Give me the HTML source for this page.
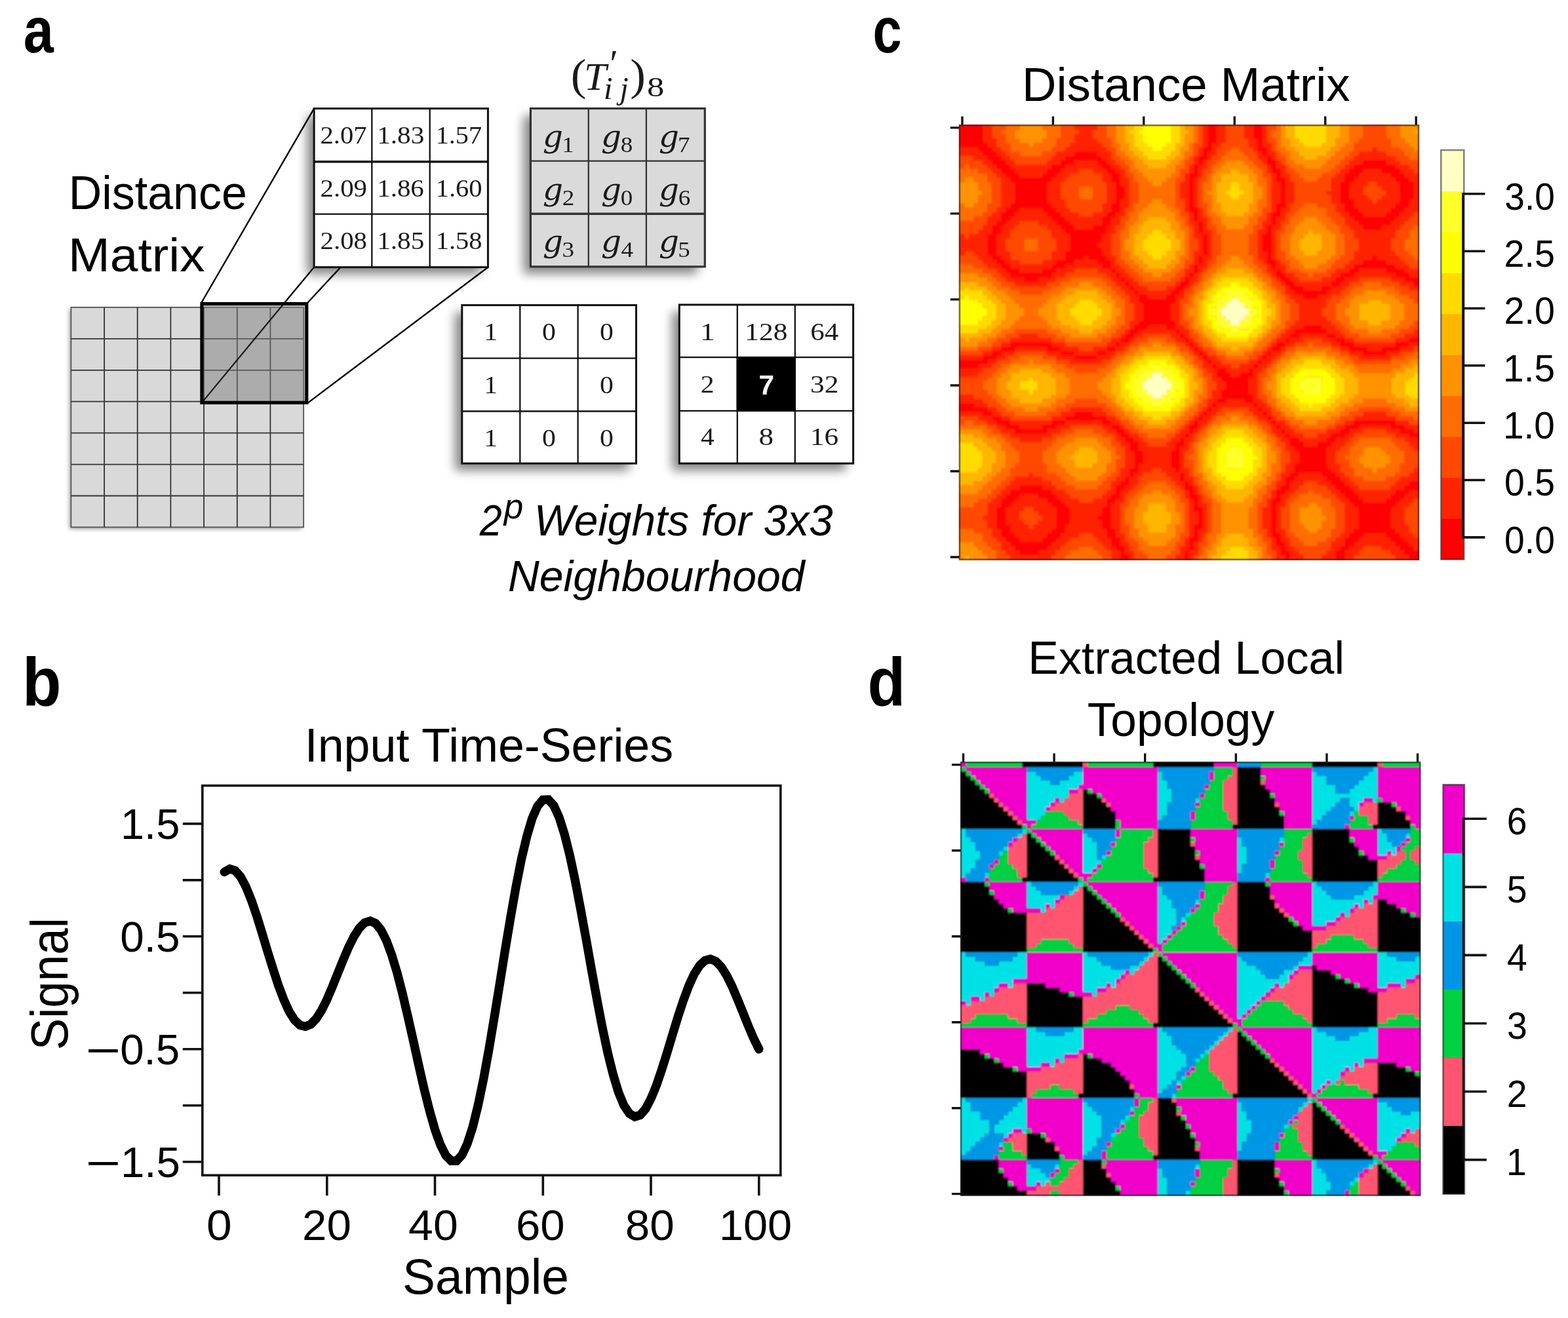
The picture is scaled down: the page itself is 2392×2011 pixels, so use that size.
<!DOCTYPE html>
<html lang="en"><head><meta charset="utf-8"><title>Figure</title>
<style>
html,body{margin:0;padding:0;background:#fff;}
body{width:2392px;height:2011px;overflow:hidden;}
svg{display:block;}
</style></head><body>
<svg width="2392" height="2011" viewBox="0 0 2392 2011">
<defs>
<filter id="sh" x="-20%" y="-20%" width="140%" height="140%"><feGaussianBlur stdDeviation="8"/></filter>
<filter id="sh2" x="-20%" y="-20%" width="140%" height="140%"><feGaussianBlur stdDeviation="3"/></filter>
<filter id="bl" x="-5%" y="-5%" width="110%" height="110%"><feGaussianBlur stdDeviation="1.7"/></filter>
<filter id="bl2" x="-5%" y="-5%" width="110%" height="110%"><feGaussianBlur stdDeviation="1.1"/></filter>
<clipPath id="clipc"><rect x="1463.0" y="190.3" width="701.9" height="664.3"/></clipPath>
<clipPath id="clipd"><rect x="1465.2" y="1162.4" width="701.9" height="662.2"/></clipPath>
</defs>
<rect width="2392" height="2011" fill="#fff"/>
<text font-family='"Liberation Sans", sans-serif' font-size="98.60" font-weight="bold" transform="translate(35.82 79.60) scale(0.8399 1.0000)">a</text>
<text font-family='"Liberation Sans", sans-serif' font-size="72.87" transform="translate(104.63 319.40) scale(0.9604 1.0000)">Distance</text>
<text font-family='"Liberation Sans", sans-serif' font-size="71.71" transform="translate(104.08 413.70) scale(1.0679 1.0000)">Matrix</text>
<rect x="105.9" y="471.5" width="354.70000000000005" height="335.4" fill="#000" opacity="0.4" filter="url(#sh2)"/>
<rect x="108.4" y="469.0" width="354.70000000000005" height="335.4" fill="#d9d9d9" stroke="#555" stroke-width="1.8"/>
<path d="M159.1 469.0V804.4M108.4 516.9H463.1M209.7 469.0V804.4M108.4 564.8H463.1M260.4 469.0V804.4M108.4 612.7H463.1M311.1 469.0V804.4M108.4 660.7H463.1M361.8 469.0V804.4M108.4 708.6H463.1M412.4 469.0V804.4M108.4 756.5H463.1" stroke="#333" stroke-width="1.8" fill="none"/>
<path d="M306.9 462.5L479.1 165.6M467.8 463.5L744.4 165.6M468.8 615.4L744.4 407.7" stroke="#000" stroke-width="2.4" fill="none"/>
<rect x="307.9" y="463.5" width="159.90000000000003" height="150.89999999999998" fill="#7f7f7f" fill-opacity="0.5" stroke="#000" stroke-width="5.1"/>
<path d="M307.9 614.4L434.8 461" stroke="#000" stroke-width="2.2" fill="none" opacity="0.85"/>
<path d="M434.8 461L479.1 407.7" stroke="#000" stroke-width="2.4" fill="none"/>
<rect x="468.1" y="176.6" width="265.29999999999995" height="242.1" fill="#000" opacity="0.47" filter="url(#sh)"/>
<rect x="479.1" y="165.6" width="265.29999999999995" height="242.1" fill="#fff" stroke="#111" stroke-width="3.0"/>
<path d="M567.3 165.6V407.7M655.7 165.6V407.7M479.1 326.7H744.4" stroke="#111" stroke-width="2.3" fill="none"/>
<path d="M479.1 246.7H744.4" stroke="#111" stroke-width="3.5" fill="none"/>
<text font-family='"Liberation Serif", serif' font-size="38.19" fill="#1a1a1a" transform="translate(488.58 218.90) scale(1.0615 1.0000)">2.07</text>
<text font-family='"Liberation Serif", serif' font-size="38.19" fill="#1a1a1a" transform="translate(575.20 218.90) scale(1.0781 1.0000)">1.83</text>
<text font-family='"Liberation Serif", serif' font-size="38.19" fill="#1a1a1a" transform="translate(664.68 218.90) scale(1.0538 1.0000)">1.57</text>
<text font-family='"Liberation Serif", serif' font-size="38.34" fill="#1a1a1a" transform="translate(488.56 299.80) scale(1.0652 1.0000)">2.09</text>
<text font-family='"Liberation Serif", serif' font-size="38.34" fill="#1a1a1a" transform="translate(575.22 299.80) scale(1.0673 1.0000)">1.86</text>
<text font-family='"Liberation Serif", serif' font-size="38.34" fill="#1a1a1a" transform="translate(664.66 299.80) scale(1.0561 1.0000)">1.60</text>
<text font-family='"Liberation Serif", serif' font-size="38.49" fill="#1a1a1a" transform="translate(488.57 380.20) scale(1.0594 1.0000)">2.08</text>
<text font-family='"Liberation Serif", serif' font-size="38.49" fill="#1a1a1a" transform="translate(575.20 380.20) scale(1.0696 1.0000)">1.85</text>
<text font-family='"Liberation Serif", serif' font-size="38.49" fill="#1a1a1a" transform="translate(664.66 380.20) scale(1.0520 1.0000)">1.58</text>
<rect x="798.4" y="176.5" width="265.9" height="241.39999999999998" fill="#000" opacity="0.47" filter="url(#sh)"/>
<rect x="809.4" y="165.5" width="265.9" height="241.39999999999998" fill="#dadada" stroke="#333" stroke-width="3.2"/>
<path d="M897.8 165.5V406.9M985.9 165.5V406.9M809.4 245.7H1075.3" stroke="#333" stroke-width="2.3" fill="none"/>
<path d="M809.4 326.3H1075.3" stroke="#333" stroke-width="3.5" fill="none"/>
<text fill="#1a1a1a"><tspan x="828.11" y="223.98" font-family='"DejaVu Serif", "Liberation Serif", serif' font-size="47.28" font-style="italic" textLength="30.96" lengthAdjust="spacingAndGlyphs">g</tspan><tspan x="857.16" y="232.20" font-family='"Liberation Serif", serif' font-size="34.32" textLength="18.53" lengthAdjust="spacingAndGlyphs">1</tspan></text>
<text fill="#1a1a1a"><tspan x="916.91" y="223.98" font-family='"DejaVu Serif", "Liberation Serif", serif' font-size="47.28" font-style="italic" textLength="30.96" lengthAdjust="spacingAndGlyphs">g</tspan><tspan x="946.81" y="232.20" font-family='"Liberation Serif", serif' font-size="34.32" textLength="18.53" lengthAdjust="spacingAndGlyphs">8</tspan></text>
<text fill="#1a1a1a"><tspan x="1005.11" y="223.98" font-family='"DejaVu Serif", "Liberation Serif", serif' font-size="47.28" font-style="italic" textLength="30.96" lengthAdjust="spacingAndGlyphs">g</tspan><tspan x="1033.99" y="232.20" font-family='"Liberation Serif", serif' font-size="34.32" textLength="18.53" lengthAdjust="spacingAndGlyphs">7</tspan></text>
<text fill="#1a1a1a"><tspan x="828.11" y="304.58" font-family='"DejaVu Serif", "Liberation Serif", serif' font-size="47.28" font-style="italic" textLength="30.96" lengthAdjust="spacingAndGlyphs">g</tspan><tspan x="857.82" y="312.80" font-family='"Liberation Serif", serif' font-size="34.32" textLength="18.53" lengthAdjust="spacingAndGlyphs">2</tspan></text>
<text fill="#1a1a1a"><tspan x="916.91" y="304.58" font-family='"DejaVu Serif", "Liberation Serif", serif' font-size="47.28" font-style="italic" textLength="30.96" lengthAdjust="spacingAndGlyphs">g</tspan><tspan x="946.81" y="312.80" font-family='"Liberation Serif", serif' font-size="34.32" textLength="18.53" lengthAdjust="spacingAndGlyphs">0</tspan></text>
<text fill="#1a1a1a"><tspan x="1005.11" y="304.58" font-family='"DejaVu Serif", "Liberation Serif", serif' font-size="47.28" font-style="italic" textLength="30.96" lengthAdjust="spacingAndGlyphs">g</tspan><tspan x="1034.82" y="312.80" font-family='"Liberation Serif", serif' font-size="34.32" textLength="18.53" lengthAdjust="spacingAndGlyphs">6</tspan></text>
<text fill="#1a1a1a"><tspan x="828.11" y="384.18" font-family='"DejaVu Serif", "Liberation Serif", serif' font-size="47.28" font-style="italic" textLength="30.96" lengthAdjust="spacingAndGlyphs">g</tspan><tspan x="857.64" y="392.40" font-family='"Liberation Serif", serif' font-size="34.32" textLength="18.53" lengthAdjust="spacingAndGlyphs">3</tspan></text>
<text fill="#1a1a1a"><tspan x="916.91" y="384.18" font-family='"DejaVu Serif", "Liberation Serif", serif' font-size="47.28" font-style="italic" textLength="30.96" lengthAdjust="spacingAndGlyphs">g</tspan><tspan x="947.46" y="392.40" font-family='"Liberation Serif", serif' font-size="34.32" textLength="18.53" lengthAdjust="spacingAndGlyphs">4</tspan></text>
<text fill="#1a1a1a"><tspan x="1005.11" y="384.18" font-family='"DejaVu Serif", "Liberation Serif", serif' font-size="47.28" font-style="italic" textLength="30.96" lengthAdjust="spacingAndGlyphs">g</tspan><tspan x="1034.27" y="392.40" font-family='"Liberation Serif", serif' font-size="34.32" textLength="18.53" lengthAdjust="spacingAndGlyphs">5</tspan></text>
<text fill="#1a1a1a"><tspan x="870.68" y="137.00" font-family='"Liberation Serif", serif' font-size="67.20" textLength="23.67" lengthAdjust="spacingAndGlyphs">(</tspan><tspan x="891.12" y="136.50" font-family='"Liberation Serif", serif' font-size="59.08" font-style="italic" textLength="34.08" lengthAdjust="spacingAndGlyphs">T</tspan><tspan x="930.29" y="116.56" font-family='"Liberation Serif", serif' font-size="58.26">′</tspan><tspan x="920.76" y="150.80" font-family='"Liberation Serif", serif' font-size="47.70" font-style="italic" textLength="13.86" lengthAdjust="spacingAndGlyphs">i</tspan><tspan x="945.38" y="150.80" font-family='"Liberation Serif", serif' font-size="47.70" font-style="italic">j</tspan><tspan x="961.19" y="137.00" font-family='"Liberation Serif", serif' font-size="67.20" textLength="23.67" lengthAdjust="spacingAndGlyphs">)</tspan><tspan x="987.02" y="147.40" font-family='"Liberation Serif", serif' font-size="41.72" textLength="26.35" lengthAdjust="spacingAndGlyphs">8</tspan></text>
<rect x="693.8" y="476.6" width="265.70000000000005" height="241.5" fill="#000" opacity="0.47" filter="url(#sh)"/>
<rect x="704.8" y="465.6" width="265.70000000000005" height="241.5" fill="#fff" stroke="#111" stroke-width="3.0"/>
<path d="M793.3 465.6V707.1M881.6 465.6V707.1M704.8 546.7H970.5M704.8 627.5H970.5" stroke="#111" stroke-width="2.3" fill="none"/>
<text font-family='"Liberation Serif", serif' font-size="37.89" fill="#1a1a1a" transform="translate(738.31 518.70) scale(1.1000 1.0000)">1</text>
<text font-family='"Liberation Serif", serif' font-size="37.89" fill="#1a1a1a" transform="translate(826.88 518.70) scale(1.1000 1.0000)">0</text>
<text font-family='"Liberation Serif", serif' font-size="37.89" fill="#1a1a1a" transform="translate(915.08 518.70) scale(1.1000 1.0000)">0</text>
<text font-family='"Liberation Serif", serif' font-size="37.89" fill="#1a1a1a" transform="translate(738.31 599.80) scale(1.1000 1.0000)">1</text>
<text font-family='"Liberation Serif", serif' font-size="37.89" fill="#1a1a1a" transform="translate(915.08 599.80) scale(1.1000 1.0000)">0</text>
<text font-family='"Liberation Serif", serif' font-size="37.89" fill="#1a1a1a" transform="translate(738.31 680.90) scale(1.1000 1.0000)">1</text>
<text font-family='"Liberation Serif", serif' font-size="37.89" fill="#1a1a1a" transform="translate(826.88 680.90) scale(1.1000 1.0000)">0</text>
<text font-family='"Liberation Serif", serif' font-size="37.89" fill="#1a1a1a" transform="translate(915.08 680.90) scale(1.1000 1.0000)">0</text>
<rect x="1025.3" y="476.0" width="265.29999999999995" height="242.10000000000002" fill="#000" opacity="0.47" filter="url(#sh)"/>
<rect x="1036.3" y="465.0" width="265.29999999999995" height="242.10000000000002" fill="#fff" stroke="#111" stroke-width="3.0"/>
<path d="M1124.8 465.0V707.1M1212.8 465.0V707.1M1036.3 545.2H1301.6M1036.3 626.8H1301.6" stroke="#111" stroke-width="2.3" fill="none"/>
<rect x="1123.6" y="544" width="90.4" height="84.0" fill="#000"/>
<text font-family='"Liberation Serif", serif' font-size="38.94" fill="#1a1a1a" transform="translate(1068.03 518.70) scale(1.1655 1.0000)">1</text>
<text font-family='"Liberation Serif", serif' font-size="38.94" fill="#1a1a1a" transform="translate(1136.30 518.70) scale(1.1149 1.0000)">128</text>
<text font-family='"Liberation Serif", serif' font-size="38.94" fill="#1a1a1a" transform="translate(1236.17 518.70) scale(1.1061 1.0000)">64</text>
<text font-family='"Liberation Serif", serif' font-size="37.74" fill="#1a1a1a" transform="translate(1068.73 599.00) scale(1.1061 1.0000)">2</text>
<text font-family='"Liberation Sans", sans-serif' font-size="42.33" font-weight="bold" fill="#fff" transform="translate(1157.40 601.50) scale(1.0003 1.0000)">7</text>
<text font-family='"Liberation Serif", serif' font-size="37.74" fill="#1a1a1a" transform="translate(1235.94 599.00) scale(1.1515 1.0000)">32</text>
<text font-family='"Liberation Serif", serif' font-size="37.89" fill="#1a1a1a" transform="translate(1068.88 679.40) scale(1.0842 1.0000)">4</text>
<text font-family='"Liberation Serif", serif' font-size="37.89" fill="#1a1a1a" transform="translate(1157.51 679.40) scale(1.1924 1.0000)">8</text>
<text font-family='"Liberation Serif", serif' font-size="37.89" fill="#1a1a1a" transform="translate(1235.81 679.40) scale(1.1425 1.0000)">16</text>
<text fill="#000"><tspan x="731.71" y="816.60" font-family='"Liberation Sans", sans-serif' font-size="67.20" font-style="italic" textLength="33.93" lengthAdjust="spacingAndGlyphs">2</tspan><tspan x="768.83" y="791.02" font-family='"Liberation Sans", sans-serif' font-size="53.05" font-style="italic">p </tspan><tspan x="814.74" y="816.60" font-family='"Liberation Sans", sans-serif' font-size="67.20" font-style="italic" textLength="455.98" lengthAdjust="spacingAndGlyphs">Weights for 3x3</tspan></text>
<text font-family='"Liberation Sans", sans-serif' font-size="67.05" font-style="italic" transform="translate(775.01 902.10) scale(0.9871 1.0000)">Neighbourhood</text>
<text font-family='"Liberation Sans", sans-serif' font-size="103.86" font-weight="bold" transform="translate(33.97 1076.20) scale(0.9380 1.0000)">b</text>
<text font-family='"Liberation Sans", sans-serif' font-size="71.56" transform="translate(464.76 1161.50) scale(1.0030 1.0000)">Input Time-Series</text>
<rect x="308.8" y="1198.7" width="882.0" height="594.5" fill="#fff" stroke="#111" stroke-width="3.6"/>
<path d="M278.8 1256.9H308.8M278.8 1342.9H308.8M278.8 1428.8H308.8M278.8 1514.8H308.8M278.8 1600.8H308.8M278.8 1686.7H308.8M278.8 1772.7H308.8M334.0 1793.2V1824.2M498.8 1793.2V1824.2M663.5 1793.2V1824.2M828.3 1793.2V1824.2M993.0 1793.2V1824.2M1157.8 1793.2V1824.2" stroke="#111" stroke-width="3.6" fill="none"/>
<text font-family='"Liberation Sans", sans-serif' font-size="65.45" transform="translate(183.92 1280.45) scale(0.9946 1.0000)">1.5</text>
<text font-family='"Liberation Sans", sans-serif' font-size="65.45" transform="translate(183.17 1452.35) scale(1.0030 1.0000)">0.5</text>
<text fill="#000"><tspan x="130.40" y="1624.85" font-family='"Liberation Sans", sans-serif' font-size="65.45" textLength="53.70" lengthAdjust="spacingAndGlyphs">−</tspan><tspan x="183.17" y="1624.25" font-family='"Liberation Sans", sans-serif' font-size="65.45">0.5</tspan></text>
<text fill="#000"><tspan x="130.40" y="1796.75" font-family='"Liberation Sans", sans-serif' font-size="65.45" textLength="53.70" lengthAdjust="spacingAndGlyphs">−</tspan><tspan x="183.92" y="1796.15" font-family='"Liberation Sans", sans-serif' font-size="65.45">1.5</tspan></text>
<text font-family='"Liberation Sans", sans-serif' font-size="65.23" transform="translate(314.92 1892.30) scale(1.0659 1.0000)">0</text>
<text font-family='"Liberation Sans", sans-serif' font-size="65.23" transform="translate(461.04 1892.30) scale(1.0300 1.0000)">20</text>
<text font-family='"Liberation Sans", sans-serif' font-size="65.23" transform="translate(623.07 1892.30) scale(1.0424 1.0000)">40</text>
<text font-family='"Liberation Sans", sans-serif' font-size="65.23" transform="translate(787.05 1892.30) scale(1.0285 1.0000)">60</text>
<text font-family='"Liberation Sans", sans-serif' font-size="65.23" transform="translate(953.83 1892.30) scale(1.0344 1.0000)">80</text>
<text font-family='"Liberation Sans", sans-serif' font-size="65.23" transform="translate(1097.00 1892.30) scale(1.0213 1.0000)">100</text>
<text font-family='"Liberation Sans", sans-serif' font-size="75.99" transform="translate(614.03 1973.60) scale(0.9859 1.0000)">Sample</text>
<text font-family='"Liberation Sans", sans-serif' font-size="80.55" transform="translate(102.7 1599.1) rotate(-90) translate(-3.27 0) scale(0.9033 1)">Signal</text>
<path d="M342.2 1330.5L350.5 1325.7L358.7 1328.3L367.0 1337.7L375.2 1353.1L383.4 1373.4L391.7 1397.5L399.9 1423.9L408.1 1451.3L416.4 1478.1L424.6 1503.2L432.9 1525.2L441.1 1543.2L449.3 1556.3L457.6 1564.1L465.8 1566.3L474.0 1563.0L482.3 1554.5L490.5 1541.6L498.8 1525.0L507.0 1505.8L515.2 1485.3L523.5 1464.8L531.7 1445.5L540.0 1428.8L548.2 1415.9L556.4 1407.8L564.7 1405.2L572.9 1408.8L581.1 1418.7L589.4 1434.9L597.6 1457.1L605.9 1484.6L614.1 1516.4L622.3 1551.5L630.6 1588.3L638.8 1625.5L647.0 1661.4L655.3 1694.6L663.5 1723.4L671.8 1746.5L680.0 1762.7L688.2 1771.2L696.5 1771.2L704.7 1762.5L712.9 1745.1L721.2 1719.3L729.4 1685.9L737.7 1646.0L745.9 1600.8L754.1 1551.8L762.4 1500.7L770.6 1449.4L778.9 1399.6L787.1 1353.1L795.3 1311.5L803.6 1276.4L811.8 1248.9L820.0 1230.0L828.3 1220.3L836.5 1220.0L844.8 1229.1L853.0 1247.1L861.2 1273.1L869.5 1306.2L877.7 1345.0L885.9 1388.0L894.2 1433.4L902.4 1479.7L910.7 1525.0L918.9 1567.7L927.1 1606.4L935.4 1639.8L943.6 1666.8L951.8 1686.7L960.1 1699.1L968.3 1703.9L976.6 1701.3L984.8 1691.9L993.0 1676.5L1001.3 1656.2L1009.5 1632.1L1017.8 1605.7L1026.0 1578.3L1034.2 1551.5L1042.5 1526.4L1050.7 1504.4L1058.9 1486.4L1067.2 1473.3L1075.4 1465.5L1083.7 1463.3L1091.9 1466.6L1100.1 1475.1L1108.4 1488.0L1116.6 1504.6L1124.8 1523.8L1133.1 1544.3L1141.3 1564.8L1149.6 1584.1L1157.8 1600.8" stroke="#000" stroke-width="13.4" fill="none" stroke-linecap="round" stroke-linejoin="miter" stroke-miterlimit="6"/>
<text font-family='"Liberation Sans", sans-serif' font-size="98.60" font-weight="bold" transform="translate(1331.43 79.90) scale(0.8030 1.0000)">c</text>
<text font-family='"Liberation Sans", sans-serif' font-size="72.29" transform="translate(1559.01 154.00) scale(1.0051 1.0000)">Distance Matrix</text>
<g clip-path="url(#clipc)"><g filter="url(#bl)">
<rect x="1452.3" y="179.6" width="723.3" height="685.6999999999999" fill="#FF0000"/>
<path fill="#FF2400" d="M1499.3 179.6H1513.3V198.2H1499.3zM1639.1 179.6H1674.1V198.2H1639.1zM1834.9 179.6H1841.9V198.2H1834.9zM1855.9 179.6H1869.9V198.2H1855.9zM1897.9 179.6H1911.9V198.2H1897.9zM1925.8 179.6H1932.8V198.2H1925.8zM1499.3 198.2H1513.3V204.8H1499.3zM1646.1 198.2H1667.1V204.8H1646.1zM1834.9 198.2H1841.9V204.8H1834.9zM1855.9 198.2H1869.9V204.8H1855.9zM1897.9 198.2H1911.9V204.8H1897.9zM1925.8 198.2H1932.8V204.8H1925.8zM1499.3 204.8H1513.3V211.5H1499.3zM1639.1 204.8H1667.1V211.5H1639.1zM1834.9 204.8H1841.9V211.5H1834.9zM1855.9 204.8H1869.9V211.5H1855.9zM1897.9 204.8H1911.9V211.5H1897.9zM1925.8 204.8H1932.8V211.5H1925.8zM1499.3 211.5H1520.2V218.1H1499.3zM1639.1 211.5H1674.1V218.1H1639.1zM1834.9 211.5H1841.9V218.1H1834.9zM1855.9 211.5H1869.9V218.1H1855.9zM1904.9 211.5H1918.8V218.1H1904.9zM1925.8 211.5H1932.8V218.1H1925.8zM1506.3 218.1H1520.2V224.7H1506.3zM1632.1 218.1H1681.1V224.7H1632.1zM1834.9 218.1H1841.9V224.7H1834.9zM1848.9 218.1H1862.9V224.7H1848.9zM1904.9 218.1H1918.8V224.7H1904.9zM1925.8 218.1H1939.8V224.7H1925.8zM1452.3 224.7H1492.3V231.3H1452.3zM1513.3 224.7H1527.2V231.3H1513.3zM1625.1 224.7H1688.1V231.3H1625.1zM1827.9 224.7H1834.9V231.3H1827.9zM1848.9 224.7H1855.9V231.3H1848.9zM1911.9 224.7H1918.8V231.3H1911.9zM1932.8 224.7H1939.8V231.3H1932.8zM2093.7 224.7H2100.7V231.3H2093.7zM1452.3 231.3H1499.3V237.9H1452.3zM1520.2 231.3H1534.2V237.9H1520.2zM1611.2 231.3H1639.1V237.9H1611.2zM1674.1 231.3H1695.1V237.9H1674.1zM1827.9 231.3H1834.9V237.9H1827.9zM1841.9 231.3H1855.9V237.9H1841.9zM1918.8 231.3H1925.8V237.9H1918.8zM1932.8 231.3H1946.8V237.9H1932.8zM2072.7 231.3H2114.6V237.9H2072.7zM1485.3 237.9H1506.3V244.5H1485.3zM1527.2 237.9H1541.2V244.5H1527.2zM1604.2 237.9H1625.1V244.5H1604.2zM1681.1 237.9H1695.1V244.5H1681.1zM1820.9 237.9H1827.9V244.5H1820.9zM1841.9 237.9H1848.9V244.5H1841.9zM1918.8 237.9H1932.8V244.5H1918.8zM1939.8 237.9H1946.8V244.5H1939.8zM2065.7 237.9H2128.6V244.5H2065.7zM1499.3 244.5H1513.3V251.2H1499.3zM1534.2 244.5H1548.2V251.2H1534.2zM1597.2 244.5H1618.1V251.2H1597.2zM1639.1 244.5H1674.1V251.2H1639.1zM1688.1 244.5H1702.1V251.2H1688.1zM1820.9 244.5H1827.9V251.2H1820.9zM1834.9 244.5H1841.9V251.2H1834.9zM1925.8 244.5H1932.8V251.2H1925.8zM1946.8 244.5H1953.8V251.2H1946.8zM2058.7 244.5H2079.7V251.2H2058.7zM2114.6 244.5H2135.6V251.2H2114.6zM1506.3 251.2H1520.2V257.8H1506.3zM1541.2 251.2H1604.2V257.8H1541.2zM1625.1 251.2H1681.1V257.8H1625.1zM1695.1 251.2H1709.1V257.8H1695.1zM1813.9 251.2H1820.9V257.8H1813.9zM1827.9 251.2H1841.9V257.8H1827.9zM1932.8 251.2H1939.8V257.8H1932.8zM1946.8 251.2H1960.8V257.8H1946.8zM2051.7 251.2H2065.7V257.8H2051.7zM2128.6 251.2H2149.6V257.8H2128.6zM1513.3 257.8H1527.2V264.4H1513.3zM1548.2 257.8H1597.2V264.4H1548.2zM1618.1 257.8H1646.1V264.4H1618.1zM1667.1 257.8H1688.1V264.4H1667.1zM1702.1 257.8H1716.0V264.4H1702.1zM1813.9 257.8H1820.9V264.4H1813.9zM1827.9 257.8H1834.9V264.4H1827.9zM1932.8 257.8H1939.8V264.4H1932.8zM1953.8 257.8H1960.8V264.4H1953.8zM2044.7 257.8H2058.7V264.4H2044.7zM2079.7 257.8H2107.7V264.4H2079.7zM2135.6 257.8H2156.6V264.4H2135.6zM1520.2 264.4H1534.2V271.0H1520.2zM1555.2 264.4H1590.2V271.0H1555.2zM1611.2 264.4H1632.1V271.0H1611.2zM1681.1 264.4H1695.1V271.0H1681.1zM1709.1 264.4H1716.0V271.0H1709.1zM1807.0 264.4H1813.9V271.0H1807.0zM1827.9 264.4H1834.9V271.0H1827.9zM1939.8 264.4H1946.8V271.0H1939.8zM1953.8 264.4H1967.8V271.0H1953.8zM2037.7 264.4H2051.7V271.0H2037.7zM2072.7 264.4H2121.6V271.0H2072.7zM2142.6 264.4H2175.6V271.0H2142.6zM1527.2 271.0H1541.2V277.6H1527.2zM1604.2 271.0H1625.1V277.6H1604.2zM1681.1 271.0H1695.1V277.6H1681.1zM1709.1 271.0H1723.0V277.6H1709.1zM1807.0 271.0H1813.9V277.6H1807.0zM1820.9 271.0H1827.9V277.6H1820.9zM1939.8 271.0H1946.8V277.6H1939.8zM1960.8 271.0H1967.8V277.6H1960.8zM2030.7 271.0H2051.7V277.6H2030.7zM2065.7 271.0H2128.6V277.6H2065.7zM2149.6 271.0H2175.6V277.6H2149.6zM1527.2 277.6H1548.2V284.2H1527.2zM1597.2 277.6H1618.1V284.2H1597.2zM1688.1 277.6H1702.1V284.2H1688.1zM1709.1 277.6H1723.0V284.2H1709.1zM1800.0 277.6H1813.9V284.2H1800.0zM1820.9 277.6H1827.9V284.2H1820.9zM1939.8 277.6H1953.8V284.2H1939.8zM1960.8 277.6H1974.8V284.2H1960.8zM2030.7 277.6H2044.7V284.2H2030.7zM2058.7 277.6H2086.7V284.2H2058.7zM2100.7 277.6H2135.6V284.2H2100.7zM2156.6 277.6H2175.6V284.2H2156.6zM1527.2 284.2H1548.2V290.9H1527.2zM1597.2 284.2H1618.1V290.9H1597.2zM1688.1 284.2H1702.1V290.9H1688.1zM1716.0 284.2H1723.0V290.9H1716.0zM1800.0 284.2H1813.9V290.9H1800.0zM1820.9 284.2H1827.9V290.9H1820.9zM1939.8 284.2H1953.8V290.9H1939.8zM1960.8 284.2H1974.8V290.9H1960.8zM2030.7 284.2H2044.7V290.9H2030.7zM2058.7 284.2H2079.7V290.9H2058.7zM2107.7 284.2H2135.6V290.9H2107.7zM2156.6 284.2H2175.6V290.9H2156.6zM1527.2 290.9H1548.2V297.5H1527.2zM1597.2 290.9H1618.1V297.5H1597.2zM1688.1 290.9H1702.1V297.5H1688.1zM1716.0 290.9H1723.0V297.5H1716.0zM1800.0 290.9H1813.9V297.5H1800.0zM1820.9 290.9H1827.9V297.5H1820.9zM1939.8 290.9H1953.8V297.5H1939.8zM1960.8 290.9H1974.8V297.5H1960.8zM2023.7 290.9H2044.7V297.5H2023.7zM2058.7 290.9H2079.7V297.5H2058.7zM2114.6 290.9H2135.6V297.5H2114.6zM2156.6 290.9H2175.6V297.5H2156.6zM1527.2 297.5H1548.2V304.1H1527.2zM1597.2 297.5H1618.1V304.1H1597.2zM1688.1 297.5H1702.1V304.1H1688.1zM1716.0 297.5H1723.0V304.1H1716.0zM1800.0 297.5H1813.9V304.1H1800.0zM1820.9 297.5H1827.9V304.1H1820.9zM1939.8 297.5H1953.8V304.1H1939.8zM1960.8 297.5H1974.8V304.1H1960.8zM2030.7 297.5H2044.7V304.1H2030.7zM2058.7 297.5H2086.7V304.1H2058.7zM2107.7 297.5H2135.6V304.1H2107.7zM2156.6 297.5H2175.6V304.1H2156.6zM1527.2 304.1H1548.2V310.7H1527.2zM1597.2 304.1H1625.1V310.7H1597.2zM1688.1 304.1H1702.1V310.7H1688.1zM1709.1 304.1H1723.0V310.7H1709.1zM1807.0 304.1H1813.9V310.7H1807.0zM1820.9 304.1H1827.9V310.7H1820.9zM1939.8 304.1H1953.8V310.7H1939.8zM1960.8 304.1H1974.8V310.7H1960.8zM2030.7 304.1H2044.7V310.7H2030.7zM2065.7 304.1H2093.7V310.7H2065.7zM2100.7 304.1H2135.6V310.7H2100.7zM2149.6 304.1H2175.6V310.7H2149.6zM1527.2 310.7H1541.2V317.3H1527.2zM1604.2 310.7H1625.1V317.3H1604.2zM1681.1 310.7H1695.1V317.3H1681.1zM1709.1 310.7H1723.0V317.3H1709.1zM1807.0 310.7H1813.9V317.3H1807.0zM1820.9 310.7H1827.9V317.3H1820.9zM1939.8 310.7H1946.8V317.3H1939.8zM1960.8 310.7H1967.8V317.3H1960.8zM2037.7 310.7H2051.7V317.3H2037.7zM2065.7 310.7H2128.6V317.3H2065.7zM2149.6 310.7H2175.6V317.3H2149.6zM1520.2 317.3H1534.2V323.9H1520.2zM1555.2 317.3H1590.2V323.9H1555.2zM1611.2 317.3H1632.1V323.9H1611.2zM1681.1 317.3H1695.1V323.9H1681.1zM1709.1 317.3H1716.0V323.9H1709.1zM1807.0 317.3H1813.9V323.9H1807.0zM1827.9 317.3H1834.9V323.9H1827.9zM1939.8 317.3H1946.8V323.9H1939.8zM1953.8 317.3H1967.8V323.9H1953.8zM2037.7 317.3H2051.7V323.9H2037.7zM2072.7 317.3H2121.6V323.9H2072.7zM2142.6 317.3H2175.6V323.9H2142.6zM1513.3 323.9H1527.2V330.6H1513.3zM1548.2 323.9H1597.2V330.6H1548.2zM1618.1 323.9H1646.1V330.6H1618.1zM1667.1 323.9H1688.1V330.6H1667.1zM1702.1 323.9H1716.0V330.6H1702.1zM1813.9 323.9H1820.9V330.6H1813.9zM1827.9 323.9H1834.9V330.6H1827.9zM1932.8 323.9H1939.8V330.6H1932.8zM1953.8 323.9H1960.8V330.6H1953.8zM2044.7 323.9H2058.7V330.6H2044.7zM2079.7 323.9H2114.6V330.6H2079.7zM2135.6 323.9H2156.6V330.6H2135.6zM1506.3 330.6H1527.2V337.2H1506.3zM1541.2 330.6H1604.2V337.2H1541.2zM1625.1 330.6H1681.1V337.2H1625.1zM1695.1 330.6H1709.1V337.2H1695.1zM1813.9 330.6H1820.9V337.2H1813.9zM1827.9 330.6H1841.9V337.2H1827.9zM1932.8 330.6H1939.8V337.2H1932.8zM1946.8 330.6H1960.8V337.2H1946.8zM2051.7 330.6H2065.7V337.2H2051.7zM2128.6 330.6H2149.6V337.2H2128.6zM1506.3 337.2H1520.2V343.8H1506.3zM1534.2 337.2H1555.2V343.8H1534.2zM1583.2 337.2H1611.2V343.8H1583.2zM1632.1 337.2H1681.1V343.8H1632.1zM1695.1 337.2H1709.1V343.8H1695.1zM1813.9 337.2H1827.9V343.8H1813.9zM1834.9 337.2H1841.9V343.8H1834.9zM1925.8 337.2H1939.8V343.8H1925.8zM1946.8 337.2H1953.8V343.8H1946.8zM2051.7 337.2H2072.7V343.8H2051.7zM2121.6 337.2H2142.6V343.8H2121.6zM1499.3 343.8H1513.3V350.4H1499.3zM1527.2 343.8H1548.2V350.4H1527.2zM1597.2 343.8H1618.1V350.4H1597.2zM1639.1 343.8H1667.1V350.4H1639.1zM1688.1 343.8H1702.1V350.4H1688.1zM1820.9 343.8H1827.9V350.4H1820.9zM1834.9 343.8H1841.9V350.4H1834.9zM1925.8 343.8H1932.8V350.4H1925.8zM1939.8 343.8H1953.8V350.4H1939.8zM2058.7 343.8H2079.7V350.4H2058.7zM2107.7 343.8H2135.6V350.4H2107.7zM1492.3 350.4H1513.3V357.0H1492.3zM1527.2 350.4H1541.2V357.0H1527.2zM1604.2 350.4H1625.1V357.0H1604.2zM1688.1 350.4H1702.1V357.0H1688.1zM1820.9 350.4H1827.9V357.0H1820.9zM1834.9 350.4H1848.9V357.0H1834.9zM1918.8 350.4H1932.8V357.0H1918.8zM1939.8 350.4H1946.8V357.0H1939.8zM2065.7 350.4H2128.6V357.0H2065.7zM1452.3 357.0H1471.3V363.6H1452.3zM1478.3 357.0H1506.3V363.6H1478.3zM1520.2 357.0H1541.2V363.6H1520.2zM1604.2 357.0H1632.1V363.6H1604.2zM1681.1 357.0H1695.1V363.6H1681.1zM1820.9 357.0H1834.9V363.6H1820.9zM1841.9 357.0H1848.9V363.6H1841.9zM1918.8 357.0H1925.8V363.6H1918.8zM1939.8 357.0H1946.8V363.6H1939.8zM2065.7 357.0H2128.6V363.6H2065.7zM1452.3 363.6H1506.3V370.3H1452.3zM1520.2 363.6H1534.2V370.3H1520.2zM1611.2 363.6H1632.1V370.3H1611.2zM1681.1 363.6H1695.1V370.3H1681.1zM1827.9 363.6H1834.9V370.3H1827.9zM1841.9 363.6H1848.9V370.3H1841.9zM1918.8 363.6H1925.8V370.3H1918.8zM1939.8 363.6H1946.8V370.3H1939.8zM2072.7 363.6H2121.6V370.3H2072.7zM1452.3 370.3H1506.3V376.9H1452.3zM1520.2 370.3H1534.2V376.9H1520.2zM1611.2 370.3H1632.1V376.9H1611.2zM1674.1 370.3H1695.1V376.9H1674.1zM1827.9 370.3H1834.9V376.9H1827.9zM1841.9 370.3H1848.9V376.9H1841.9zM1918.8 370.3H1925.8V376.9H1918.8zM1939.8 370.3H1946.8V376.9H1939.8zM2072.7 370.3H2121.6V376.9H2072.7zM1452.3 376.9H1506.3V383.5H1452.3zM1520.2 376.9H1534.2V383.5H1520.2zM1611.2 376.9H1632.1V383.5H1611.2zM1681.1 376.9H1695.1V383.5H1681.1zM1827.9 376.9H1834.9V383.5H1827.9zM1841.9 376.9H1848.9V383.5H1841.9zM1918.8 376.9H1925.8V383.5H1918.8zM1939.8 376.9H1946.8V383.5H1939.8zM2072.7 376.9H2121.6V383.5H2072.7zM1452.3 383.5H1471.3V390.1H1452.3zM1485.3 383.5H1506.3V390.1H1485.3zM1520.2 383.5H1541.2V390.1H1520.2zM1604.2 383.5H1625.1V390.1H1604.2zM1681.1 383.5H1695.1V390.1H1681.1zM1820.9 383.5H1834.9V390.1H1820.9zM1841.9 383.5H1848.9V390.1H1841.9zM1918.8 383.5H1932.8V390.1H1918.8zM1939.8 383.5H1946.8V390.1H1939.8zM2065.7 383.5H2128.6V390.1H2065.7zM1492.3 390.1H1513.3V396.7H1492.3zM1527.2 390.1H1541.2V396.7H1527.2zM1604.2 390.1H1625.1V396.7H1604.2zM1653.1 390.1H1660.1V396.7H1653.1zM1688.1 390.1H1702.1V396.7H1688.1zM1820.9 390.1H1827.9V396.7H1820.9zM1834.9 390.1H1848.9V396.7H1834.9zM1918.8 390.1H1932.8V396.7H1918.8zM1939.8 390.1H1946.8V396.7H1939.8zM2065.7 390.1H2093.7V396.7H2065.7zM2100.7 390.1H2135.6V396.7H2100.7zM1499.3 396.7H1520.2V403.3H1499.3zM1534.2 396.7H1555.2V403.3H1534.2zM1590.2 396.7H1611.2V403.3H1590.2zM1639.1 396.7H1674.1V403.3H1639.1zM1695.1 396.7H1702.1V403.3H1695.1zM1820.9 396.7H1827.9V403.3H1820.9zM1834.9 396.7H1841.9V403.3H1834.9zM1925.8 396.7H1932.8V403.3H1925.8zM1946.8 396.7H1953.8V403.3H1946.8zM2058.7 396.7H2079.7V403.3H2058.7zM2114.6 396.7H2142.6V403.3H2114.6zM1506.3 403.3H1527.2V410.0H1506.3zM1541.2 403.3H1604.2V410.0H1541.2zM1625.1 403.3H1681.1V410.0H1625.1zM1695.1 403.3H1709.1V410.0H1695.1zM1813.9 403.3H1820.9V410.0H1813.9zM1827.9 403.3H1841.9V410.0H1827.9zM1932.8 403.3H1939.8V410.0H1932.8zM1946.8 403.3H1960.8V410.0H1946.8zM2051.7 403.3H2065.7V410.0H2051.7zM2128.6 403.3H2149.6V410.0H2128.6zM1520.2 410.0H1534.2V416.6H1520.2zM1555.2 410.0H1590.2V416.6H1555.2zM1611.2 410.0H1639.1V416.6H1611.2zM1674.1 410.0H1695.1V416.6H1674.1zM1702.1 410.0H1716.0V416.6H1702.1zM1807.0 410.0H1820.9V416.6H1807.0zM1827.9 410.0H1834.9V416.6H1827.9zM1932.8 410.0H1946.8V416.6H1932.8zM1953.8 410.0H1960.8V416.6H1953.8zM2037.7 410.0H2058.7V416.6H2037.7zM2072.7 410.0H2114.6V416.6H2072.7zM2142.6 410.0H2175.6V416.6H2142.6zM1527.2 416.6H1541.2V423.2H1527.2zM1604.2 416.6H1625.1V423.2H1604.2zM1688.1 416.6H1702.1V423.2H1688.1zM1709.1 416.6H1723.0V423.2H1709.1zM1807.0 416.6H1813.9V423.2H1807.0zM1820.9 416.6H1827.9V423.2H1820.9zM1939.8 416.6H1946.8V423.2H1939.8zM1960.8 416.6H1974.8V423.2H1960.8zM2030.7 416.6H2044.7V423.2H2030.7zM2065.7 416.6H2128.6V423.2H2065.7zM2149.6 416.6H2175.6V423.2H2149.6zM1534.2 423.2H1562.2V429.8H1534.2zM1583.2 423.2H1611.2V429.8H1583.2zM1695.1 423.2H1709.1V429.8H1695.1zM1716.0 423.2H1730.0V429.8H1716.0zM1800.0 423.2H1807.0V429.8H1800.0zM1813.9 423.2H1827.9V429.8H1813.9zM1946.8 423.2H1953.8V429.8H1946.8zM1967.8 423.2H1981.8V429.8H1967.8zM2016.7 423.2H2037.7V429.8H2016.7zM2051.7 423.2H2072.7V429.8H2051.7zM2121.6 423.2H2142.6V429.8H2121.6zM1548.2 429.8H1597.2V436.4H1548.2zM1702.1 429.8H1716.0V436.4H1702.1zM1723.0 429.8H1737.0V436.4H1723.0zM1793.0 429.8H1800.0V436.4H1793.0zM1813.9 429.8H1820.9V436.4H1813.9zM1953.8 429.8H1960.8V436.4H1953.8zM1974.8 429.8H2030.7V436.4H1974.8zM2044.7 429.8H2058.7V436.4H2044.7zM2135.6 429.8H2156.6V436.4H2135.6zM1709.1 436.4H1723.0V443.0H1709.1zM1730.0 436.4H1751.0V443.0H1730.0zM1779.0 436.4H1793.0V443.0H1779.0zM1807.0 436.4H1813.9V443.0H1807.0zM1960.8 436.4H1967.8V443.0H1960.8zM1988.8 436.4H2016.7V443.0H1988.8zM2030.7 436.4H2051.7V443.0H2030.7zM2149.6 436.4H2175.6V443.0H2149.6zM1716.0 443.0H1730.0V449.7H1716.0zM1737.0 443.0H1786.0V449.7H1737.0zM1800.0 443.0H1807.0V449.7H1800.0zM1960.8 443.0H1974.8V449.7H1960.8zM2023.7 443.0H2044.7V449.7H2023.7zM1723.0 449.7H1737.0V456.3H1723.0zM1751.0 449.7H1779.0V456.3H1751.0zM1793.0 449.7H1807.0V456.3H1793.0zM1967.8 449.7H1988.8V456.3H1967.8zM2009.8 449.7H2030.7V456.3H2009.8zM1723.0 456.3H1737.0V462.9H1723.0zM1793.0 456.3H1800.0V462.9H1793.0zM1974.8 456.3H2023.7V462.9H1974.8zM1730.0 462.9H1744.0V469.5H1730.0zM1786.0 462.9H1800.0V469.5H1786.0zM1981.8 462.9H2023.7V469.5H1981.8zM1730.0 469.5H1744.0V476.1H1730.0zM1786.0 469.5H1800.0V476.1H1786.0zM1981.8 469.5H2016.7V476.1H1981.8zM1730.0 476.1H1744.0V482.7H1730.0zM1786.0 476.1H1800.0V482.7H1786.0zM1981.8 476.1H2016.7V482.7H1981.8zM1730.0 482.7H1744.0V489.4H1730.0zM1786.0 482.7H1800.0V489.4H1786.0zM1981.8 482.7H2023.7V489.4H1981.8zM1723.0 489.4H1737.0V496.0H1723.0zM1793.0 489.4H1800.0V496.0H1793.0zM1974.8 489.4H2030.7V496.0H1974.8zM1723.0 496.0H1730.0V502.6H1723.0zM1751.0 496.0H1779.0V502.6H1751.0zM1793.0 496.0H1807.0V502.6H1793.0zM1967.8 496.0H1988.8V502.6H1967.8zM2016.7 496.0H2037.7V502.6H2016.7zM1716.0 502.6H1723.0V509.2H1716.0zM1737.0 502.6H1793.0V509.2H1737.0zM1800.0 502.6H1813.9V509.2H1800.0zM1960.8 502.6H1974.8V509.2H1960.8zM2023.7 502.6H2044.7V509.2H2023.7zM2156.6 502.6H2175.6V509.2H2156.6zM1555.2 509.2H1583.2V515.8H1555.2zM1709.1 509.2H1716.0V515.8H1709.1zM1730.0 509.2H1744.0V515.8H1730.0zM1786.0 509.2H1800.0V515.8H1786.0zM1807.0 509.2H1813.9V515.8H1807.0zM1953.8 509.2H1967.8V515.8H1953.8zM1981.8 509.2H2023.7V515.8H1981.8zM2037.7 509.2H2051.7V515.8H2037.7zM2142.6 509.2H2175.6V515.8H2142.6zM1541.2 515.8H1604.2V522.4H1541.2zM1695.1 515.8H1709.1V522.4H1695.1zM1723.0 515.8H1730.0V522.4H1723.0zM1793.0 515.8H1807.0V522.4H1793.0zM1813.9 515.8H1820.9V522.4H1813.9zM1946.8 515.8H1960.8V522.4H1946.8zM1967.8 515.8H1988.8V522.4H1967.8zM2016.7 515.8H2037.7V522.4H2016.7zM2051.7 515.8H2065.7V522.4H2051.7zM2128.6 515.8H2149.6V522.4H2128.6zM1527.2 522.4H1541.2V529.1H1527.2zM1604.2 522.4H1625.1V529.1H1604.2zM1688.1 522.4H1702.1V529.1H1688.1zM1709.1 522.4H1723.0V529.1H1709.1zM1807.0 522.4H1813.9V529.1H1807.0zM1820.9 522.4H1827.9V529.1H1820.9zM1939.8 522.4H1946.8V529.1H1939.8zM1960.8 522.4H1974.8V529.1H1960.8zM2030.7 522.4H2044.7V529.1H2030.7zM2065.7 522.4H2128.6V529.1H2065.7zM2149.6 522.4H2175.6V529.1H2149.6zM1513.3 529.1H1527.2V535.7H1513.3zM1548.2 529.1H1597.2V535.7H1548.2zM1618.1 529.1H1646.1V535.7H1618.1zM1667.1 529.1H1688.1V535.7H1667.1zM1702.1 529.1H1716.0V535.7H1702.1zM1813.9 529.1H1820.9V535.7H1813.9zM1827.9 529.1H1834.9V535.7H1827.9zM1932.8 529.1H1939.8V535.7H1932.8zM1953.8 529.1H1960.8V535.7H1953.8zM2044.7 529.1H2058.7V535.7H2044.7zM2086.7 529.1H2107.7V535.7H2086.7zM2135.6 529.1H2156.6V535.7H2135.6zM1499.3 535.7H1513.3V542.3H1499.3zM1527.2 535.7H1548.2V542.3H1527.2zM1597.2 535.7H1618.1V542.3H1597.2zM1639.1 535.7H1674.1V542.3H1639.1zM1688.1 535.7H1702.1V542.3H1688.1zM1820.9 535.7H1827.9V542.3H1820.9zM1834.9 535.7H1841.9V542.3H1834.9zM1925.8 535.7H1932.8V542.3H1925.8zM1939.8 535.7H1953.8V542.3H1939.8zM2058.7 535.7H2079.7V542.3H2058.7zM2114.6 535.7H2135.6V542.3H2114.6zM1452.3 542.3H1499.3V548.9H1452.3zM1520.2 542.3H1534.2V548.9H1520.2zM1611.2 542.3H1639.1V548.9H1611.2zM1674.1 542.3H1695.1V548.9H1674.1zM1827.9 542.3H1834.9V548.9H1827.9zM1841.9 542.3H1855.9V548.9H1841.9zM1918.8 542.3H1925.8V548.9H1918.8zM1932.8 542.3H1946.8V548.9H1932.8zM2072.7 542.3H2121.6V548.9H2072.7zM1506.3 548.9H1520.2V555.5H1506.3zM1632.1 548.9H1681.1V555.5H1632.1zM1834.9 548.9H1841.9V555.5H1834.9zM1848.9 548.9H1862.9V555.5H1848.9zM1904.9 548.9H1918.8V555.5H1904.9zM1925.8 548.9H1939.8V555.5H1925.8zM1492.3 555.5H1513.3V562.2H1492.3zM1834.9 555.5H1848.9V562.2H1834.9zM1855.9 555.5H1876.9V562.2H1855.9zM1890.9 555.5H1911.9V562.2H1890.9zM1918.8 555.5H1932.8V562.2H1918.8zM1452.3 562.2H1499.3V568.8H1452.3zM1841.9 562.2H1855.9V568.8H1841.9zM1869.9 562.2H1904.9V568.8H1869.9zM1911.9 562.2H1925.8V568.8H1911.9zM1452.3 568.8H1492.3V575.4H1452.3zM1848.9 568.8H1855.9V575.4H1848.9zM1876.9 568.8H1890.9V575.4H1876.9zM1911.9 568.8H1918.8V575.4H1911.9zM1848.9 575.4H1862.9V582.0H1848.9zM1904.9 575.4H1918.8V582.0H1904.9zM1855.9 582.0H1869.9V588.6H1855.9zM1904.9 582.0H1918.8V588.6H1904.9zM1855.9 588.6H1869.9V595.2H1855.9zM1904.9 588.6H1918.8V595.2H1904.9zM1848.9 595.2H1862.9V601.9H1848.9zM1904.9 595.2H1918.8V601.9H1904.9zM1452.3 601.9H1485.3V608.5H1452.3zM1848.9 601.9H1862.9V608.5H1848.9zM1911.9 601.9H1918.8V608.5H1911.9zM1452.3 608.5H1499.3V615.1H1452.3zM1841.9 608.5H1855.9V615.1H1841.9zM1869.9 608.5H1897.9V615.1H1869.9zM1911.9 608.5H1925.8V615.1H1911.9zM1485.3 615.1H1506.3V621.7H1485.3zM1841.9 615.1H1848.9V621.7H1841.9zM1855.9 615.1H1911.9V621.7H1855.9zM1918.8 615.1H1932.8V621.7H1918.8zM1506.3 621.7H1520.2V628.3H1506.3zM1632.1 621.7H1681.1V628.3H1632.1zM1834.9 621.7H1841.9V628.3H1834.9zM1848.9 621.7H1862.9V628.3H1848.9zM1904.9 621.7H1918.8V628.3H1904.9zM1925.8 621.7H1939.8V628.3H1925.8zM1452.3 628.3H1499.3V634.9H1452.3zM1513.3 628.3H1527.2V634.9H1513.3zM1618.1 628.3H1639.1V634.9H1618.1zM1667.1 628.3H1688.1V634.9H1667.1zM1827.9 628.3H1834.9V634.9H1827.9zM1841.9 628.3H1855.9V634.9H1841.9zM1911.9 628.3H1925.8V634.9H1911.9zM1932.8 628.3H1939.8V634.9H1932.8zM2079.7 628.3H2114.6V634.9H2079.7zM1492.3 634.9H1513.3V641.6H1492.3zM1527.2 634.9H1541.2V641.6H1527.2zM1604.2 634.9H1625.1V641.6H1604.2zM1688.1 634.9H1702.1V641.6H1688.1zM1820.9 634.9H1827.9V641.6H1820.9zM1834.9 634.9H1848.9V641.6H1834.9zM1918.8 634.9H1932.8V641.6H1918.8zM1939.8 634.9H1946.8V641.6H1939.8zM2065.7 634.9H2128.6V641.6H2065.7zM1506.3 641.6H1520.2V648.2H1506.3zM1541.2 641.6H1604.2V648.2H1541.2zM1625.1 641.6H1681.1V648.2H1625.1zM1695.1 641.6H1709.1V648.2H1695.1zM1813.9 641.6H1820.9V648.2H1813.9zM1827.9 641.6H1841.9V648.2H1827.9zM1932.8 641.6H1939.8V648.2H1932.8zM1946.8 641.6H1960.8V648.2H1946.8zM2051.7 641.6H2065.7V648.2H2051.7zM2128.6 641.6H2149.6V648.2H2128.6zM1520.2 648.2H1534.2V654.8H1520.2zM1555.2 648.2H1590.2V654.8H1555.2zM1611.2 648.2H1632.1V654.8H1611.2zM1681.1 648.2H1695.1V654.8H1681.1zM1709.1 648.2H1716.0V654.8H1709.1zM1807.0 648.2H1813.9V654.8H1807.0zM1827.9 648.2H1834.9V654.8H1827.9zM1939.8 648.2H1946.8V654.8H1939.8zM1953.8 648.2H1967.8V654.8H1953.8zM2037.7 648.2H2051.7V654.8H2037.7zM2072.7 648.2H2121.6V654.8H2072.7zM2142.6 648.2H2175.6V654.8H2142.6zM1527.2 654.8H1548.2V661.4H1527.2zM1597.2 654.8H1618.1V661.4H1597.2zM1688.1 654.8H1702.1V661.4H1688.1zM1716.0 654.8H1723.0V661.4H1716.0zM1800.0 654.8H1813.9V661.4H1800.0zM1820.9 654.8H1827.9V661.4H1820.9zM1939.8 654.8H1953.8V661.4H1939.8zM1960.8 654.8H1974.8V661.4H1960.8zM2023.7 654.8H2044.7V661.4H2023.7zM2058.7 654.8H2079.7V661.4H2058.7zM2114.6 654.8H2135.6V661.4H2114.6zM2156.6 654.8H2175.6V661.4H2156.6zM1541.2 661.4H1604.2V668.0H1541.2zM1702.1 661.4H1709.1V668.0H1702.1zM1723.0 661.4H1737.0V668.0H1723.0zM1793.0 661.4H1807.0V668.0H1793.0zM1813.9 661.4H1820.9V668.0H1813.9zM1946.8 661.4H1960.8V668.0H1946.8zM1967.8 661.4H1988.8V668.0H1967.8zM2009.8 661.4H2030.7V668.0H2009.8zM2051.7 661.4H2065.7V668.0H2051.7zM2128.6 661.4H2149.6V668.0H2128.6zM1555.2 668.0H1590.2V674.6H1555.2zM1702.1 668.0H1716.0V674.6H1702.1zM1730.0 668.0H1744.0V674.6H1730.0zM1786.0 668.0H1800.0V674.6H1786.0zM1807.0 668.0H1820.9V674.6H1807.0zM1953.8 668.0H1967.8V674.6H1953.8zM1981.8 668.0H2023.7V674.6H1981.8zM2037.7 668.0H2058.7V674.6H2037.7zM2142.6 668.0H2175.6V674.6H2142.6zM1709.1 674.6H1723.0V681.3H1709.1zM1737.0 674.6H1751.0V681.3H1737.0zM1779.0 674.6H1793.0V681.3H1779.0zM1807.0 674.6H1813.9V681.3H1807.0zM1960.8 674.6H1967.8V681.3H1960.8zM1988.8 674.6H2009.8V681.3H1988.8zM2030.7 674.6H2051.7V681.3H2030.7zM2149.6 674.6H2175.6V681.3H2149.6zM1716.0 681.3H1723.0V687.9H1716.0zM1737.0 681.3H1793.0V687.9H1737.0zM1800.0 681.3H1813.9V687.9H1800.0zM1960.8 681.3H1974.8V687.9H1960.8zM2023.7 681.3H2044.7V687.9H2023.7zM2156.6 681.3H2175.6V687.9H2156.6zM1716.0 687.9H1730.0V694.5H1716.0zM1744.0 687.9H1786.0V694.5H1744.0zM1800.0 687.9H1807.0V694.5H1800.0zM1967.8 687.9H1981.8V694.5H1967.8zM2023.7 687.9H2037.7V694.5H2023.7zM1716.0 694.5H1730.0V701.1H1716.0zM1744.0 694.5H1786.0V701.1H1744.0zM1800.0 694.5H1807.0V701.1H1800.0zM1967.8 694.5H1981.8V701.1H1967.8zM2023.7 694.5H2037.7V701.1H2023.7zM1716.0 701.1H1730.0V707.7H1716.0zM1744.0 701.1H1786.0V707.7H1744.0zM1800.0 701.1H1807.0V707.7H1800.0zM1967.8 701.1H1981.8V707.7H1967.8zM2023.7 701.1H2037.7V707.7H2023.7zM1716.0 707.7H1730.0V714.3H1716.0zM1737.0 707.7H1786.0V714.3H1737.0zM1800.0 707.7H1807.0V714.3H1800.0zM1960.8 707.7H1974.8V714.3H1960.8zM2023.7 707.7H2044.7V714.3H2023.7zM1709.1 714.3H1723.0V721.0H1709.1zM1737.0 714.3H1758.0V721.0H1737.0zM1772.0 714.3H1793.0V721.0H1772.0zM1800.0 714.3H1813.9V721.0H1800.0zM1960.8 714.3H1974.8V721.0H1960.8zM2030.7 714.3H2044.7V721.0H2030.7zM2156.6 714.3H2175.6V721.0H2156.6zM1569.2 721.0H1576.2V727.6H1569.2zM1709.1 721.0H1723.0V727.6H1709.1zM1730.0 721.0H1744.0V727.6H1730.0zM1779.0 721.0H1800.0V727.6H1779.0zM1807.0 721.0H1813.9V727.6H1807.0zM1953.8 721.0H1967.8V727.6H1953.8zM1981.8 721.0H2016.7V727.6H1981.8zM2037.7 721.0H2051.7V727.6H2037.7zM2149.6 721.0H2175.6V727.6H2149.6zM1548.2 727.6H1590.2V734.2H1548.2zM1702.1 727.6H1716.0V734.2H1702.1zM1723.0 727.6H1737.0V734.2H1723.0zM1786.0 727.6H1800.0V734.2H1786.0zM1807.0 727.6H1820.9V734.2H1807.0zM1953.8 727.6H1960.8V734.2H1953.8zM1974.8 727.6H2023.7V734.2H1974.8zM2044.7 727.6H2058.7V734.2H2044.7zM2135.6 727.6H2175.6V734.2H2135.6zM1541.2 734.2H1604.2V740.8H1541.2zM1695.1 734.2H1709.1V740.8H1695.1zM1723.0 734.2H1737.0V740.8H1723.0zM1793.0 734.2H1807.0V740.8H1793.0zM1813.9 734.2H1820.9V740.8H1813.9zM1946.8 734.2H1960.8V740.8H1946.8zM1967.8 734.2H1988.8V740.8H1967.8zM2009.8 734.2H2030.7V740.8H2009.8zM2051.7 734.2H2065.7V740.8H2051.7zM2128.6 734.2H2149.6V740.8H2128.6zM1534.2 740.8H1555.2V747.4H1534.2zM1590.2 740.8H1611.2V747.4H1590.2zM1695.1 740.8H1702.1V747.4H1695.1zM1716.0 740.8H1730.0V747.4H1716.0zM1800.0 740.8H1807.0V747.4H1800.0zM1820.9 740.8H1827.9V747.4H1820.9zM1946.8 740.8H1953.8V747.4H1946.8zM1967.8 740.8H1981.8V747.4H1967.8zM2023.7 740.8H2037.7V747.4H2023.7zM2058.7 740.8H2072.7V747.4H2058.7zM2121.6 740.8H2142.6V747.4H2121.6zM1527.2 747.4H1541.2V754.0H1527.2zM1604.2 747.4H1625.1V754.0H1604.2zM1688.1 747.4H1702.1V754.0H1688.1zM1709.1 747.4H1723.0V754.0H1709.1zM1807.0 747.4H1813.9V754.0H1807.0zM1820.9 747.4H1827.9V754.0H1820.9zM1939.8 747.4H1946.8V754.0H1939.8zM1960.8 747.4H1974.8V754.0H1960.8zM2030.7 747.4H2044.7V754.0H2030.7zM2065.7 747.4H2128.6V754.0H2065.7zM2149.6 747.4H2175.6V754.0H2149.6zM1520.2 754.0H1534.2V760.7H1520.2zM1555.2 754.0H1583.2V760.7H1555.2zM1611.2 754.0H1632.1V760.7H1611.2zM1681.1 754.0H1695.1V760.7H1681.1zM1709.1 754.0H1716.0V760.7H1709.1zM1807.0 754.0H1813.9V760.7H1807.0zM1827.9 754.0H1834.9V760.7H1827.9zM1939.8 754.0H1946.8V760.7H1939.8zM1953.8 754.0H1967.8V760.7H1953.8zM2037.7 754.0H2051.7V760.7H2037.7zM2072.7 754.0H2121.6V760.7H2072.7zM2142.6 754.0H2175.6V760.7H2142.6zM1513.3 760.7H1527.2V767.3H1513.3zM1548.2 760.7H1597.2V767.3H1548.2zM1618.1 760.7H1646.1V767.3H1618.1zM1667.1 760.7H1688.1V767.3H1667.1zM1702.1 760.7H1716.0V767.3H1702.1zM1813.9 760.7H1820.9V767.3H1813.9zM1827.9 760.7H1834.9V767.3H1827.9zM1932.8 760.7H1939.8V767.3H1932.8zM1953.8 760.7H1960.8V767.3H1953.8zM2044.7 760.7H2058.7V767.3H2044.7zM2079.7 760.7H2114.6V767.3H2079.7zM2135.6 760.7H2156.6V767.3H2135.6zM1506.3 767.3H1527.2V773.9H1506.3zM1541.2 767.3H1604.2V773.9H1541.2zM1625.1 767.3H1688.1V773.9H1625.1zM1695.1 767.3H1709.1V773.9H1695.1zM1813.9 767.3H1820.9V773.9H1813.9zM1827.9 767.3H1841.9V773.9H1827.9zM1932.8 767.3H1939.8V773.9H1932.8zM1946.8 767.3H1960.8V773.9H1946.8zM2051.7 767.3H2065.7V773.9H2051.7zM2128.6 767.3H2149.6V773.9H2128.6zM1506.3 773.9H1520.2V780.5H1506.3zM1534.2 773.9H1562.2V780.5H1534.2zM1576.2 773.9H1611.2V780.5H1576.2zM1632.1 773.9H1681.1V780.5H1632.1zM1695.1 773.9H1709.1V780.5H1695.1zM1813.9 773.9H1820.9V780.5H1813.9zM1834.9 773.9H1841.9V780.5H1834.9zM1925.8 773.9H1939.8V780.5H1925.8zM1946.8 773.9H1953.8V780.5H1946.8zM2051.7 773.9H2072.7V780.5H2051.7zM2121.6 773.9H2142.6V780.5H2121.6zM1506.3 780.5H1520.2V787.1H1506.3zM1534.2 780.5H1555.2V787.1H1534.2zM1583.2 780.5H1611.2V787.1H1583.2zM1632.1 780.5H1681.1V787.1H1632.1zM1695.1 780.5H1709.1V787.1H1695.1zM1813.9 780.5H1827.9V787.1H1813.9zM1834.9 780.5H1841.9V787.1H1834.9zM1925.8 780.5H1939.8V787.1H1925.8zM1946.8 780.5H1953.8V787.1H1946.8zM2051.7 780.5H2072.7V787.1H2051.7zM2121.6 780.5H2142.6V787.1H2121.6zM1499.3 787.1H1520.2V793.7H1499.3zM1534.2 787.1H1555.2V793.7H1534.2zM1590.2 787.1H1611.2V793.7H1590.2zM1632.1 787.1H1674.1V793.7H1632.1zM1695.1 787.1H1709.1V793.7H1695.1zM1813.9 787.1H1827.9V793.7H1813.9zM1834.9 787.1H1841.9V793.7H1834.9zM1925.8 787.1H1939.8V793.7H1925.8zM1946.8 787.1H1953.8V793.7H1946.8zM2051.7 787.1H2072.7V793.7H2051.7zM2121.6 787.1H2142.6V793.7H2121.6zM1506.3 793.7H1520.2V800.4H1506.3zM1534.2 793.7H1562.2V800.4H1534.2zM1583.2 793.7H1611.2V800.4H1583.2zM1632.1 793.7H1681.1V800.4H1632.1zM1695.1 793.7H1709.1V800.4H1695.1zM1813.9 793.7H1827.9V800.4H1813.9zM1834.9 793.7H1841.9V800.4H1834.9zM1925.8 793.7H1939.8V800.4H1925.8zM1946.8 793.7H1953.8V800.4H1946.8zM2051.7 793.7H2072.7V800.4H2051.7zM2121.6 793.7H2142.6V800.4H2121.6zM1506.3 800.4H1520.2V807.0H1506.3zM1541.2 800.4H1569.2V807.0H1541.2zM1576.2 800.4H1611.2V807.0H1576.2zM1625.1 800.4H1681.1V807.0H1625.1zM1695.1 800.4H1709.1V807.0H1695.1zM1813.9 800.4H1820.9V807.0H1813.9zM1834.9 800.4H1841.9V807.0H1834.9zM1925.8 800.4H1939.8V807.0H1925.8zM1946.8 800.4H1953.8V807.0H1946.8zM2051.7 800.4H2072.7V807.0H2051.7zM2121.6 800.4H2149.6V807.0H2121.6zM1513.3 807.0H1527.2V813.6H1513.3zM1541.2 807.0H1604.2V813.6H1541.2zM1625.1 807.0H1688.1V813.6H1625.1zM1702.1 807.0H1709.1V813.6H1702.1zM1813.9 807.0H1820.9V813.6H1813.9zM1827.9 807.0H1841.9V813.6H1827.9zM1932.8 807.0H1939.8V813.6H1932.8zM1946.8 807.0H1960.8V813.6H1946.8zM2051.7 807.0H2065.7V813.6H2051.7zM2128.6 807.0H2149.6V813.6H2128.6zM1513.3 813.6H1527.2V820.2H1513.3zM1548.2 813.6H1597.2V820.2H1548.2zM1618.1 813.6H1646.1V820.2H1618.1zM1667.1 813.6H1688.1V820.2H1667.1zM1702.1 813.6H1716.0V820.2H1702.1zM1813.9 813.6H1820.9V820.2H1813.9zM1827.9 813.6H1834.9V820.2H1827.9zM1932.8 813.6H1939.8V820.2H1932.8zM1953.8 813.6H1960.8V820.2H1953.8zM2044.7 813.6H2058.7V820.2H2044.7zM2079.7 813.6H2114.6V820.2H2079.7zM2135.6 813.6H2156.6V820.2H2135.6zM1520.2 820.2H1534.2V826.8H1520.2zM1555.2 820.2H1590.2V826.8H1555.2zM1611.2 820.2H1632.1V826.8H1611.2zM1674.1 820.2H1695.1V826.8H1674.1zM1709.1 820.2H1716.0V826.8H1709.1zM1807.0 820.2H1813.9V826.8H1807.0zM1827.9 820.2H1834.9V826.8H1827.9zM1939.8 820.2H1946.8V826.8H1939.8zM1953.8 820.2H1967.8V826.8H1953.8zM2037.7 820.2H2051.7V826.8H2037.7zM2072.7 820.2H2121.6V826.8H2072.7zM2142.6 820.2H2175.6V826.8H2142.6zM1527.2 826.8H1541.2V833.4H1527.2zM1604.2 826.8H1625.1V833.4H1604.2zM1681.1 826.8H1695.1V833.4H1681.1zM1709.1 826.8H1723.0V833.4H1709.1zM1807.0 826.8H1813.9V833.4H1807.0zM1820.9 826.8H1827.9V833.4H1820.9zM1939.8 826.8H1946.8V833.4H1939.8zM1960.8 826.8H1967.8V833.4H1960.8zM2030.7 826.8H2051.7V833.4H2030.7zM2065.7 826.8H2128.6V833.4H2065.7zM2149.6 826.8H2175.6V833.4H2149.6zM1527.2 833.4H1548.2V840.1H1527.2zM1597.2 833.4H1618.1V840.1H1597.2zM1688.1 833.4H1702.1V840.1H1688.1zM1716.0 833.4H1723.0V840.1H1716.0zM1800.0 833.4H1813.9V840.1H1800.0zM1820.9 833.4H1827.9V840.1H1820.9zM1939.8 833.4H1953.8V840.1H1939.8zM1960.8 833.4H1974.8V840.1H1960.8zM2030.7 833.4H2044.7V840.1H2030.7zM2058.7 833.4H2079.7V840.1H2058.7zM2107.7 833.4H2135.6V840.1H2107.7zM2156.6 833.4H2175.6V840.1H2156.6zM1534.2 840.1H1555.2V846.7H1534.2zM1583.2 840.1H1611.2V846.7H1583.2zM1695.1 840.1H1709.1V846.7H1695.1zM1716.0 840.1H1730.0V846.7H1716.0zM1800.0 840.1H1807.0V846.7H1800.0zM1813.9 840.1H1827.9V846.7H1813.9zM1946.8 840.1H1953.8V846.7H1946.8zM1967.8 840.1H1981.8V846.7H1967.8zM2023.7 840.1H2037.7V846.7H2023.7zM2051.7 840.1H2072.7V846.7H2051.7zM2121.6 840.1H2142.6V846.7H2121.6zM1541.2 846.7H1604.2V865.3H1541.2zM1695.1 846.7H1709.1V865.3H1695.1zM1723.0 846.7H1730.0V865.3H1723.0zM1793.0 846.7H1807.0V865.3H1793.0zM1813.9 846.7H1820.9V865.3H1813.9zM1946.8 846.7H1960.8V865.3H1946.8zM1967.8 846.7H1988.8V865.3H1967.8zM2016.7 846.7H2037.7V865.3H2016.7zM2051.7 846.7H2065.7V865.3H2051.7zM2128.6 846.7H2149.6V865.3H2128.6z"/>
<path fill="#FF4900" d="M1513.3 179.6H1534.2V198.2H1513.3zM1618.1 179.6H1639.1V198.2H1618.1zM1674.1 179.6H1688.1V198.2H1674.1zM1827.9 179.6H1834.9V198.2H1827.9zM1869.9 179.6H1897.9V198.2H1869.9zM1932.8 179.6H1946.8V198.2H1932.8zM2079.7 179.6H2114.6V198.2H2079.7zM1513.3 198.2H1527.2V204.8H1513.3zM1618.1 198.2H1646.1V204.8H1618.1zM1667.1 198.2H1688.1V204.8H1667.1zM1827.9 198.2H1834.9V204.8H1827.9zM1869.9 198.2H1897.9V204.8H1869.9zM1932.8 198.2H1939.8V204.8H1932.8zM2079.7 198.2H2114.6V204.8H2079.7zM1513.3 204.8H1534.2V211.5H1513.3zM1618.1 204.8H1639.1V211.5H1618.1zM1667.1 204.8H1688.1V211.5H1667.1zM1827.9 204.8H1834.9V211.5H1827.9zM1869.9 204.8H1897.9V211.5H1869.9zM1932.8 204.8H1939.8V211.5H1932.8zM2079.7 204.8H2114.6V211.5H2079.7zM1520.2 211.5H1534.2V218.1H1520.2zM1611.2 211.5H1639.1V218.1H1611.2zM1674.1 211.5H1695.1V218.1H1674.1zM1827.9 211.5H1834.9V218.1H1827.9zM1869.9 211.5H1904.9V218.1H1869.9zM1932.8 211.5H1946.8V218.1H1932.8zM2072.7 211.5H2121.6V218.1H2072.7zM1520.2 218.1H1541.2V224.7H1520.2zM1611.2 218.1H1632.1V224.7H1611.2zM1681.1 218.1H1695.1V224.7H1681.1zM1820.9 218.1H1834.9V224.7H1820.9zM1862.9 218.1H1904.9V224.7H1862.9zM1939.8 218.1H1946.8V224.7H1939.8zM2065.7 218.1H2121.6V224.7H2065.7zM1527.2 224.7H1541.2V231.3H1527.2zM1604.2 224.7H1625.1V231.3H1604.2zM1688.1 224.7H1702.1V231.3H1688.1zM1820.9 224.7H1827.9V231.3H1820.9zM1855.9 224.7H1876.9V231.3H1855.9zM1890.9 224.7H1911.9V231.3H1890.9zM1939.8 224.7H1946.8V231.3H1939.8zM2065.7 224.7H2093.7V231.3H2065.7zM2100.7 224.7H2135.6V231.3H2100.7zM1534.2 231.3H1555.2V237.9H1534.2zM1590.2 231.3H1611.2V237.9H1590.2zM1695.1 231.3H1702.1V237.9H1695.1zM1820.9 231.3H1827.9V237.9H1820.9zM1855.9 231.3H1869.9V237.9H1855.9zM1897.9 231.3H1918.8V237.9H1897.9zM1946.8 231.3H1953.8V237.9H1946.8zM2058.7 231.3H2072.7V237.9H2058.7zM2114.6 231.3H2142.6V237.9H2114.6zM1452.3 237.9H1485.3V244.5H1452.3zM1541.2 237.9H1604.2V244.5H1541.2zM1695.1 237.9H1709.1V244.5H1695.1zM1813.9 237.9H1820.9V244.5H1813.9zM1848.9 237.9H1862.9V244.5H1848.9zM1904.9 237.9H1918.8V244.5H1904.9zM1946.8 237.9H1960.8V244.5H1946.8zM2051.7 237.9H2065.7V244.5H2051.7zM2128.6 237.9H2149.6V244.5H2128.6zM1452.3 244.5H1499.3V251.2H1452.3zM1548.2 244.5H1597.2V251.2H1548.2zM1702.1 244.5H1716.0V251.2H1702.1zM1807.0 244.5H1820.9V251.2H1807.0zM1841.9 244.5H1855.9V251.2H1841.9zM1911.9 244.5H1925.8V251.2H1911.9zM1953.8 244.5H1960.8V251.2H1953.8zM2044.7 244.5H2058.7V251.2H2044.7zM2135.6 244.5H2175.6V251.2H2135.6zM1452.3 251.2H1471.3V257.8H1452.3zM1478.3 251.2H1506.3V257.8H1478.3zM1709.1 251.2H1723.0V257.8H1709.1zM1807.0 251.2H1813.9V257.8H1807.0zM1841.9 251.2H1848.9V257.8H1841.9zM1918.8 251.2H1932.8V257.8H1918.8zM1960.8 251.2H1967.8V257.8H1960.8zM2037.7 251.2H2051.7V257.8H2037.7zM2149.6 251.2H2175.6V257.8H2149.6zM1492.3 257.8H1513.3V264.4H1492.3zM1646.1 257.8H1667.1V264.4H1646.1zM1716.0 257.8H1723.0V264.4H1716.0zM1800.0 257.8H1813.9V264.4H1800.0zM1834.9 257.8H1848.9V264.4H1834.9zM1925.8 257.8H1932.8V264.4H1925.8zM1960.8 257.8H1974.8V264.4H1960.8zM2030.7 257.8H2044.7V264.4H2030.7zM2156.6 257.8H2175.6V264.4H2156.6zM1506.3 264.4H1520.2V271.0H1506.3zM1632.1 264.4H1681.1V271.0H1632.1zM1716.0 264.4H1730.0V271.0H1716.0zM1800.0 264.4H1807.0V271.0H1800.0zM1834.9 264.4H1841.9V271.0H1834.9zM1925.8 264.4H1939.8V271.0H1925.8zM1967.8 264.4H1981.8V271.0H1967.8zM2016.7 264.4H2037.7V271.0H2016.7zM1506.3 271.0H1527.2V277.6H1506.3zM1625.1 271.0H1681.1V277.6H1625.1zM1723.0 271.0H1730.0V277.6H1723.0zM1793.0 271.0H1807.0V277.6H1793.0zM1827.9 271.0H1841.9V277.6H1827.9zM1932.8 271.0H1939.8V277.6H1932.8zM1967.8 271.0H1988.8V277.6H1967.8zM2009.8 271.0H2030.7V277.6H2009.8zM1513.3 277.6H1527.2V284.2H1513.3zM1618.1 277.6H1688.1V284.2H1618.1zM1723.0 277.6H1737.0V284.2H1723.0zM1793.0 277.6H1800.0V284.2H1793.0zM1827.9 277.6H1834.9V284.2H1827.9zM1932.8 277.6H1939.8V284.2H1932.8zM1974.8 277.6H2030.7V284.2H1974.8zM2086.7 277.6H2100.7V284.2H2086.7zM1513.3 284.2H1527.2V290.9H1513.3zM1618.1 284.2H1646.1V290.9H1618.1zM1667.1 284.2H1688.1V290.9H1667.1zM1723.0 284.2H1737.0V290.9H1723.0zM1793.0 284.2H1800.0V290.9H1793.0zM1827.9 284.2H1834.9V290.9H1827.9zM1932.8 284.2H1939.8V290.9H1932.8zM1974.8 284.2H2030.7V290.9H1974.8zM2079.7 284.2H2107.7V290.9H2079.7zM1513.3 290.9H1527.2V297.5H1513.3zM1618.1 290.9H1646.1V297.5H1618.1zM1667.1 290.9H1688.1V297.5H1667.1zM1723.0 290.9H1737.0V297.5H1723.0zM1793.0 290.9H1800.0V297.5H1793.0zM1827.9 290.9H1834.9V297.5H1827.9zM1932.8 290.9H1939.8V297.5H1932.8zM1974.8 290.9H2023.7V297.5H1974.8zM2079.7 290.9H2114.6V297.5H2079.7zM1513.3 297.5H1527.2V304.1H1513.3zM1618.1 297.5H1646.1V304.1H1618.1zM1667.1 297.5H1688.1V304.1H1667.1zM1723.0 297.5H1737.0V304.1H1723.0zM1793.0 297.5H1800.0V304.1H1793.0zM1827.9 297.5H1834.9V304.1H1827.9zM1932.8 297.5H1939.8V304.1H1932.8zM1974.8 297.5H2030.7V304.1H1974.8zM2086.7 297.5H2107.7V304.1H2086.7zM1513.3 304.1H1527.2V310.7H1513.3zM1625.1 304.1H1688.1V310.7H1625.1zM1723.0 304.1H1737.0V310.7H1723.0zM1793.0 304.1H1807.0V310.7H1793.0zM1827.9 304.1H1834.9V310.7H1827.9zM1932.8 304.1H1939.8V310.7H1932.8zM1974.8 304.1H2030.7V310.7H1974.8zM2093.7 304.1H2100.7V310.7H2093.7zM1506.3 310.7H1527.2V317.3H1506.3zM1625.1 310.7H1681.1V317.3H1625.1zM1723.0 310.7H1730.0V317.3H1723.0zM1793.0 310.7H1807.0V317.3H1793.0zM1827.9 310.7H1841.9V317.3H1827.9zM1932.8 310.7H1939.8V317.3H1932.8zM1967.8 310.7H1988.8V317.3H1967.8zM2009.8 310.7H2037.7V317.3H2009.8zM1506.3 317.3H1520.2V323.9H1506.3zM1632.1 317.3H1681.1V323.9H1632.1zM1716.0 317.3H1730.0V323.9H1716.0zM1800.0 317.3H1807.0V323.9H1800.0zM1834.9 317.3H1841.9V323.9H1834.9zM1925.8 317.3H1939.8V323.9H1925.8zM1967.8 317.3H1981.8V323.9H1967.8zM2023.7 317.3H2037.7V323.9H2023.7zM1499.3 323.9H1513.3V330.6H1499.3zM1646.1 323.9H1667.1V330.6H1646.1zM1716.0 323.9H1723.0V330.6H1716.0zM1800.0 323.9H1813.9V330.6H1800.0zM1834.9 323.9H1841.9V330.6H1834.9zM1925.8 323.9H1932.8V330.6H1925.8zM1960.8 323.9H1974.8V330.6H1960.8zM2023.7 323.9H2044.7V330.6H2023.7zM2156.6 323.9H2175.6V330.6H2156.6zM1485.3 330.6H1506.3V337.2H1485.3zM1709.1 330.6H1723.0V337.2H1709.1zM1807.0 330.6H1813.9V337.2H1807.0zM1841.9 330.6H1848.9V337.2H1841.9zM1918.8 330.6H1932.8V337.2H1918.8zM1960.8 330.6H1967.8V337.2H1960.8zM2030.7 330.6H2051.7V337.2H2030.7zM2149.6 330.6H2175.6V337.2H2149.6zM1452.3 337.2H1506.3V343.8H1452.3zM1555.2 337.2H1583.2V343.8H1555.2zM1709.1 337.2H1716.0V343.8H1709.1zM1807.0 337.2H1813.9V343.8H1807.0zM1841.9 337.2H1848.9V343.8H1841.9zM1918.8 337.2H1925.8V343.8H1918.8zM1953.8 337.2H1967.8V343.8H1953.8zM2037.7 337.2H2051.7V343.8H2037.7zM2142.6 337.2H2175.6V343.8H2142.6zM1452.3 343.8H1499.3V350.4H1452.3zM1548.2 343.8H1597.2V350.4H1548.2zM1702.1 343.8H1716.0V350.4H1702.1zM1813.9 343.8H1820.9V350.4H1813.9zM1841.9 343.8H1855.9V350.4H1841.9zM1911.9 343.8H1925.8V350.4H1911.9zM1953.8 343.8H1960.8V350.4H1953.8zM2044.7 343.8H2058.7V350.4H2044.7zM2135.6 343.8H2156.6V350.4H2135.6zM1452.3 350.4H1492.3V357.0H1452.3zM1541.2 350.4H1604.2V357.0H1541.2zM1702.1 350.4H1709.1V357.0H1702.1zM1813.9 350.4H1820.9V357.0H1813.9zM1848.9 350.4H1855.9V357.0H1848.9zM1911.9 350.4H1918.8V357.0H1911.9zM1946.8 350.4H1960.8V357.0H1946.8zM2044.7 350.4H2065.7V357.0H2044.7zM2128.6 350.4H2149.6V357.0H2128.6zM1471.3 357.0H1478.3V363.6H1471.3zM1541.2 357.0H1604.2V363.6H1541.2zM1695.1 357.0H1709.1V363.6H1695.1zM1813.9 357.0H1820.9V363.6H1813.9zM1848.9 357.0H1862.9V363.6H1848.9zM1904.9 357.0H1918.8V363.6H1904.9zM1946.8 357.0H1953.8V363.6H1946.8zM2051.7 357.0H2065.7V363.6H2051.7zM2128.6 357.0H2149.6V363.6H2128.6zM1534.2 363.6H1562.2V370.3H1534.2zM1583.2 363.6H1611.2V370.3H1583.2zM1695.1 363.6H1709.1V370.3H1695.1zM1813.9 363.6H1827.9V370.3H1813.9zM1848.9 363.6H1862.9V370.3H1848.9zM1904.9 363.6H1918.8V370.3H1904.9zM1946.8 363.6H1953.8V370.3H1946.8zM2051.7 363.6H2072.7V370.3H2051.7zM2121.6 363.6H2142.6V370.3H2121.6zM1534.2 370.3H1562.2V376.9H1534.2zM1583.2 370.3H1611.2V376.9H1583.2zM1695.1 370.3H1709.1V376.9H1695.1zM1813.9 370.3H1827.9V376.9H1813.9zM1848.9 370.3H1862.9V376.9H1848.9zM1904.9 370.3H1918.8V376.9H1904.9zM1946.8 370.3H1953.8V376.9H1946.8zM2051.7 370.3H2072.7V376.9H2051.7zM2121.6 370.3H2142.6V376.9H2121.6zM1534.2 376.9H1562.2V383.5H1534.2zM1583.2 376.9H1611.2V383.5H1583.2zM1695.1 376.9H1709.1V383.5H1695.1zM1813.9 376.9H1827.9V383.5H1813.9zM1848.9 376.9H1862.9V383.5H1848.9zM1904.9 376.9H1918.8V383.5H1904.9zM1946.8 376.9H1953.8V383.5H1946.8zM2051.7 376.9H2072.7V383.5H2051.7zM2121.6 376.9H2142.6V383.5H2121.6zM1471.3 383.5H1485.3V390.1H1471.3zM1541.2 383.5H1604.2V390.1H1541.2zM1695.1 383.5H1709.1V390.1H1695.1zM1813.9 383.5H1820.9V390.1H1813.9zM1848.9 383.5H1862.9V390.1H1848.9zM1904.9 383.5H1918.8V390.1H1904.9zM1946.8 383.5H1960.8V390.1H1946.8zM2051.7 383.5H2065.7V390.1H2051.7zM2128.6 383.5H2149.6V390.1H2128.6zM1452.3 390.1H1492.3V396.7H1452.3zM1541.2 390.1H1604.2V396.7H1541.2zM1702.1 390.1H1709.1V396.7H1702.1zM1813.9 390.1H1820.9V396.7H1813.9zM1848.9 390.1H1855.9V396.7H1848.9zM1911.9 390.1H1918.8V396.7H1911.9zM1946.8 390.1H1960.8V396.7H1946.8zM2044.7 390.1H2065.7V396.7H2044.7zM2135.6 390.1H2156.6V396.7H2135.6zM1452.3 396.7H1499.3V403.3H1452.3zM1555.2 396.7H1590.2V403.3H1555.2zM1702.1 396.7H1716.0V403.3H1702.1zM1807.0 396.7H1820.9V403.3H1807.0zM1841.9 396.7H1855.9V403.3H1841.9zM1911.9 396.7H1925.8V403.3H1911.9zM1953.8 396.7H1967.8V403.3H1953.8zM2037.7 396.7H2058.7V403.3H2037.7zM2142.6 396.7H2175.6V403.3H2142.6zM1485.3 403.3H1506.3V410.0H1485.3zM1709.1 403.3H1723.0V410.0H1709.1zM1807.0 403.3H1813.9V410.0H1807.0zM1841.9 403.3H1848.9V410.0H1841.9zM1918.8 403.3H1932.8V410.0H1918.8zM1960.8 403.3H1967.8V410.0H1960.8zM2030.7 403.3H2051.7V410.0H2030.7zM2149.6 403.3H2175.6V410.0H2149.6zM1499.3 410.0H1520.2V416.6H1499.3zM1639.1 410.0H1674.1V416.6H1639.1zM1716.0 410.0H1730.0V416.6H1716.0zM1800.0 410.0H1807.0V416.6H1800.0zM1834.9 410.0H1841.9V416.6H1834.9zM1925.8 410.0H1932.8V416.6H1925.8zM1960.8 410.0H1981.8V416.6H1960.8zM2023.7 410.0H2037.7V416.6H2023.7zM1513.3 416.6H1527.2V423.2H1513.3zM1625.1 416.6H1688.1V423.2H1625.1zM1723.0 416.6H1737.0V423.2H1723.0zM1793.0 416.6H1807.0V423.2H1793.0zM1827.9 416.6H1834.9V423.2H1827.9zM1932.8 416.6H1939.8V423.2H1932.8zM1974.8 416.6H1995.8V423.2H1974.8zM2002.8 416.6H2030.7V423.2H2002.8zM1520.2 423.2H1534.2V429.8H1520.2zM1611.2 423.2H1632.1V429.8H1611.2zM1681.1 423.2H1695.1V429.8H1681.1zM1730.0 423.2H1744.0V429.8H1730.0zM1786.0 423.2H1800.0V429.8H1786.0zM1827.9 423.2H1834.9V429.8H1827.9zM1939.8 423.2H1946.8V429.8H1939.8zM1981.8 423.2H2016.7V429.8H1981.8zM2072.7 423.2H2121.6V429.8H2072.7zM1527.2 429.8H1548.2V436.4H1527.2zM1597.2 429.8H1618.1V436.4H1597.2zM1688.1 429.8H1702.1V436.4H1688.1zM1737.0 429.8H1793.0V436.4H1737.0zM1820.9 429.8H1827.9V436.4H1820.9zM1939.8 429.8H1953.8V436.4H1939.8zM2058.7 429.8H2079.7V436.4H2058.7zM2107.7 429.8H2135.6V436.4H2107.7zM1541.2 436.4H1604.2V443.0H1541.2zM1695.1 436.4H1709.1V443.0H1695.1zM1751.0 436.4H1779.0V443.0H1751.0zM1813.9 436.4H1820.9V443.0H1813.9zM1946.8 436.4H1960.8V443.0H1946.8zM2051.7 436.4H2065.7V443.0H2051.7zM2128.6 436.4H2149.6V443.0H2128.6zM1555.2 443.0H1590.2V449.7H1555.2zM1702.1 443.0H1716.0V449.7H1702.1zM1807.0 443.0H1820.9V449.7H1807.0zM1953.8 443.0H1960.8V449.7H1953.8zM2044.7 443.0H2058.7V449.7H2044.7zM2135.6 443.0H2175.6V449.7H2135.6zM1709.1 449.7H1723.0V456.3H1709.1zM1807.0 449.7H1813.9V456.3H1807.0zM1960.8 449.7H1967.8V456.3H1960.8zM2030.7 449.7H2051.7V456.3H2030.7zM2149.6 449.7H2175.6V456.3H2149.6zM1716.0 456.3H1723.0V462.9H1716.0zM1800.0 456.3H1813.9V462.9H1800.0zM1960.8 456.3H1974.8V462.9H1960.8zM2023.7 456.3H2044.7V462.9H2023.7zM2156.6 456.3H2175.6V462.9H2156.6zM1716.0 462.9H1730.0V469.5H1716.0zM1800.0 462.9H1807.0V469.5H1800.0zM1967.8 462.9H1981.8V469.5H1967.8zM2023.7 462.9H2037.7V469.5H2023.7zM1716.0 469.5H1730.0V476.1H1716.0zM1800.0 469.5H1807.0V476.1H1800.0zM1967.8 469.5H1981.8V476.1H1967.8zM2016.7 469.5H2037.7V476.1H2016.7zM1716.0 476.1H1730.0V482.7H1716.0zM1800.0 476.1H1807.0V482.7H1800.0zM1967.8 476.1H1981.8V482.7H1967.8zM2016.7 476.1H2037.7V482.7H2016.7zM1716.0 482.7H1730.0V489.4H1716.0zM1800.0 482.7H1807.0V489.4H1800.0zM1967.8 482.7H1981.8V489.4H1967.8zM2023.7 482.7H2037.7V489.4H2023.7zM1716.0 489.4H1723.0V496.0H1716.0zM1800.0 489.4H1813.9V496.0H1800.0zM1960.8 489.4H1974.8V496.0H1960.8zM2030.7 489.4H2044.7V496.0H2030.7zM2156.6 489.4H2175.6V496.0H2156.6zM1709.1 496.0H1723.0V502.6H1709.1zM1807.0 496.0H1813.9V502.6H1807.0zM1960.8 496.0H1967.8V502.6H1960.8zM2037.7 496.0H2051.7V502.6H2037.7zM2149.6 496.0H2175.6V502.6H2149.6zM1548.2 502.6H1597.2V509.2H1548.2zM1702.1 502.6H1716.0V509.2H1702.1zM1813.9 502.6H1820.9V509.2H1813.9zM1953.8 502.6H1960.8V509.2H1953.8zM2044.7 502.6H2058.7V509.2H2044.7zM2135.6 502.6H2156.6V509.2H2135.6zM1534.2 509.2H1555.2V515.8H1534.2zM1583.2 509.2H1611.2V515.8H1583.2zM1695.1 509.2H1709.1V515.8H1695.1zM1744.0 509.2H1786.0V515.8H1744.0zM1813.9 509.2H1827.9V515.8H1813.9zM1946.8 509.2H1953.8V515.8H1946.8zM2051.7 509.2H2072.7V515.8H2051.7zM2121.6 509.2H2142.6V515.8H2121.6zM1520.2 515.8H1541.2V522.4H1520.2zM1604.2 515.8H1625.1V522.4H1604.2zM1681.1 515.8H1695.1V522.4H1681.1zM1730.0 515.8H1751.0V522.4H1730.0zM1779.0 515.8H1793.0V522.4H1779.0zM1820.9 515.8H1827.9V522.4H1820.9zM1939.8 515.8H1946.8V522.4H1939.8zM1988.8 515.8H2016.7V522.4H1988.8zM2065.7 515.8H2128.6V522.4H2065.7zM1513.3 522.4H1527.2V529.1H1513.3zM1625.1 522.4H1688.1V529.1H1625.1zM1723.0 522.4H1737.0V529.1H1723.0zM1793.0 522.4H1807.0V529.1H1793.0zM1827.9 522.4H1834.9V529.1H1827.9zM1932.8 522.4H1939.8V529.1H1932.8zM1974.8 522.4H1995.8V529.1H1974.8zM2002.8 522.4H2030.7V529.1H2002.8zM1492.3 529.1H1513.3V535.7H1492.3zM1646.1 529.1H1667.1V535.7H1646.1zM1716.0 529.1H1723.0V535.7H1716.0zM1800.0 529.1H1813.9V535.7H1800.0zM1834.9 529.1H1848.9V535.7H1834.9zM1925.8 529.1H1932.8V535.7H1925.8zM1960.8 529.1H1974.8V535.7H1960.8zM2030.7 529.1H2044.7V535.7H2030.7zM2156.6 529.1H2175.6V535.7H2156.6zM1452.3 535.7H1499.3V542.3H1452.3zM1548.2 535.7H1597.2V542.3H1548.2zM1702.1 535.7H1716.0V542.3H1702.1zM1813.9 535.7H1820.9V542.3H1813.9zM1841.9 535.7H1855.9V542.3H1841.9zM1911.9 535.7H1925.8V542.3H1911.9zM1953.8 535.7H1960.8V542.3H1953.8zM2044.7 535.7H2058.7V542.3H2044.7zM2135.6 535.7H2156.6V542.3H2135.6zM1534.2 542.3H1555.2V548.9H1534.2zM1590.2 542.3H1611.2V548.9H1590.2zM1695.1 542.3H1702.1V548.9H1695.1zM1820.9 542.3H1827.9V548.9H1820.9zM1855.9 542.3H1869.9V548.9H1855.9zM1904.9 542.3H1918.8V548.9H1904.9zM1946.8 542.3H1953.8V548.9H1946.8zM2058.7 542.3H2072.7V548.9H2058.7zM2121.6 542.3H2142.6V548.9H2121.6zM1520.2 548.9H1541.2V555.5H1520.2zM1611.2 548.9H1632.1V555.5H1611.2zM1681.1 548.9H1695.1V555.5H1681.1zM1820.9 548.9H1834.9V555.5H1820.9zM1862.9 548.9H1904.9V555.5H1862.9zM1939.8 548.9H1946.8V555.5H1939.8zM2065.7 548.9H2121.6V555.5H2065.7zM1513.3 555.5H1527.2V562.2H1513.3zM1625.1 555.5H1688.1V562.2H1625.1zM1827.9 555.5H1834.9V562.2H1827.9zM1876.9 555.5H1890.9V562.2H1876.9zM1932.8 555.5H1939.8V562.2H1932.8zM1499.3 562.2H1520.2V568.8H1499.3zM1639.1 562.2H1674.1V568.8H1639.1zM1834.9 562.2H1841.9V568.8H1834.9zM1925.8 562.2H1932.8V568.8H1925.8zM1492.3 568.8H1513.3V575.4H1492.3zM1834.9 568.8H1848.9V575.4H1834.9zM1918.8 568.8H1932.8V575.4H1918.8zM1452.3 575.4H1506.3V582.0H1452.3zM1841.9 575.4H1848.9V582.0H1841.9zM1918.8 575.4H1925.8V582.0H1918.8zM1452.3 582.0H1499.3V588.6H1452.3zM1841.9 582.0H1855.9V588.6H1841.9zM1918.8 582.0H1925.8V588.6H1918.8zM1452.3 588.6H1499.3V595.2H1452.3zM1841.9 588.6H1855.9V595.2H1841.9zM1918.8 588.6H1925.8V595.2H1918.8zM1452.3 595.2H1506.3V601.9H1452.3zM1841.9 595.2H1848.9V601.9H1841.9zM1918.8 595.2H1925.8V601.9H1918.8zM1485.3 601.9H1513.3V608.5H1485.3zM1841.9 601.9H1848.9V608.5H1841.9zM1918.8 601.9H1932.8V608.5H1918.8zM1499.3 608.5H1520.2V615.1H1499.3zM1639.1 608.5H1674.1V615.1H1639.1zM1834.9 608.5H1841.9V615.1H1834.9zM1925.8 608.5H1932.8V615.1H1925.8zM1506.3 615.1H1527.2V621.7H1506.3zM1625.1 615.1H1688.1V621.7H1625.1zM1827.9 615.1H1841.9V621.7H1827.9zM1932.8 615.1H1939.8V621.7H1932.8zM1520.2 621.7H1534.2V628.3H1520.2zM1611.2 621.7H1632.1V628.3H1611.2zM1681.1 621.7H1695.1V628.3H1681.1zM1827.9 621.7H1834.9V628.3H1827.9zM1862.9 621.7H1904.9V628.3H1862.9zM1939.8 621.7H1946.8V628.3H1939.8zM2072.7 621.7H2121.6V628.3H2072.7zM1527.2 628.3H1548.2V634.9H1527.2zM1597.2 628.3H1618.1V634.9H1597.2zM1688.1 628.3H1702.1V634.9H1688.1zM1820.9 628.3H1827.9V634.9H1820.9zM1855.9 628.3H1869.9V634.9H1855.9zM1897.9 628.3H1911.9V634.9H1897.9zM1939.8 628.3H1953.8V634.9H1939.8zM2058.7 628.3H2079.7V634.9H2058.7zM2114.6 628.3H2135.6V634.9H2114.6zM1452.3 634.9H1492.3V641.6H1452.3zM1541.2 634.9H1604.2V641.6H1541.2zM1702.1 634.9H1709.1V641.6H1702.1zM1813.9 634.9H1820.9V641.6H1813.9zM1848.9 634.9H1855.9V641.6H1848.9zM1911.9 634.9H1918.8V641.6H1911.9zM1946.8 634.9H1960.8V641.6H1946.8zM2044.7 634.9H2065.7V641.6H2044.7zM2128.6 634.9H2156.6V641.6H2128.6zM1452.3 641.6H1471.3V648.2H1452.3zM1485.3 641.6H1506.3V648.2H1485.3zM1709.1 641.6H1723.0V648.2H1709.1zM1807.0 641.6H1813.9V648.2H1807.0zM1841.9 641.6H1848.9V648.2H1841.9zM1918.8 641.6H1932.8V648.2H1918.8zM1960.8 641.6H1967.8V648.2H1960.8zM2037.7 641.6H2051.7V648.2H2037.7zM2149.6 641.6H2175.6V648.2H2149.6zM1506.3 648.2H1520.2V654.8H1506.3zM1632.1 648.2H1681.1V654.8H1632.1zM1716.0 648.2H1730.0V654.8H1716.0zM1800.0 648.2H1807.0V654.8H1800.0zM1834.9 648.2H1841.9V654.8H1834.9zM1925.8 648.2H1939.8V654.8H1925.8zM1967.8 648.2H1981.8V654.8H1967.8zM2023.7 648.2H2037.7V654.8H2023.7zM1513.3 654.8H1527.2V661.4H1513.3zM1618.1 654.8H1639.1V661.4H1618.1zM1667.1 654.8H1688.1V661.4H1667.1zM1723.0 654.8H1737.0V661.4H1723.0zM1793.0 654.8H1800.0V661.4H1793.0zM1827.9 654.8H1834.9V661.4H1827.9zM1932.8 654.8H1939.8V661.4H1932.8zM1974.8 654.8H2023.7V661.4H1974.8zM2079.7 654.8H2114.6V661.4H2079.7zM1527.2 661.4H1541.2V668.0H1527.2zM1604.2 661.4H1625.1V668.0H1604.2zM1681.1 661.4H1702.1V668.0H1681.1zM1737.0 661.4H1751.0V668.0H1737.0zM1779.0 661.4H1793.0V668.0H1779.0zM1820.9 661.4H1827.9V668.0H1820.9zM1939.8 661.4H1946.8V668.0H1939.8zM1988.8 661.4H2009.8V668.0H1988.8zM2065.7 661.4H2128.6V668.0H2065.7zM1534.2 668.0H1555.2V674.6H1534.2zM1590.2 668.0H1611.2V674.6H1590.2zM1695.1 668.0H1702.1V674.6H1695.1zM1744.0 668.0H1786.0V674.6H1744.0zM1820.9 668.0H1827.9V674.6H1820.9zM1946.8 668.0H1953.8V674.6H1946.8zM2058.7 668.0H2072.7V674.6H2058.7zM2121.6 668.0H2142.6V674.6H2121.6zM1541.2 674.6H1604.2V681.3H1541.2zM1695.1 674.6H1709.1V681.3H1695.1zM1751.0 674.6H1779.0V681.3H1751.0zM1813.9 674.6H1820.9V681.3H1813.9zM1946.8 674.6H1960.8V681.3H1946.8zM2051.7 674.6H2065.7V681.3H2051.7zM2128.6 674.6H2149.6V681.3H2128.6zM1548.2 681.3H1597.2V687.9H1548.2zM1702.1 681.3H1716.0V687.9H1702.1zM1813.9 681.3H1820.9V687.9H1813.9zM1953.8 681.3H1960.8V687.9H1953.8zM2044.7 681.3H2058.7V687.9H2044.7zM2135.6 681.3H2156.6V687.9H2135.6zM1555.2 687.9H1590.2V694.5H1555.2zM1702.1 687.9H1716.0V694.5H1702.1zM1807.0 687.9H1820.9V694.5H1807.0zM1953.8 687.9H1967.8V694.5H1953.8zM2037.7 687.9H2058.7V694.5H2037.7zM2142.6 687.9H2175.6V694.5H2142.6zM1555.2 694.5H1590.2V701.1H1555.2zM1709.1 694.5H1716.0V701.1H1709.1zM1807.0 694.5H1813.9V701.1H1807.0zM1953.8 694.5H1967.8V701.1H1953.8zM2037.7 694.5H2051.7V701.1H2037.7zM2142.6 694.5H2175.6V701.1H2142.6zM1555.2 701.1H1590.2V707.7H1555.2zM1702.1 701.1H1716.0V707.7H1702.1zM1807.0 701.1H1820.9V707.7H1807.0zM1953.8 701.1H1967.8V707.7H1953.8zM2037.7 701.1H2058.7V707.7H2037.7zM2142.6 701.1H2175.6V707.7H2142.6zM1548.2 707.7H1597.2V714.3H1548.2zM1702.1 707.7H1716.0V714.3H1702.1zM1807.0 707.7H1820.9V714.3H1807.0zM1953.8 707.7H1960.8V714.3H1953.8zM2044.7 707.7H2058.7V714.3H2044.7zM2135.6 707.7H2175.6V714.3H2135.6zM1541.2 714.3H1597.2V721.0H1541.2zM1702.1 714.3H1709.1V721.0H1702.1zM1758.0 714.3H1772.0V721.0H1758.0zM1813.9 714.3H1820.9V721.0H1813.9zM1953.8 714.3H1960.8V721.0H1953.8zM2044.7 714.3H2065.7V721.0H2044.7zM2135.6 714.3H2156.6V721.0H2135.6zM1541.2 721.0H1569.2V727.6H1541.2zM1576.2 721.0H1611.2V727.6H1576.2zM1695.1 721.0H1709.1V727.6H1695.1zM1744.0 721.0H1779.0V727.6H1744.0zM1813.9 721.0H1820.9V727.6H1813.9zM1946.8 721.0H1953.8V727.6H1946.8zM2051.7 721.0H2065.7V727.6H2051.7zM2128.6 721.0H2149.6V727.6H2128.6zM1534.2 727.6H1548.2V734.2H1534.2zM1590.2 727.6H1618.1V734.2H1590.2zM1688.1 727.6H1702.1V734.2H1688.1zM1737.0 727.6H1786.0V734.2H1737.0zM1820.9 727.6H1827.9V734.2H1820.9zM1946.8 727.6H1953.8V734.2H1946.8zM2058.7 727.6H2079.7V734.2H2058.7zM2114.6 727.6H2135.6V734.2H2114.6zM1527.2 734.2H1541.2V740.8H1527.2zM1604.2 734.2H1625.1V740.8H1604.2zM1681.1 734.2H1695.1V740.8H1681.1zM1737.0 734.2H1751.0V740.8H1737.0zM1779.0 734.2H1793.0V740.8H1779.0zM1820.9 734.2H1827.9V740.8H1820.9zM1939.8 734.2H1946.8V740.8H1939.8zM1988.8 734.2H2009.8V740.8H1988.8zM2065.7 734.2H2128.6V740.8H2065.7zM1520.2 740.8H1534.2V747.4H1520.2zM1611.2 740.8H1639.1V747.4H1611.2zM1674.1 740.8H1695.1V747.4H1674.1zM1730.0 740.8H1744.0V747.4H1730.0zM1786.0 740.8H1800.0V747.4H1786.0zM1827.9 740.8H1834.9V747.4H1827.9zM1932.8 740.8H1946.8V747.4H1932.8zM1981.8 740.8H2023.7V747.4H1981.8zM2072.7 740.8H2121.6V747.4H2072.7zM1513.3 747.4H1527.2V754.0H1513.3zM1625.1 747.4H1688.1V754.0H1625.1zM1723.0 747.4H1737.0V754.0H1723.0zM1793.0 747.4H1807.0V754.0H1793.0zM1827.9 747.4H1834.9V754.0H1827.9zM1932.8 747.4H1939.8V754.0H1932.8zM1974.8 747.4H1995.8V754.0H1974.8zM2002.8 747.4H2030.7V754.0H2002.8zM1506.3 754.0H1520.2V760.7H1506.3zM1632.1 754.0H1681.1V760.7H1632.1zM1716.0 754.0H1730.0V760.7H1716.0zM1800.0 754.0H1807.0V760.7H1800.0zM1834.9 754.0H1841.9V760.7H1834.9zM1925.8 754.0H1939.8V760.7H1925.8zM1967.8 754.0H1981.8V760.7H1967.8zM2016.7 754.0H2037.7V760.7H2016.7zM1492.3 760.7H1513.3V767.3H1492.3zM1646.1 760.7H1667.1V767.3H1646.1zM1716.0 760.7H1723.0V767.3H1716.0zM1800.0 760.7H1813.9V767.3H1800.0zM1834.9 760.7H1848.9V767.3H1834.9zM1925.8 760.7H1932.8V767.3H1925.8zM1960.8 760.7H1974.8V767.3H1960.8zM2030.7 760.7H2044.7V767.3H2030.7zM2156.6 760.7H2175.6V767.3H2156.6zM1485.3 767.3H1506.3V773.9H1485.3zM1709.1 767.3H1723.0V773.9H1709.1zM1807.0 767.3H1813.9V773.9H1807.0zM1841.9 767.3H1848.9V773.9H1841.9zM1918.8 767.3H1932.8V773.9H1918.8zM1960.8 767.3H1967.8V773.9H1960.8zM2030.7 767.3H2051.7V773.9H2030.7zM2149.6 767.3H2175.6V773.9H2149.6zM1452.3 773.9H1506.3V780.5H1452.3zM1562.2 773.9H1576.2V780.5H1562.2zM1709.1 773.9H1716.0V780.5H1709.1zM1807.0 773.9H1813.9V780.5H1807.0zM1841.9 773.9H1848.9V780.5H1841.9zM1918.8 773.9H1925.8V780.5H1918.8zM1953.8 773.9H1967.8V780.5H1953.8zM2037.7 773.9H2051.7V780.5H2037.7zM2142.6 773.9H2175.6V780.5H2142.6zM1452.3 780.5H1506.3V787.1H1452.3zM1555.2 780.5H1583.2V787.1H1555.2zM1709.1 780.5H1716.0V787.1H1709.1zM1807.0 780.5H1813.9V787.1H1807.0zM1841.9 780.5H1848.9V787.1H1841.9zM1918.8 780.5H1925.8V787.1H1918.8zM1953.8 780.5H1967.8V787.1H1953.8zM2037.7 780.5H2051.7V787.1H2037.7zM2142.6 780.5H2175.6V787.1H2142.6zM1452.3 787.1H1499.3V793.7H1452.3zM1555.2 787.1H1590.2V793.7H1555.2zM1709.1 787.1H1716.0V793.7H1709.1zM1807.0 787.1H1813.9V793.7H1807.0zM1841.9 787.1H1848.9V793.7H1841.9zM1918.8 787.1H1925.8V793.7H1918.8zM1953.8 787.1H1967.8V793.7H1953.8zM2037.7 787.1H2051.7V793.7H2037.7zM2142.6 787.1H2175.6V793.7H2142.6zM1452.3 793.7H1506.3V800.4H1452.3zM1562.2 793.7H1583.2V800.4H1562.2zM1709.1 793.7H1716.0V800.4H1709.1zM1807.0 793.7H1813.9V800.4H1807.0zM1841.9 793.7H1848.9V800.4H1841.9zM1918.8 793.7H1925.8V800.4H1918.8zM1953.8 793.7H1967.8V800.4H1953.8zM2037.7 793.7H2051.7V800.4H2037.7zM2142.6 793.7H2175.6V800.4H2142.6zM1452.3 800.4H1506.3V807.0H1452.3zM1569.2 800.4H1576.2V807.0H1569.2zM1709.1 800.4H1723.0V807.0H1709.1zM1807.0 800.4H1813.9V807.0H1807.0zM1841.9 800.4H1848.9V807.0H1841.9zM1918.8 800.4H1925.8V807.0H1918.8zM1953.8 800.4H1967.8V807.0H1953.8zM2037.7 800.4H2051.7V807.0H2037.7zM2149.6 800.4H2175.6V807.0H2149.6zM1485.3 807.0H1513.3V813.6H1485.3zM1709.1 807.0H1723.0V813.6H1709.1zM1807.0 807.0H1813.9V813.6H1807.0zM1841.9 807.0H1848.9V813.6H1841.9zM1918.8 807.0H1932.8V813.6H1918.8zM1960.8 807.0H1967.8V813.6H1960.8zM2030.7 807.0H2051.7V813.6H2030.7zM2149.6 807.0H2175.6V813.6H2149.6zM1499.3 813.6H1513.3V820.2H1499.3zM1646.1 813.6H1667.1V820.2H1646.1zM1716.0 813.6H1723.0V820.2H1716.0zM1800.0 813.6H1813.9V820.2H1800.0zM1834.9 813.6H1841.9V820.2H1834.9zM1925.8 813.6H1932.8V820.2H1925.8zM1960.8 813.6H1974.8V820.2H1960.8zM2030.7 813.6H2044.7V820.2H2030.7zM2156.6 813.6H2175.6V820.2H2156.6zM1499.3 820.2H1520.2V826.8H1499.3zM1632.1 820.2H1674.1V826.8H1632.1zM1716.0 820.2H1730.0V826.8H1716.0zM1800.0 820.2H1807.0V826.8H1800.0zM1834.9 820.2H1841.9V826.8H1834.9zM1925.8 820.2H1939.8V826.8H1925.8zM1967.8 820.2H1981.8V826.8H1967.8zM2023.7 820.2H2037.7V826.8H2023.7zM1506.3 826.8H1527.2V833.4H1506.3zM1625.1 826.8H1681.1V833.4H1625.1zM1723.0 826.8H1737.0V833.4H1723.0zM1793.0 826.8H1807.0V833.4H1793.0zM1827.9 826.8H1841.9V833.4H1827.9zM1932.8 826.8H1939.8V833.4H1932.8zM1967.8 826.8H1988.8V833.4H1967.8zM2009.8 826.8H2030.7V833.4H2009.8zM1513.3 833.4H1527.2V840.1H1513.3zM1618.1 833.4H1646.1V840.1H1618.1zM1667.1 833.4H1688.1V840.1H1667.1zM1723.0 833.4H1737.0V840.1H1723.0zM1793.0 833.4H1800.0V840.1H1793.0zM1827.9 833.4H1834.9V840.1H1827.9zM1932.8 833.4H1939.8V840.1H1932.8zM1974.8 833.4H2030.7V840.1H1974.8zM2079.7 833.4H2107.7V840.1H2079.7zM1520.2 840.1H1534.2V846.7H1520.2zM1611.2 840.1H1632.1V846.7H1611.2zM1674.1 840.1H1695.1V846.7H1674.1zM1730.0 840.1H1744.0V846.7H1730.0zM1786.0 840.1H1800.0V846.7H1786.0zM1827.9 840.1H1834.9V846.7H1827.9zM1932.8 840.1H1946.8V846.7H1932.8zM1981.8 840.1H2023.7V846.7H1981.8zM2072.7 840.1H2121.6V846.7H2072.7zM1520.2 846.7H1541.2V865.3H1520.2zM1604.2 846.7H1625.1V865.3H1604.2zM1681.1 846.7H1695.1V865.3H1681.1zM1730.0 846.7H1751.0V865.3H1730.0zM1779.0 846.7H1793.0V865.3H1779.0zM1820.9 846.7H1827.9V865.3H1820.9zM1939.8 846.7H1946.8V865.3H1939.8zM1988.8 846.7H2016.7V865.3H1988.8zM2065.7 846.7H2128.6V865.3H2065.7z"/>
<path fill="#FF6D00" d="M1534.2 179.6H1555.2V198.2H1534.2zM1590.2 179.6H1618.1V198.2H1590.2zM1688.1 179.6H1702.1V198.2H1688.1zM1820.9 179.6H1827.9V198.2H1820.9zM1946.8 179.6H1953.8V198.2H1946.8zM2058.7 179.6H2079.7V198.2H2058.7zM2114.6 179.6H2135.6V198.2H2114.6zM1527.2 198.2H1548.2V204.8H1527.2zM1597.2 198.2H1618.1V204.8H1597.2zM1688.1 198.2H1702.1V204.8H1688.1zM1820.9 198.2H1827.9V204.8H1820.9zM1939.8 198.2H1953.8V204.8H1939.8zM2058.7 198.2H2079.7V204.8H2058.7zM2114.6 198.2H2135.6V204.8H2114.6zM1534.2 204.8H1548.2V211.5H1534.2zM1597.2 204.8H1618.1V211.5H1597.2zM1688.1 204.8H1702.1V211.5H1688.1zM1820.9 204.8H1827.9V211.5H1820.9zM1939.8 204.8H1953.8V211.5H1939.8zM2058.7 204.8H2079.7V211.5H2058.7zM2114.6 204.8H2135.6V211.5H2114.6zM1534.2 211.5H1555.2V218.1H1534.2zM1590.2 211.5H1611.2V218.1H1590.2zM1695.1 211.5H1702.1V218.1H1695.1zM1820.9 211.5H1827.9V218.1H1820.9zM1946.8 211.5H1953.8V218.1H1946.8zM2058.7 211.5H2072.7V218.1H2058.7zM2121.6 211.5H2142.6V218.1H2121.6zM1541.2 218.1H1569.2V224.7H1541.2zM1576.2 218.1H1611.2V224.7H1576.2zM1695.1 218.1H1709.1V224.7H1695.1zM1813.9 218.1H1820.9V224.7H1813.9zM1946.8 218.1H1953.8V224.7H1946.8zM2051.7 218.1H2065.7V224.7H2051.7zM2121.6 218.1H2149.6V224.7H2121.6zM1541.2 224.7H1604.2V231.3H1541.2zM1702.1 224.7H1709.1V231.3H1702.1zM1813.9 224.7H1820.9V231.3H1813.9zM1876.9 224.7H1890.9V231.3H1876.9zM1946.8 224.7H1960.8V231.3H1946.8zM2044.7 224.7H2065.7V231.3H2044.7zM2135.6 224.7H2156.6V231.3H2135.6zM1555.2 231.3H1590.2V237.9H1555.2zM1702.1 231.3H1716.0V237.9H1702.1zM1807.0 231.3H1820.9V237.9H1807.0zM1869.9 231.3H1897.9V237.9H1869.9zM1953.8 231.3H1967.8V237.9H1953.8zM2037.7 231.3H2058.7V237.9H2037.7zM2142.6 231.3H2175.6V237.9H2142.6zM1709.1 237.9H1723.0V244.5H1709.1zM1807.0 237.9H1813.9V244.5H1807.0zM1862.9 237.9H1904.9V244.5H1862.9zM1960.8 237.9H1967.8V244.5H1960.8zM2030.7 237.9H2051.7V244.5H2030.7zM2149.6 237.9H2175.6V244.5H2149.6zM1716.0 244.5H1730.0V251.2H1716.0zM1800.0 244.5H1807.0V251.2H1800.0zM1855.9 244.5H1869.9V251.2H1855.9zM1897.9 244.5H1911.9V251.2H1897.9zM1960.8 244.5H1974.8V251.2H1960.8zM2023.7 244.5H2044.7V251.2H2023.7zM1471.3 251.2H1478.3V257.8H1471.3zM1723.0 251.2H1730.0V257.8H1723.0zM1793.0 251.2H1807.0V257.8H1793.0zM1848.9 251.2H1862.9V257.8H1848.9zM1904.9 251.2H1918.8V257.8H1904.9zM1967.8 251.2H1988.8V257.8H1967.8zM2016.7 251.2H2037.7V257.8H2016.7zM1452.3 257.8H1492.3V264.4H1452.3zM1723.0 257.8H1737.0V264.4H1723.0zM1793.0 257.8H1800.0V264.4H1793.0zM1848.9 257.8H1855.9V264.4H1848.9zM1911.9 257.8H1925.8V264.4H1911.9zM1974.8 257.8H2030.7V264.4H1974.8zM1452.3 264.4H1506.3V271.0H1452.3zM1730.0 264.4H1744.0V271.0H1730.0zM1786.0 264.4H1800.0V271.0H1786.0zM1841.9 264.4H1848.9V271.0H1841.9zM1918.8 264.4H1925.8V271.0H1918.8zM1981.8 264.4H2016.7V271.0H1981.8zM1452.3 271.0H1471.3V277.6H1452.3zM1485.3 271.0H1506.3V277.6H1485.3zM1730.0 271.0H1751.0V277.6H1730.0zM1779.0 271.0H1793.0V277.6H1779.0zM1841.9 271.0H1848.9V277.6H1841.9zM1918.8 271.0H1932.8V277.6H1918.8zM1988.8 271.0H2009.8V277.6H1988.8zM1492.3 277.6H1513.3V284.2H1492.3zM1737.0 277.6H1758.0V284.2H1737.0zM1772.0 277.6H1793.0V284.2H1772.0zM1834.9 277.6H1848.9V284.2H1834.9zM1918.8 277.6H1932.8V284.2H1918.8zM1492.3 284.2H1513.3V290.9H1492.3zM1646.1 284.2H1667.1V290.9H1646.1zM1737.0 284.2H1793.0V290.9H1737.0zM1834.9 284.2H1848.9V290.9H1834.9zM1925.8 284.2H1932.8V290.9H1925.8zM1499.3 290.9H1513.3V297.5H1499.3zM1646.1 290.9H1667.1V297.5H1646.1zM1737.0 290.9H1793.0V297.5H1737.0zM1834.9 290.9H1841.9V297.5H1834.9zM1925.8 290.9H1932.8V297.5H1925.8zM1492.3 297.5H1513.3V304.1H1492.3zM1646.1 297.5H1667.1V304.1H1646.1zM1737.0 297.5H1793.0V304.1H1737.0zM1834.9 297.5H1848.9V304.1H1834.9zM1925.8 297.5H1932.8V304.1H1925.8zM1492.3 304.1H1513.3V310.7H1492.3zM1737.0 304.1H1758.0V310.7H1737.0zM1772.0 304.1H1793.0V310.7H1772.0zM1834.9 304.1H1848.9V310.7H1834.9zM1918.8 304.1H1932.8V310.7H1918.8zM1452.3 310.7H1471.3V317.3H1452.3zM1485.3 310.7H1506.3V317.3H1485.3zM1730.0 310.7H1751.0V317.3H1730.0zM1779.0 310.7H1793.0V317.3H1779.0zM1841.9 310.7H1848.9V317.3H1841.9zM1918.8 310.7H1932.8V317.3H1918.8zM1988.8 310.7H2009.8V317.3H1988.8zM1452.3 317.3H1506.3V323.9H1452.3zM1730.0 317.3H1744.0V323.9H1730.0zM1786.0 317.3H1800.0V323.9H1786.0zM1841.9 317.3H1848.9V323.9H1841.9zM1918.8 317.3H1925.8V323.9H1918.8zM1981.8 317.3H2023.7V323.9H1981.8zM1452.3 323.9H1499.3V330.6H1452.3zM1723.0 323.9H1737.0V330.6H1723.0zM1793.0 323.9H1800.0V330.6H1793.0zM1841.9 323.9H1855.9V330.6H1841.9zM1911.9 323.9H1925.8V330.6H1911.9zM1974.8 323.9H2023.7V330.6H1974.8zM1452.3 330.6H1485.3V337.2H1452.3zM1723.0 330.6H1737.0V337.2H1723.0zM1793.0 330.6H1807.0V337.2H1793.0zM1848.9 330.6H1862.9V337.2H1848.9zM1904.9 330.6H1918.8V337.2H1904.9zM1967.8 330.6H1988.8V337.2H1967.8zM2009.8 330.6H2030.7V337.2H2009.8zM1716.0 337.2H1730.0V343.8H1716.0zM1800.0 337.2H1807.0V343.8H1800.0zM1848.9 337.2H1862.9V343.8H1848.9zM1904.9 337.2H1918.8V343.8H1904.9zM1967.8 337.2H1981.8V343.8H1967.8zM2016.7 337.2H2037.7V343.8H2016.7zM1716.0 343.8H1723.0V350.4H1716.0zM1800.0 343.8H1813.9V350.4H1800.0zM1855.9 343.8H1869.9V350.4H1855.9zM1897.9 343.8H1911.9V350.4H1897.9zM1960.8 343.8H1974.8V350.4H1960.8zM2023.7 343.8H2044.7V350.4H2023.7zM2156.6 343.8H2175.6V350.4H2156.6zM1709.1 350.4H1723.0V357.0H1709.1zM1807.0 350.4H1813.9V357.0H1807.0zM1855.9 350.4H1911.9V357.0H1855.9zM1960.8 350.4H1974.8V357.0H1960.8zM2030.7 350.4H2044.7V357.0H2030.7zM2149.6 350.4H2175.6V357.0H2149.6zM1709.1 357.0H1723.0V363.6H1709.1zM1807.0 357.0H1813.9V363.6H1807.0zM1862.9 357.0H1904.9V363.6H1862.9zM1953.8 357.0H1967.8V363.6H1953.8zM2037.7 357.0H2051.7V363.6H2037.7zM2149.6 357.0H2175.6V363.6H2149.6zM1562.2 363.6H1583.2V370.3H1562.2zM1709.1 363.6H1716.0V370.3H1709.1zM1807.0 363.6H1813.9V370.3H1807.0zM1862.9 363.6H1904.9V370.3H1862.9zM1953.8 363.6H1967.8V370.3H1953.8zM2037.7 363.6H2051.7V370.3H2037.7zM2142.6 363.6H2175.6V370.3H2142.6zM1562.2 370.3H1583.2V376.9H1562.2zM1709.1 370.3H1716.0V376.9H1709.1zM1807.0 370.3H1813.9V376.9H1807.0zM1862.9 370.3H1904.9V376.9H1862.9zM1953.8 370.3H1967.8V376.9H1953.8zM2037.7 370.3H2051.7V376.9H2037.7zM2142.6 370.3H2175.6V376.9H2142.6zM1562.2 376.9H1583.2V383.5H1562.2zM1709.1 376.9H1716.0V383.5H1709.1zM1807.0 376.9H1813.9V383.5H1807.0zM1862.9 376.9H1904.9V383.5H1862.9zM1953.8 376.9H1967.8V383.5H1953.8zM2037.7 376.9H2051.7V383.5H2037.7zM2142.6 376.9H2175.6V383.5H2142.6zM1709.1 383.5H1723.0V390.1H1709.1zM1807.0 383.5H1813.9V390.1H1807.0zM1862.9 383.5H1904.9V390.1H1862.9zM1960.8 383.5H1967.8V390.1H1960.8zM2037.7 383.5H2051.7V390.1H2037.7zM2149.6 383.5H2175.6V390.1H2149.6zM1709.1 390.1H1723.0V396.7H1709.1zM1800.0 390.1H1813.9V396.7H1800.0zM1855.9 390.1H1876.9V396.7H1855.9zM1890.9 390.1H1911.9V396.7H1890.9zM1960.8 390.1H1974.8V396.7H1960.8zM2030.7 390.1H2044.7V396.7H2030.7zM2156.6 390.1H2175.6V396.7H2156.6zM1716.0 396.7H1730.0V403.3H1716.0zM1800.0 396.7H1807.0V403.3H1800.0zM1855.9 396.7H1869.9V403.3H1855.9zM1897.9 396.7H1911.9V403.3H1897.9zM1967.8 396.7H1981.8V403.3H1967.8zM2023.7 396.7H2037.7V403.3H2023.7zM1452.3 403.3H1485.3V410.0H1452.3zM1723.0 403.3H1737.0V410.0H1723.0zM1793.0 403.3H1807.0V410.0H1793.0zM1848.9 403.3H1862.9V410.0H1848.9zM1904.9 403.3H1918.8V410.0H1904.9zM1967.8 403.3H1988.8V410.0H1967.8zM2009.8 403.3H2030.7V410.0H2009.8zM1452.3 410.0H1499.3V416.6H1452.3zM1730.0 410.0H1744.0V416.6H1730.0zM1786.0 410.0H1800.0V416.6H1786.0zM1841.9 410.0H1855.9V416.6H1841.9zM1911.9 410.0H1925.8V416.6H1911.9zM1981.8 410.0H2023.7V416.6H1981.8zM1492.3 416.6H1513.3V423.2H1492.3zM1737.0 416.6H1758.0V423.2H1737.0zM1772.0 416.6H1793.0V423.2H1772.0zM1834.9 416.6H1848.9V423.2H1834.9zM1918.8 416.6H1932.8V423.2H1918.8zM1995.8 416.6H2002.8V423.2H1995.8zM1506.3 423.2H1520.2V429.8H1506.3zM1632.1 423.2H1681.1V429.8H1632.1zM1744.0 423.2H1786.0V429.8H1744.0zM1834.9 423.2H1841.9V429.8H1834.9zM1925.8 423.2H1939.8V429.8H1925.8zM1513.3 429.8H1527.2V436.4H1513.3zM1618.1 429.8H1646.1V436.4H1618.1zM1667.1 429.8H1688.1V436.4H1667.1zM1827.9 429.8H1834.9V436.4H1827.9zM1932.8 429.8H1939.8V436.4H1932.8zM2079.7 429.8H2107.7V436.4H2079.7zM1520.2 436.4H1541.2V443.0H1520.2zM1604.2 436.4H1625.1V443.0H1604.2zM1681.1 436.4H1695.1V443.0H1681.1zM1820.9 436.4H1834.9V443.0H1820.9zM1939.8 436.4H1946.8V443.0H1939.8zM2065.7 436.4H2128.6V443.0H2065.7zM1534.2 443.0H1555.2V449.7H1534.2zM1590.2 443.0H1618.1V449.7H1590.2zM1688.1 443.0H1702.1V449.7H1688.1zM1820.9 443.0H1827.9V449.7H1820.9zM1946.8 443.0H1953.8V449.7H1946.8zM2058.7 443.0H2079.7V449.7H2058.7zM2114.6 443.0H2135.6V449.7H2114.6zM1541.2 449.7H1604.2V456.3H1541.2zM1695.1 449.7H1709.1V456.3H1695.1zM1813.9 449.7H1820.9V456.3H1813.9zM1946.8 449.7H1960.8V456.3H1946.8zM2051.7 449.7H2065.7V456.3H2051.7zM2128.6 449.7H2149.6V456.3H2128.6zM1548.2 456.3H1597.2V462.9H1548.2zM1702.1 456.3H1716.0V462.9H1702.1zM1813.9 456.3H1820.9V462.9H1813.9zM1953.8 456.3H1960.8V462.9H1953.8zM2044.7 456.3H2058.7V462.9H2044.7zM2135.6 456.3H2156.6V462.9H2135.6zM1555.2 462.9H1590.2V469.5H1555.2zM1702.1 462.9H1716.0V469.5H1702.1zM1807.0 462.9H1820.9V469.5H1807.0zM1953.8 462.9H1967.8V469.5H1953.8zM2037.7 462.9H2058.7V469.5H2037.7zM2142.6 462.9H2175.6V469.5H2142.6zM1562.2 469.5H1583.2V476.1H1562.2zM1709.1 469.5H1716.0V476.1H1709.1zM1807.0 469.5H1813.9V476.1H1807.0zM1953.8 469.5H1967.8V476.1H1953.8zM2037.7 469.5H2051.7V476.1H2037.7zM2142.6 469.5H2175.6V476.1H2142.6zM1562.2 476.1H1583.2V482.7H1562.2zM1709.1 476.1H1716.0V482.7H1709.1zM1807.0 476.1H1813.9V482.7H1807.0zM1953.8 476.1H1967.8V482.7H1953.8zM2037.7 476.1H2051.7V482.7H2037.7zM2142.6 476.1H2175.6V482.7H2142.6zM1555.2 482.7H1590.2V489.4H1555.2zM1702.1 482.7H1716.0V489.4H1702.1zM1807.0 482.7H1820.9V489.4H1807.0zM1953.8 482.7H1967.8V489.4H1953.8zM2037.7 482.7H2058.7V489.4H2037.7zM2142.6 482.7H2175.6V489.4H2142.6zM1548.2 489.4H1597.2V496.0H1548.2zM1702.1 489.4H1716.0V496.0H1702.1zM1813.9 489.4H1820.9V496.0H1813.9zM1953.8 489.4H1960.8V496.0H1953.8zM2044.7 489.4H2058.7V496.0H2044.7zM2135.6 489.4H2156.6V496.0H2135.6zM1541.2 496.0H1604.2V502.6H1541.2zM1695.1 496.0H1709.1V502.6H1695.1zM1813.9 496.0H1820.9V502.6H1813.9zM1946.8 496.0H1960.8V502.6H1946.8zM2051.7 496.0H2065.7V502.6H2051.7zM2128.6 496.0H2149.6V502.6H2128.6zM1527.2 502.6H1548.2V509.2H1527.2zM1597.2 502.6H1618.1V509.2H1597.2zM1688.1 502.6H1702.1V509.2H1688.1zM1820.9 502.6H1827.9V509.2H1820.9zM1939.8 502.6H1953.8V509.2H1939.8zM2058.7 502.6H2086.7V509.2H2058.7zM2107.7 502.6H2135.6V509.2H2107.7zM1520.2 509.2H1534.2V515.8H1520.2zM1611.2 509.2H1632.1V515.8H1611.2zM1674.1 509.2H1695.1V515.8H1674.1zM1827.9 509.2H1834.9V515.8H1827.9zM1932.8 509.2H1946.8V515.8H1932.8zM2072.7 509.2H2121.6V515.8H2072.7zM1506.3 515.8H1520.2V522.4H1506.3zM1625.1 515.8H1681.1V522.4H1625.1zM1751.0 515.8H1779.0V522.4H1751.0zM1827.9 515.8H1841.9V522.4H1827.9zM1925.8 515.8H1939.8V522.4H1925.8zM1492.3 522.4H1513.3V529.1H1492.3zM1737.0 522.4H1758.0V529.1H1737.0zM1772.0 522.4H1793.0V529.1H1772.0zM1834.9 522.4H1848.9V529.1H1834.9zM1918.8 522.4H1932.8V529.1H1918.8zM1995.8 522.4H2002.8V529.1H1995.8zM1452.3 529.1H1492.3V535.7H1452.3zM1723.0 529.1H1737.0V535.7H1723.0zM1793.0 529.1H1800.0V535.7H1793.0zM1848.9 529.1H1855.9V535.7H1848.9zM1911.9 529.1H1925.8V535.7H1911.9zM1974.8 529.1H2030.7V535.7H1974.8zM1716.0 535.7H1730.0V542.3H1716.0zM1800.0 535.7H1813.9V542.3H1800.0zM1855.9 535.7H1869.9V542.3H1855.9zM1897.9 535.7H1911.9V542.3H1897.9zM1960.8 535.7H1974.8V542.3H1960.8zM2023.7 535.7H2044.7V542.3H2023.7zM2156.6 535.7H2175.6V542.3H2156.6zM1555.2 542.3H1590.2V548.9H1555.2zM1702.1 542.3H1716.0V548.9H1702.1zM1807.0 542.3H1820.9V548.9H1807.0zM1869.9 542.3H1904.9V548.9H1869.9zM1953.8 542.3H1967.8V548.9H1953.8zM2037.7 542.3H2058.7V548.9H2037.7zM2142.6 542.3H2175.6V548.9H2142.6zM1541.2 548.9H1569.2V555.5H1541.2zM1576.2 548.9H1611.2V555.5H1576.2zM1695.1 548.9H1709.1V555.5H1695.1zM1813.9 548.9H1820.9V555.5H1813.9zM1946.8 548.9H1953.8V555.5H1946.8zM2051.7 548.9H2065.7V555.5H2051.7zM2121.6 548.9H2149.6V555.5H2121.6zM1527.2 555.5H1541.2V562.2H1527.2zM1604.2 555.5H1625.1V562.2H1604.2zM1688.1 555.5H1702.1V562.2H1688.1zM1820.9 555.5H1827.9V562.2H1820.9zM1939.8 555.5H1946.8V562.2H1939.8zM2065.7 555.5H2135.6V562.2H2065.7zM1520.2 562.2H1534.2V568.8H1520.2zM1611.2 562.2H1639.1V568.8H1611.2zM1674.1 562.2H1695.1V568.8H1674.1zM1827.9 562.2H1834.9V568.8H1827.9zM1932.8 562.2H1946.8V568.8H1932.8zM2072.7 562.2H2121.6V568.8H2072.7zM1513.3 568.8H1527.2V575.4H1513.3zM1625.1 568.8H1688.1V575.4H1625.1zM1827.9 568.8H1834.9V575.4H1827.9zM1932.8 568.8H1939.8V575.4H1932.8zM1506.3 575.4H1520.2V582.0H1506.3zM1632.1 575.4H1681.1V582.0H1632.1zM1834.9 575.4H1841.9V582.0H1834.9zM1925.8 575.4H1939.8V582.0H1925.8zM1499.3 582.0H1520.2V588.6H1499.3zM1632.1 582.0H1674.1V588.6H1632.1zM1834.9 582.0H1841.9V588.6H1834.9zM1925.8 582.0H1932.8V588.6H1925.8zM1499.3 588.6H1520.2V595.2H1499.3zM1632.1 588.6H1674.1V595.2H1632.1zM1834.9 588.6H1841.9V595.2H1834.9zM1925.8 588.6H1932.8V595.2H1925.8zM1506.3 595.2H1520.2V601.9H1506.3zM1632.1 595.2H1681.1V601.9H1632.1zM1834.9 595.2H1841.9V601.9H1834.9zM1925.8 595.2H1939.8V601.9H1925.8zM1513.3 601.9H1527.2V608.5H1513.3zM1625.1 601.9H1688.1V608.5H1625.1zM1827.9 601.9H1841.9V608.5H1827.9zM1932.8 601.9H1939.8V608.5H1932.8zM1520.2 608.5H1534.2V615.1H1520.2zM1611.2 608.5H1639.1V615.1H1611.2zM1674.1 608.5H1695.1V615.1H1674.1zM1827.9 608.5H1834.9V615.1H1827.9zM1932.8 608.5H1946.8V615.1H1932.8zM2079.7 608.5H2114.6V615.1H2079.7zM1527.2 615.1H1541.2V621.7H1527.2zM1604.2 615.1H1625.1V621.7H1604.2zM1688.1 615.1H1702.1V621.7H1688.1zM1820.9 615.1H1827.9V621.7H1820.9zM1939.8 615.1H1946.8V621.7H1939.8zM2065.7 615.1H2128.6V621.7H2065.7zM1534.2 621.7H1562.2V628.3H1534.2zM1583.2 621.7H1611.2V628.3H1583.2zM1695.1 621.7H1709.1V628.3H1695.1zM1813.9 621.7H1827.9V628.3H1813.9zM1946.8 621.7H1953.8V628.3H1946.8zM2051.7 621.7H2072.7V628.3H2051.7zM2121.6 621.7H2142.6V628.3H2121.6zM1548.2 628.3H1597.2V634.9H1548.2zM1702.1 628.3H1716.0V634.9H1702.1zM1807.0 628.3H1820.9V634.9H1807.0zM1869.9 628.3H1897.9V634.9H1869.9zM1953.8 628.3H1960.8V634.9H1953.8zM2044.7 628.3H2058.7V634.9H2044.7zM2135.6 628.3H2175.6V634.9H2135.6zM1709.1 634.9H1723.0V641.6H1709.1zM1800.0 634.9H1813.9V641.6H1800.0zM1855.9 634.9H1876.9V641.6H1855.9zM1890.9 634.9H1911.9V641.6H1890.9zM1960.8 634.9H1974.8V641.6H1960.8zM2030.7 634.9H2044.7V641.6H2030.7zM2156.6 634.9H2175.6V641.6H2156.6zM1471.3 641.6H1485.3V648.2H1471.3zM1723.0 641.6H1730.0V648.2H1723.0zM1793.0 641.6H1807.0V648.2H1793.0zM1848.9 641.6H1862.9V648.2H1848.9zM1904.9 641.6H1918.8V648.2H1904.9zM1967.8 641.6H1988.8V648.2H1967.8zM2009.8 641.6H2037.7V648.2H2009.8zM1452.3 648.2H1506.3V654.8H1452.3zM1730.0 648.2H1744.0V654.8H1730.0zM1786.0 648.2H1800.0V654.8H1786.0zM1841.9 648.2H1848.9V654.8H1841.9zM1918.8 648.2H1925.8V654.8H1918.8zM1981.8 648.2H2023.7V654.8H1981.8zM1499.3 654.8H1513.3V661.4H1499.3zM1639.1 654.8H1667.1V661.4H1639.1zM1737.0 654.8H1793.0V661.4H1737.0zM1834.9 654.8H1841.9V661.4H1834.9zM1925.8 654.8H1932.8V661.4H1925.8zM1506.3 661.4H1527.2V668.0H1506.3zM1625.1 661.4H1681.1V668.0H1625.1zM1751.0 661.4H1779.0V668.0H1751.0zM1827.9 661.4H1841.9V668.0H1827.9zM1932.8 661.4H1939.8V668.0H1932.8zM1520.2 668.0H1534.2V674.6H1520.2zM1611.2 668.0H1639.1V674.6H1611.2zM1674.1 668.0H1695.1V674.6H1674.1zM1827.9 668.0H1834.9V674.6H1827.9zM1932.8 668.0H1946.8V674.6H1932.8zM2072.7 668.0H2121.6V674.6H2072.7zM1527.2 674.6H1541.2V681.3H1527.2zM1604.2 674.6H1625.1V681.3H1604.2zM1681.1 674.6H1695.1V681.3H1681.1zM1820.9 674.6H1827.9V681.3H1820.9zM1939.8 674.6H1946.8V681.3H1939.8zM2065.7 674.6H2128.6V681.3H2065.7zM1527.2 681.3H1548.2V687.9H1527.2zM1597.2 681.3H1618.1V687.9H1597.2zM1688.1 681.3H1702.1V687.9H1688.1zM1820.9 681.3H1827.9V687.9H1820.9zM1939.8 681.3H1953.8V687.9H1939.8zM2058.7 681.3H2079.7V687.9H2058.7zM2107.7 681.3H2135.6V687.9H2107.7zM1534.2 687.9H1555.2V694.5H1534.2zM1590.2 687.9H1611.2V694.5H1590.2zM1695.1 687.9H1702.1V694.5H1695.1zM1820.9 687.9H1827.9V694.5H1820.9zM1946.8 687.9H1953.8V694.5H1946.8zM2058.7 687.9H2079.7V694.5H2058.7zM2114.6 687.9H2142.6V694.5H2114.6zM1534.2 694.5H1555.2V701.1H1534.2zM1590.2 694.5H1611.2V701.1H1590.2zM1695.1 694.5H1709.1V701.1H1695.1zM1813.9 694.5H1827.9V701.1H1813.9zM1946.8 694.5H1953.8V701.1H1946.8zM2051.7 694.5H2072.7V701.1H2051.7zM2121.6 694.5H2142.6V701.1H2121.6zM1534.2 701.1H1555.2V707.7H1534.2zM1590.2 701.1H1611.2V707.7H1590.2zM1695.1 701.1H1702.1V707.7H1695.1zM1820.9 701.1H1827.9V707.7H1820.9zM1946.8 701.1H1953.8V707.7H1946.8zM2058.7 701.1H2072.7V707.7H2058.7zM2121.6 701.1H2142.6V707.7H2121.6zM1534.2 707.7H1548.2V714.3H1534.2zM1597.2 707.7H1618.1V714.3H1597.2zM1688.1 707.7H1702.1V714.3H1688.1zM1820.9 707.7H1827.9V714.3H1820.9zM1939.8 707.7H1953.8V714.3H1939.8zM2058.7 707.7H2079.7V714.3H2058.7zM2114.6 707.7H2135.6V714.3H2114.6zM1527.2 714.3H1541.2V721.0H1527.2zM1597.2 714.3H1625.1V721.0H1597.2zM1688.1 714.3H1702.1V721.0H1688.1zM1820.9 714.3H1827.9V721.0H1820.9zM1939.8 714.3H1953.8V721.0H1939.8zM2065.7 714.3H2093.7V721.0H2065.7zM2100.7 714.3H2135.6V721.0H2100.7zM1520.2 721.0H1541.2V727.6H1520.2zM1611.2 721.0H1632.1V727.6H1611.2zM1681.1 721.0H1695.1V727.6H1681.1zM1820.9 721.0H1834.9V727.6H1820.9zM1939.8 721.0H1946.8V727.6H1939.8zM2065.7 721.0H2128.6V727.6H2065.7zM1513.3 727.6H1534.2V734.2H1513.3zM1618.1 727.6H1639.1V734.2H1618.1zM1674.1 727.6H1688.1V734.2H1674.1zM1827.9 727.6H1834.9V734.2H1827.9zM1932.8 727.6H1946.8V734.2H1932.8zM2079.7 727.6H2114.6V734.2H2079.7zM1506.3 734.2H1527.2V740.8H1506.3zM1625.1 734.2H1681.1V740.8H1625.1zM1751.0 734.2H1779.0V740.8H1751.0zM1827.9 734.2H1841.9V740.8H1827.9zM1932.8 734.2H1939.8V740.8H1932.8zM1499.3 740.8H1520.2V747.4H1499.3zM1639.1 740.8H1674.1V747.4H1639.1zM1744.0 740.8H1786.0V747.4H1744.0zM1834.9 740.8H1841.9V747.4H1834.9zM1925.8 740.8H1932.8V747.4H1925.8zM1492.3 747.4H1513.3V754.0H1492.3zM1737.0 747.4H1758.0V754.0H1737.0zM1772.0 747.4H1793.0V754.0H1772.0zM1834.9 747.4H1848.9V754.0H1834.9zM1918.8 747.4H1932.8V754.0H1918.8zM1995.8 747.4H2002.8V754.0H1995.8zM1452.3 754.0H1506.3V760.7H1452.3zM1730.0 754.0H1744.0V760.7H1730.0zM1786.0 754.0H1800.0V760.7H1786.0zM1841.9 754.0H1848.9V760.7H1841.9zM1918.8 754.0H1925.8V760.7H1918.8zM1981.8 754.0H2016.7V760.7H1981.8zM1452.3 760.7H1492.3V767.3H1452.3zM1723.0 760.7H1737.0V767.3H1723.0zM1793.0 760.7H1800.0V767.3H1793.0zM1848.9 760.7H1855.9V767.3H1848.9zM1911.9 760.7H1925.8V767.3H1911.9zM1974.8 760.7H2030.7V767.3H1974.8zM1452.3 767.3H1485.3V773.9H1452.3zM1723.0 767.3H1737.0V773.9H1723.0zM1793.0 767.3H1807.0V773.9H1793.0zM1848.9 767.3H1862.9V773.9H1848.9zM1911.9 767.3H1918.8V773.9H1911.9zM1967.8 767.3H1995.8V773.9H1967.8zM2009.8 767.3H2030.7V773.9H2009.8zM1716.0 773.9H1730.0V780.5H1716.0zM1793.0 773.9H1807.0V780.5H1793.0zM1848.9 773.9H1862.9V780.5H1848.9zM1904.9 773.9H1918.8V780.5H1904.9zM1967.8 773.9H1981.8V780.5H1967.8zM2016.7 773.9H2037.7V780.5H2016.7zM1716.0 780.5H1730.0V787.1H1716.0zM1800.0 780.5H1807.0V787.1H1800.0zM1848.9 780.5H1862.9V787.1H1848.9zM1904.9 780.5H1918.8V787.1H1904.9zM1967.8 780.5H1981.8V787.1H1967.8zM2016.7 780.5H2037.7V787.1H2016.7zM1716.0 787.1H1730.0V793.7H1716.0zM1800.0 787.1H1807.0V793.7H1800.0zM1848.9 787.1H1862.9V793.7H1848.9zM1904.9 787.1H1918.8V793.7H1904.9zM1967.8 787.1H1981.8V793.7H1967.8zM2023.7 787.1H2037.7V793.7H2023.7zM1716.0 793.7H1730.0V800.4H1716.0zM1800.0 793.7H1807.0V800.4H1800.0zM1848.9 793.7H1862.9V800.4H1848.9zM1904.9 793.7H1918.8V800.4H1904.9zM1967.8 793.7H1981.8V800.4H1967.8zM2016.7 793.7H2037.7V800.4H2016.7zM1723.0 800.4H1730.0V807.0H1723.0zM1793.0 800.4H1807.0V807.0H1793.0zM1848.9 800.4H1862.9V807.0H1848.9zM1904.9 800.4H1918.8V807.0H1904.9zM1967.8 800.4H1988.8V807.0H1967.8zM2016.7 800.4H2037.7V807.0H2016.7zM1452.3 807.0H1485.3V813.6H1452.3zM1723.0 807.0H1737.0V813.6H1723.0zM1793.0 807.0H1807.0V813.6H1793.0zM1848.9 807.0H1862.9V813.6H1848.9zM1911.9 807.0H1918.8V813.6H1911.9zM1967.8 807.0H1995.8V813.6H1967.8zM2009.8 807.0H2030.7V813.6H2009.8zM1452.3 813.6H1499.3V820.2H1452.3zM1723.0 813.6H1737.0V820.2H1723.0zM1793.0 813.6H1800.0V820.2H1793.0zM1841.9 813.6H1855.9V820.2H1841.9zM1911.9 813.6H1925.8V820.2H1911.9zM1974.8 813.6H2030.7V820.2H1974.8zM1452.3 820.2H1499.3V826.8H1452.3zM1730.0 820.2H1744.0V826.8H1730.0zM1786.0 820.2H1800.0V826.8H1786.0zM1841.9 820.2H1855.9V826.8H1841.9zM1918.8 820.2H1925.8V826.8H1918.8zM1981.8 820.2H2023.7V826.8H1981.8zM1485.3 826.8H1506.3V833.4H1485.3zM1737.0 826.8H1751.0V833.4H1737.0zM1779.0 826.8H1793.0V833.4H1779.0zM1841.9 826.8H1848.9V833.4H1841.9zM1918.8 826.8H1932.8V833.4H1918.8zM1988.8 826.8H2009.8V833.4H1988.8zM1492.3 833.4H1513.3V840.1H1492.3zM1646.1 833.4H1667.1V840.1H1646.1zM1737.0 833.4H1793.0V840.1H1737.0zM1834.9 833.4H1848.9V840.1H1834.9zM1925.8 833.4H1932.8V840.1H1925.8zM1499.3 840.1H1520.2V846.7H1499.3zM1632.1 840.1H1674.1V846.7H1632.1zM1744.0 840.1H1786.0V846.7H1744.0zM1834.9 840.1H1841.9V846.7H1834.9zM1925.8 840.1H1932.8V846.7H1925.8zM1506.3 846.7H1520.2V865.3H1506.3zM1625.1 846.7H1681.1V865.3H1625.1zM1751.0 846.7H1779.0V865.3H1751.0zM1827.9 846.7H1841.9V865.3H1827.9zM1925.8 846.7H1939.8V865.3H1925.8z"/>
<path fill="#FF9200" d="M1555.2 179.6H1590.2V198.2H1555.2zM1702.1 179.6H1716.0V198.2H1702.1zM1807.0 179.6H1820.9V198.2H1807.0zM1953.8 179.6H1960.8V198.2H1953.8zM2044.7 179.6H2058.7V198.2H2044.7zM2135.6 179.6H2175.6V198.2H2135.6zM1548.2 198.2H1597.2V204.8H1548.2zM1702.1 198.2H1716.0V204.8H1702.1zM1813.9 198.2H1820.9V204.8H1813.9zM1953.8 198.2H1960.8V204.8H1953.8zM2044.7 198.2H2058.7V204.8H2044.7zM2135.6 198.2H2156.6V204.8H2135.6zM1548.2 204.8H1597.2V211.5H1548.2zM1702.1 204.8H1716.0V211.5H1702.1zM1807.0 204.8H1820.9V211.5H1807.0zM1953.8 204.8H1960.8V211.5H1953.8zM2044.7 204.8H2058.7V211.5H2044.7zM2135.6 204.8H2175.6V211.5H2135.6zM1555.2 211.5H1590.2V218.1H1555.2zM1702.1 211.5H1716.0V218.1H1702.1zM1807.0 211.5H1820.9V218.1H1807.0zM1953.8 211.5H1967.8V218.1H1953.8zM2037.7 211.5H2058.7V218.1H2037.7zM2142.6 211.5H2175.6V218.1H2142.6zM1569.2 218.1H1576.2V224.7H1569.2zM1709.1 218.1H1723.0V224.7H1709.1zM1807.0 218.1H1813.9V224.7H1807.0zM1953.8 218.1H1967.8V224.7H1953.8zM2037.7 218.1H2051.7V224.7H2037.7zM2149.6 218.1H2175.6V224.7H2149.6zM1709.1 224.7H1723.0V231.3H1709.1zM1800.0 224.7H1813.9V231.3H1800.0zM1960.8 224.7H1974.8V231.3H1960.8zM2030.7 224.7H2044.7V231.3H2030.7zM2156.6 224.7H2175.6V231.3H2156.6zM1716.0 231.3H1730.0V237.9H1716.0zM1800.0 231.3H1807.0V237.9H1800.0zM1967.8 231.3H1981.8V237.9H1967.8zM2023.7 231.3H2037.7V237.9H2023.7zM1723.0 237.9H1737.0V244.5H1723.0zM1793.0 237.9H1807.0V244.5H1793.0zM1967.8 237.9H1988.8V244.5H1967.8zM2009.8 237.9H2030.7V244.5H2009.8zM1730.0 244.5H1744.0V251.2H1730.0zM1786.0 244.5H1800.0V251.2H1786.0zM1869.9 244.5H1897.9V251.2H1869.9zM1974.8 244.5H2023.7V251.2H1974.8zM1730.0 251.2H1751.0V257.8H1730.0zM1779.0 251.2H1793.0V257.8H1779.0zM1862.9 251.2H1904.9V257.8H1862.9zM1988.8 251.2H2016.7V257.8H1988.8zM1737.0 257.8H1793.0V264.4H1737.0zM1855.9 257.8H1876.9V264.4H1855.9zM1890.9 257.8H1911.9V264.4H1890.9zM1744.0 264.4H1786.0V271.0H1744.0zM1848.9 264.4H1862.9V271.0H1848.9zM1904.9 264.4H1918.8V271.0H1904.9zM1471.3 271.0H1485.3V277.6H1471.3zM1751.0 271.0H1779.0V277.6H1751.0zM1848.9 271.0H1862.9V277.6H1848.9zM1904.9 271.0H1918.8V277.6H1904.9zM1452.3 277.6H1492.3V284.2H1452.3zM1758.0 277.6H1772.0V284.2H1758.0zM1848.9 277.6H1855.9V284.2H1848.9zM1911.9 277.6H1918.8V284.2H1911.9zM1452.3 284.2H1492.3V290.9H1452.3zM1848.9 284.2H1855.9V290.9H1848.9zM1911.9 284.2H1925.8V290.9H1911.9zM1452.3 290.9H1499.3V297.5H1452.3zM1841.9 290.9H1855.9V297.5H1841.9zM1911.9 290.9H1925.8V297.5H1911.9zM1452.3 297.5H1492.3V304.1H1452.3zM1848.9 297.5H1855.9V304.1H1848.9zM1911.9 297.5H1925.8V304.1H1911.9zM1452.3 304.1H1492.3V310.7H1452.3zM1758.0 304.1H1772.0V310.7H1758.0zM1848.9 304.1H1855.9V310.7H1848.9zM1911.9 304.1H1918.8V310.7H1911.9zM1471.3 310.7H1485.3V317.3H1471.3zM1751.0 310.7H1779.0V317.3H1751.0zM1848.9 310.7H1862.9V317.3H1848.9zM1904.9 310.7H1918.8V317.3H1904.9zM1744.0 317.3H1786.0V323.9H1744.0zM1848.9 317.3H1862.9V323.9H1848.9zM1904.9 317.3H1918.8V323.9H1904.9zM1737.0 323.9H1793.0V330.6H1737.0zM1855.9 323.9H1869.9V330.6H1855.9zM1897.9 323.9H1911.9V330.6H1897.9zM1737.0 330.6H1751.0V337.2H1737.0zM1779.0 330.6H1793.0V337.2H1779.0zM1862.9 330.6H1904.9V337.2H1862.9zM1988.8 330.6H2009.8V337.2H1988.8zM1730.0 337.2H1744.0V343.8H1730.0zM1786.0 337.2H1800.0V343.8H1786.0zM1862.9 337.2H1904.9V343.8H1862.9zM1981.8 337.2H2016.7V343.8H1981.8zM1723.0 343.8H1737.0V350.4H1723.0zM1786.0 343.8H1800.0V350.4H1786.0zM1869.9 343.8H1897.9V350.4H1869.9zM1974.8 343.8H2023.7V350.4H1974.8zM1723.0 350.4H1737.0V357.0H1723.0zM1793.0 350.4H1807.0V357.0H1793.0zM1974.8 350.4H1995.8V357.0H1974.8zM2002.8 350.4H2030.7V357.0H2002.8zM1723.0 357.0H1730.0V363.6H1723.0zM1793.0 357.0H1807.0V363.6H1793.0zM1967.8 357.0H1988.8V363.6H1967.8zM2016.7 357.0H2037.7V363.6H2016.7zM1716.0 363.6H1730.0V370.3H1716.0zM1800.0 363.6H1807.0V370.3H1800.0zM1967.8 363.6H1981.8V370.3H1967.8zM2016.7 363.6H2037.7V370.3H2016.7zM1716.0 370.3H1730.0V376.9H1716.0zM1800.0 370.3H1807.0V376.9H1800.0zM1967.8 370.3H1981.8V376.9H1967.8zM2016.7 370.3H2037.7V376.9H2016.7zM1716.0 376.9H1730.0V383.5H1716.0zM1800.0 376.9H1807.0V383.5H1800.0zM1967.8 376.9H1981.8V383.5H1967.8zM2016.7 376.9H2037.7V383.5H2016.7zM1723.0 383.5H1730.0V390.1H1723.0zM1793.0 383.5H1807.0V390.1H1793.0zM1967.8 383.5H1988.8V390.1H1967.8zM2009.8 383.5H2037.7V390.1H2009.8zM1723.0 390.1H1737.0V396.7H1723.0zM1793.0 390.1H1800.0V396.7H1793.0zM1876.9 390.1H1890.9V396.7H1876.9zM1974.8 390.1H2030.7V396.7H1974.8zM1730.0 396.7H1744.0V403.3H1730.0zM1786.0 396.7H1800.0V403.3H1786.0zM1869.9 396.7H1897.9V403.3H1869.9zM1981.8 396.7H2023.7V403.3H1981.8zM1737.0 403.3H1751.0V410.0H1737.0zM1779.0 403.3H1793.0V410.0H1779.0zM1862.9 403.3H1904.9V410.0H1862.9zM1988.8 403.3H2009.8V410.0H1988.8zM1744.0 410.0H1786.0V416.6H1744.0zM1855.9 410.0H1869.9V416.6H1855.9zM1897.9 410.0H1911.9V416.6H1897.9zM1452.3 416.6H1492.3V423.2H1452.3zM1758.0 416.6H1772.0V423.2H1758.0zM1848.9 416.6H1855.9V423.2H1848.9zM1911.9 416.6H1918.8V423.2H1911.9zM1452.3 423.2H1506.3V429.8H1452.3zM1841.9 423.2H1848.9V429.8H1841.9zM1918.8 423.2H1925.8V429.8H1918.8zM1492.3 429.8H1513.3V436.4H1492.3zM1646.1 429.8H1667.1V436.4H1646.1zM1834.9 429.8H1848.9V436.4H1834.9zM1925.8 429.8H1932.8V436.4H1925.8zM1506.3 436.4H1520.2V443.0H1506.3zM1625.1 436.4H1681.1V443.0H1625.1zM1834.9 436.4H1841.9V443.0H1834.9zM1925.8 436.4H1939.8V443.0H1925.8zM1513.3 443.0H1534.2V449.7H1513.3zM1618.1 443.0H1639.1V449.7H1618.1zM1674.1 443.0H1688.1V449.7H1674.1zM1827.9 443.0H1834.9V449.7H1827.9zM1932.8 443.0H1946.8V449.7H1932.8zM2079.7 443.0H2114.6V449.7H2079.7zM1520.2 449.7H1541.2V456.3H1520.2zM1604.2 449.7H1625.1V456.3H1604.2zM1681.1 449.7H1695.1V456.3H1681.1zM1820.9 449.7H1834.9V456.3H1820.9zM1939.8 449.7H1946.8V456.3H1939.8zM2065.7 449.7H2128.6V456.3H2065.7zM1527.2 456.3H1548.2V462.9H1527.2zM1597.2 456.3H1618.1V462.9H1597.2zM1688.1 456.3H1702.1V462.9H1688.1zM1820.9 456.3H1827.9V462.9H1820.9zM1939.8 456.3H1953.8V462.9H1939.8zM2058.7 456.3H2086.7V462.9H2058.7zM2107.7 456.3H2135.6V462.9H2107.7zM1534.2 462.9H1555.2V469.5H1534.2zM1590.2 462.9H1611.2V469.5H1590.2zM1695.1 462.9H1702.1V469.5H1695.1zM1820.9 462.9H1827.9V469.5H1820.9zM1946.8 462.9H1953.8V469.5H1946.8zM2058.7 462.9H2072.7V469.5H2058.7zM2121.6 462.9H2142.6V469.5H2121.6zM1534.2 469.5H1562.2V476.1H1534.2zM1583.2 469.5H1611.2V476.1H1583.2zM1695.1 469.5H1709.1V476.1H1695.1zM1813.9 469.5H1827.9V476.1H1813.9zM1946.8 469.5H1953.8V476.1H1946.8zM2051.7 469.5H2072.7V476.1H2051.7zM2121.6 469.5H2142.6V476.1H2121.6zM1534.2 476.1H1562.2V482.7H1534.2zM1583.2 476.1H1611.2V482.7H1583.2zM1695.1 476.1H1709.1V482.7H1695.1zM1813.9 476.1H1827.9V482.7H1813.9zM1946.8 476.1H1953.8V482.7H1946.8zM2051.7 476.1H2072.7V482.7H2051.7zM2121.6 476.1H2142.6V482.7H2121.6zM1534.2 482.7H1555.2V489.4H1534.2zM1590.2 482.7H1611.2V489.4H1590.2zM1695.1 482.7H1702.1V489.4H1695.1zM1820.9 482.7H1827.9V489.4H1820.9zM1946.8 482.7H1953.8V489.4H1946.8zM2058.7 482.7H2072.7V489.4H2058.7zM2121.6 482.7H2142.6V489.4H2121.6zM1527.2 489.4H1548.2V496.0H1527.2zM1597.2 489.4H1618.1V496.0H1597.2zM1688.1 489.4H1702.1V496.0H1688.1zM1820.9 489.4H1827.9V496.0H1820.9zM1939.8 489.4H1953.8V496.0H1939.8zM2058.7 489.4H2086.7V496.0H2058.7zM2107.7 489.4H2135.6V496.0H2107.7zM1520.2 496.0H1541.2V502.6H1520.2zM1604.2 496.0H1632.1V502.6H1604.2zM1681.1 496.0H1695.1V502.6H1681.1zM1820.9 496.0H1834.9V502.6H1820.9zM1939.8 496.0H1946.8V502.6H1939.8zM2065.7 496.0H2128.6V502.6H2065.7zM1513.3 502.6H1527.2V509.2H1513.3zM1618.1 502.6H1646.1V509.2H1618.1zM1667.1 502.6H1688.1V509.2H1667.1zM1827.9 502.6H1834.9V509.2H1827.9zM1932.8 502.6H1939.8V509.2H1932.8zM2086.7 502.6H2107.7V509.2H2086.7zM1499.3 509.2H1520.2V515.8H1499.3zM1632.1 509.2H1674.1V515.8H1632.1zM1834.9 509.2H1841.9V515.8H1834.9zM1925.8 509.2H1932.8V515.8H1925.8zM1452.3 515.8H1471.3V522.4H1452.3zM1478.3 515.8H1506.3V522.4H1478.3zM1841.9 515.8H1848.9V522.4H1841.9zM1918.8 515.8H1925.8V522.4H1918.8zM1452.3 522.4H1492.3V529.1H1452.3zM1758.0 522.4H1772.0V529.1H1758.0zM1848.9 522.4H1855.9V529.1H1848.9zM1911.9 522.4H1918.8V529.1H1911.9zM1737.0 529.1H1793.0V535.7H1737.0zM1855.9 529.1H1876.9V535.7H1855.9zM1890.9 529.1H1911.9V535.7H1890.9zM1730.0 535.7H1744.0V542.3H1730.0zM1786.0 535.7H1800.0V542.3H1786.0zM1869.9 535.7H1897.9V542.3H1869.9zM1974.8 535.7H2023.7V542.3H1974.8zM1716.0 542.3H1730.0V548.9H1716.0zM1800.0 542.3H1807.0V548.9H1800.0zM1967.8 542.3H1981.8V548.9H1967.8zM2023.7 542.3H2037.7V548.9H2023.7zM1569.2 548.9H1576.2V555.5H1569.2zM1709.1 548.9H1723.0V555.5H1709.1zM1807.0 548.9H1813.9V555.5H1807.0zM1953.8 548.9H1967.8V555.5H1953.8zM2037.7 548.9H2051.7V555.5H2037.7zM2149.6 548.9H2175.6V555.5H2149.6zM1541.2 555.5H1604.2V562.2H1541.2zM1702.1 555.5H1709.1V562.2H1702.1zM1813.9 555.5H1820.9V562.2H1813.9zM1946.8 555.5H1960.8V562.2H1946.8zM2044.7 555.5H2065.7V562.2H2044.7zM2135.6 555.5H2156.6V562.2H2135.6zM1534.2 562.2H1555.2V568.8H1534.2zM1590.2 562.2H1611.2V568.8H1590.2zM1695.1 562.2H1702.1V568.8H1695.1zM1820.9 562.2H1827.9V568.8H1820.9zM1946.8 562.2H1953.8V568.8H1946.8zM2058.7 562.2H2072.7V568.8H2058.7zM2121.6 562.2H2142.6V568.8H2121.6zM1527.2 568.8H1541.2V575.4H1527.2zM1604.2 568.8H1625.1V575.4H1604.2zM1688.1 568.8H1702.1V575.4H1688.1zM1820.9 568.8H1827.9V575.4H1820.9zM1939.8 568.8H1946.8V575.4H1939.8zM2065.7 568.8H2128.6V575.4H2065.7zM1520.2 575.4H1541.2V582.0H1520.2zM1611.2 575.4H1632.1V582.0H1611.2zM1681.1 575.4H1695.1V582.0H1681.1zM1820.9 575.4H1834.9V582.0H1820.9zM1939.8 575.4H1946.8V582.0H1939.8zM2072.7 575.4H2121.6V582.0H2072.7zM1520.2 582.0H1534.2V588.6H1520.2zM1611.2 582.0H1632.1V588.6H1611.2zM1674.1 582.0H1695.1V588.6H1674.1zM1827.9 582.0H1834.9V588.6H1827.9zM1932.8 582.0H1946.8V588.6H1932.8zM2072.7 582.0H2121.6V588.6H2072.7zM1520.2 588.6H1534.2V595.2H1520.2zM1611.2 588.6H1632.1V595.2H1611.2zM1674.1 588.6H1695.1V595.2H1674.1zM1827.9 588.6H1834.9V595.2H1827.9zM1932.8 588.6H1946.8V595.2H1932.8zM2072.7 588.6H2121.6V595.2H2072.7zM1520.2 595.2H1541.2V601.9H1520.2zM1611.2 595.2H1632.1V601.9H1611.2zM1681.1 595.2H1695.1V601.9H1681.1zM1820.9 595.2H1834.9V601.9H1820.9zM1939.8 595.2H1946.8V601.9H1939.8zM2072.7 595.2H2121.6V601.9H2072.7zM1527.2 601.9H1541.2V608.5H1527.2zM1604.2 601.9H1625.1V608.5H1604.2zM1688.1 601.9H1702.1V608.5H1688.1zM1820.9 601.9H1827.9V608.5H1820.9zM1939.8 601.9H1946.8V608.5H1939.8zM2065.7 601.9H2128.6V608.5H2065.7zM1534.2 608.5H1555.2V615.1H1534.2zM1590.2 608.5H1611.2V615.1H1590.2zM1695.1 608.5H1702.1V615.1H1695.1zM1820.9 608.5H1827.9V615.1H1820.9zM1946.8 608.5H1953.8V615.1H1946.8zM2058.7 608.5H2079.7V615.1H2058.7zM2114.6 608.5H2142.6V615.1H2114.6zM1541.2 615.1H1604.2V621.7H1541.2zM1702.1 615.1H1709.1V621.7H1702.1zM1813.9 615.1H1820.9V621.7H1813.9zM1946.8 615.1H1960.8V621.7H1946.8zM2044.7 615.1H2065.7V621.7H2044.7zM2128.6 615.1H2149.6V621.7H2128.6zM1562.2 621.7H1583.2V628.3H1562.2zM1709.1 621.7H1716.0V628.3H1709.1zM1807.0 621.7H1813.9V628.3H1807.0zM1953.8 621.7H1967.8V628.3H1953.8zM2037.7 621.7H2051.7V628.3H2037.7zM2142.6 621.7H2175.6V628.3H2142.6zM1716.0 628.3H1730.0V634.9H1716.0zM1800.0 628.3H1807.0V634.9H1800.0zM1960.8 628.3H1974.8V634.9H1960.8zM2023.7 628.3H2044.7V634.9H2023.7zM1723.0 634.9H1737.0V641.6H1723.0zM1793.0 634.9H1800.0V641.6H1793.0zM1876.9 634.9H1890.9V641.6H1876.9zM1974.8 634.9H2030.7V641.6H1974.8zM1730.0 641.6H1751.0V648.2H1730.0zM1779.0 641.6H1793.0V648.2H1779.0zM1862.9 641.6H1904.9V648.2H1862.9zM1988.8 641.6H2009.8V648.2H1988.8zM1744.0 648.2H1786.0V654.8H1744.0zM1848.9 648.2H1862.9V654.8H1848.9zM1904.9 648.2H1918.8V654.8H1904.9zM1452.3 654.8H1499.3V661.4H1452.3zM1841.9 654.8H1855.9V661.4H1841.9zM1911.9 654.8H1925.8V661.4H1911.9zM1485.3 661.4H1506.3V668.0H1485.3zM1841.9 661.4H1848.9V668.0H1841.9zM1918.8 661.4H1932.8V668.0H1918.8zM1499.3 668.0H1520.2V674.6H1499.3zM1639.1 668.0H1674.1V674.6H1639.1zM1834.9 668.0H1841.9V674.6H1834.9zM1925.8 668.0H1932.8V674.6H1925.8zM1506.3 674.6H1527.2V681.3H1506.3zM1625.1 674.6H1681.1V681.3H1625.1zM1827.9 674.6H1841.9V681.3H1827.9zM1932.8 674.6H1939.8V681.3H1932.8zM1513.3 681.3H1527.2V687.9H1513.3zM1618.1 681.3H1646.1V687.9H1618.1zM1667.1 681.3H1688.1V687.9H1667.1zM1827.9 681.3H1834.9V687.9H1827.9zM1932.8 681.3H1939.8V687.9H1932.8zM2079.7 681.3H2107.7V687.9H2079.7zM1520.2 687.9H1534.2V694.5H1520.2zM1611.2 687.9H1639.1V694.5H1611.2zM1674.1 687.9H1695.1V694.5H1674.1zM1827.9 687.9H1834.9V694.5H1827.9zM1932.8 687.9H1946.8V694.5H1932.8zM2079.7 687.9H2114.6V694.5H2079.7zM1520.2 694.5H1534.2V701.1H1520.2zM1611.2 694.5H1632.1V701.1H1611.2zM1674.1 694.5H1695.1V701.1H1674.1zM1827.9 694.5H1834.9V701.1H1827.9zM1932.8 694.5H1946.8V701.1H1932.8zM2072.7 694.5H2121.6V701.1H2072.7zM1520.2 701.1H1534.2V707.7H1520.2zM1611.2 701.1H1639.1V707.7H1611.2zM1674.1 701.1H1695.1V707.7H1674.1zM1827.9 701.1H1834.9V707.7H1827.9zM1932.8 701.1H1946.8V707.7H1932.8zM2072.7 701.1H2121.6V707.7H2072.7zM1513.3 707.7H1534.2V714.3H1513.3zM1618.1 707.7H1639.1V714.3H1618.1zM1667.1 707.7H1688.1V714.3H1667.1zM1827.9 707.7H1834.9V714.3H1827.9zM1932.8 707.7H1939.8V714.3H1932.8zM2079.7 707.7H2114.6V714.3H2079.7zM1513.3 714.3H1527.2V721.0H1513.3zM1625.1 714.3H1688.1V721.0H1625.1zM1827.9 714.3H1834.9V721.0H1827.9zM1932.8 714.3H1939.8V721.0H1932.8zM2093.7 714.3H2100.7V721.0H2093.7zM1506.3 721.0H1520.2V727.6H1506.3zM1632.1 721.0H1681.1V727.6H1632.1zM1834.9 721.0H1841.9V727.6H1834.9zM1925.8 721.0H1939.8V727.6H1925.8zM1499.3 727.6H1513.3V734.2H1499.3zM1639.1 727.6H1674.1V734.2H1639.1zM1834.9 727.6H1841.9V734.2H1834.9zM1925.8 727.6H1932.8V734.2H1925.8zM1485.3 734.2H1506.3V740.8H1485.3zM1841.9 734.2H1848.9V740.8H1841.9zM1918.8 734.2H1932.8V740.8H1918.8zM1452.3 740.8H1499.3V747.4H1452.3zM1841.9 740.8H1855.9V747.4H1841.9zM1911.9 740.8H1925.8V747.4H1911.9zM1452.3 747.4H1492.3V754.0H1452.3zM1758.0 747.4H1772.0V754.0H1758.0zM1848.9 747.4H1855.9V754.0H1848.9zM1911.9 747.4H1918.8V754.0H1911.9zM1744.0 754.0H1786.0V760.7H1744.0zM1848.9 754.0H1862.9V760.7H1848.9zM1904.9 754.0H1918.8V760.7H1904.9zM1737.0 760.7H1793.0V767.3H1737.0zM1855.9 760.7H1869.9V767.3H1855.9zM1897.9 760.7H1911.9V767.3H1897.9zM1737.0 767.3H1751.0V773.9H1737.0zM1779.0 767.3H1793.0V773.9H1779.0zM1862.9 767.3H1911.9V773.9H1862.9zM1995.8 767.3H2009.8V773.9H1995.8zM1730.0 773.9H1751.0V780.5H1730.0zM1779.0 773.9H1793.0V780.5H1779.0zM1862.9 773.9H1904.9V780.5H1862.9zM1981.8 773.9H2016.7V780.5H1981.8zM1730.0 780.5H1744.0V787.1H1730.0zM1786.0 780.5H1800.0V787.1H1786.0zM1862.9 780.5H1904.9V787.1H1862.9zM1981.8 780.5H2016.7V787.1H1981.8zM1730.0 787.1H1744.0V793.7H1730.0zM1786.0 787.1H1800.0V793.7H1786.0zM1862.9 787.1H1904.9V793.7H1862.9zM1981.8 787.1H2023.7V793.7H1981.8zM1730.0 793.7H1744.0V800.4H1730.0zM1786.0 793.7H1800.0V800.4H1786.0zM1862.9 793.7H1904.9V800.4H1862.9zM1981.8 793.7H2016.7V800.4H1981.8zM1730.0 800.4H1751.0V807.0H1730.0zM1779.0 800.4H1793.0V807.0H1779.0zM1862.9 800.4H1904.9V807.0H1862.9zM1988.8 800.4H2016.7V807.0H1988.8zM1737.0 807.0H1751.0V813.6H1737.0zM1779.0 807.0H1793.0V813.6H1779.0zM1862.9 807.0H1911.9V813.6H1862.9zM1995.8 807.0H2009.8V813.6H1995.8zM1737.0 813.6H1793.0V820.2H1737.0zM1855.9 813.6H1869.9V820.2H1855.9zM1897.9 813.6H1911.9V820.2H1897.9zM1744.0 820.2H1786.0V826.8H1744.0zM1855.9 820.2H1862.9V826.8H1855.9zM1904.9 820.2H1918.8V826.8H1904.9zM1452.3 826.8H1485.3V833.4H1452.3zM1751.0 826.8H1779.0V833.4H1751.0zM1848.9 826.8H1862.9V833.4H1848.9zM1904.9 826.8H1918.8V833.4H1904.9zM1452.3 833.4H1492.3V840.1H1452.3zM1848.9 833.4H1855.9V840.1H1848.9zM1911.9 833.4H1925.8V840.1H1911.9zM1452.3 840.1H1499.3V846.7H1452.3zM1841.9 840.1H1855.9V846.7H1841.9zM1918.8 840.1H1925.8V846.7H1918.8zM1452.3 846.7H1471.3V865.3H1452.3zM1478.3 846.7H1506.3V865.3H1478.3zM1841.9 846.7H1848.9V865.3H1841.9zM1918.8 846.7H1925.8V865.3H1918.8z"/>
<path fill="#FFB600" d="M1716.0 179.6H1730.0V198.2H1716.0zM1800.0 179.6H1807.0V198.2H1800.0zM1960.8 179.6H1974.8V198.2H1960.8zM2023.7 179.6H2044.7V198.2H2023.7zM1716.0 198.2H1723.0V204.8H1716.0zM1800.0 198.2H1813.9V204.8H1800.0zM1960.8 198.2H1974.8V204.8H1960.8zM2023.7 198.2H2044.7V204.8H2023.7zM2156.6 198.2H2175.6V204.8H2156.6zM1716.0 204.8H1730.0V211.5H1716.0zM1800.0 204.8H1807.0V211.5H1800.0zM1960.8 204.8H1974.8V211.5H1960.8zM2023.7 204.8H2044.7V211.5H2023.7zM1716.0 211.5H1730.0V218.1H1716.0zM1800.0 211.5H1807.0V218.1H1800.0zM1967.8 211.5H1981.8V218.1H1967.8zM2023.7 211.5H2037.7V218.1H2023.7zM1723.0 218.1H1730.0V224.7H1723.0zM1793.0 218.1H1807.0V224.7H1793.0zM1967.8 218.1H1988.8V224.7H1967.8zM2016.7 218.1H2037.7V224.7H2016.7zM1723.0 224.7H1737.0V231.3H1723.0zM1793.0 224.7H1800.0V231.3H1793.0zM1974.8 224.7H2030.7V231.3H1974.8zM1730.0 231.3H1744.0V237.9H1730.0zM1786.0 231.3H1800.0V237.9H1786.0zM1981.8 231.3H2023.7V237.9H1981.8zM1737.0 237.9H1751.0V244.5H1737.0zM1779.0 237.9H1793.0V244.5H1779.0zM1988.8 237.9H2009.8V244.5H1988.8zM1744.0 244.5H1786.0V251.2H1744.0zM1751.0 251.2H1779.0V257.8H1751.0zM1876.9 257.8H1890.9V264.4H1876.9zM1862.9 264.4H1904.9V271.0H1862.9zM1862.9 271.0H1904.9V277.6H1862.9zM1855.9 277.6H1876.9V284.2H1855.9zM1890.9 277.6H1911.9V284.2H1890.9zM1855.9 284.2H1876.9V290.9H1855.9zM1890.9 284.2H1911.9V290.9H1890.9zM1855.9 290.9H1869.9V297.5H1855.9zM1897.9 290.9H1911.9V297.5H1897.9zM1855.9 297.5H1876.9V304.1H1855.9zM1890.9 297.5H1911.9V304.1H1890.9zM1855.9 304.1H1911.9V310.7H1855.9zM1862.9 310.7H1904.9V317.3H1862.9zM1862.9 317.3H1904.9V323.9H1862.9zM1869.9 323.9H1897.9V330.6H1869.9zM1751.0 330.6H1779.0V337.2H1751.0zM1744.0 337.2H1786.0V343.8H1744.0zM1737.0 343.8H1786.0V350.4H1737.0zM1737.0 350.4H1758.0V357.0H1737.0zM1772.0 350.4H1793.0V357.0H1772.0zM1995.8 350.4H2002.8V357.0H1995.8zM1730.0 357.0H1751.0V363.6H1730.0zM1779.0 357.0H1793.0V363.6H1779.0zM1988.8 357.0H2016.7V363.6H1988.8zM1730.0 363.6H1744.0V370.3H1730.0zM1786.0 363.6H1800.0V370.3H1786.0zM1981.8 363.6H2016.7V370.3H1981.8zM1730.0 370.3H1744.0V376.9H1730.0zM1786.0 370.3H1800.0V376.9H1786.0zM1981.8 370.3H2016.7V376.9H1981.8zM1730.0 376.9H1744.0V383.5H1730.0zM1786.0 376.9H1800.0V383.5H1786.0zM1981.8 376.9H2016.7V383.5H1981.8zM1730.0 383.5H1751.0V390.1H1730.0zM1779.0 383.5H1793.0V390.1H1779.0zM1988.8 383.5H2009.8V390.1H1988.8zM1737.0 390.1H1758.0V396.7H1737.0zM1772.0 390.1H1793.0V396.7H1772.0zM1744.0 396.7H1786.0V403.3H1744.0zM1751.0 403.3H1779.0V410.0H1751.0zM1869.9 410.0H1897.9V416.6H1869.9zM1855.9 416.6H1911.9V423.2H1855.9zM1848.9 423.2H1862.9V429.8H1848.9zM1904.9 423.2H1918.8V429.8H1904.9zM1452.3 429.8H1492.3V436.4H1452.3zM1848.9 429.8H1855.9V436.4H1848.9zM1911.9 429.8H1925.8V436.4H1911.9zM1452.3 436.4H1471.3V443.0H1452.3zM1478.3 436.4H1506.3V443.0H1478.3zM1841.9 436.4H1848.9V443.0H1841.9zM1918.8 436.4H1925.8V443.0H1918.8zM1499.3 443.0H1513.3V449.7H1499.3zM1639.1 443.0H1674.1V449.7H1639.1zM1834.9 443.0H1841.9V449.7H1834.9zM1925.8 443.0H1932.8V449.7H1925.8zM1506.3 449.7H1520.2V456.3H1506.3zM1625.1 449.7H1681.1V456.3H1625.1zM1834.9 449.7H1841.9V456.3H1834.9zM1925.8 449.7H1939.8V456.3H1925.8zM1513.3 456.3H1527.2V462.9H1513.3zM1618.1 456.3H1646.1V462.9H1618.1zM1667.1 456.3H1688.1V462.9H1667.1zM1827.9 456.3H1834.9V462.9H1827.9zM1932.8 456.3H1939.8V462.9H1932.8zM2086.7 456.3H2107.7V462.9H2086.7zM1520.2 462.9H1534.2V469.5H1520.2zM1611.2 462.9H1639.1V469.5H1611.2zM1674.1 462.9H1695.1V469.5H1674.1zM1827.9 462.9H1834.9V469.5H1827.9zM1932.8 462.9H1946.8V469.5H1932.8zM2072.7 462.9H2121.6V469.5H2072.7zM1520.2 469.5H1534.2V476.1H1520.2zM1611.2 469.5H1632.1V476.1H1611.2zM1681.1 469.5H1695.1V476.1H1681.1zM1827.9 469.5H1834.9V476.1H1827.9zM1939.8 469.5H1946.8V476.1H1939.8zM2072.7 469.5H2121.6V476.1H2072.7zM1520.2 476.1H1534.2V482.7H1520.2zM1611.2 476.1H1632.1V482.7H1611.2zM1681.1 476.1H1695.1V482.7H1681.1zM1827.9 476.1H1834.9V482.7H1827.9zM1939.8 476.1H1946.8V482.7H1939.8zM2072.7 476.1H2121.6V482.7H2072.7zM1520.2 482.7H1534.2V489.4H1520.2zM1611.2 482.7H1639.1V489.4H1611.2zM1674.1 482.7H1695.1V489.4H1674.1zM1827.9 482.7H1834.9V489.4H1827.9zM1932.8 482.7H1946.8V489.4H1932.8zM2072.7 482.7H2121.6V489.4H2072.7zM1513.3 489.4H1527.2V496.0H1513.3zM1618.1 489.4H1646.1V496.0H1618.1zM1667.1 489.4H1688.1V496.0H1667.1zM1827.9 489.4H1834.9V496.0H1827.9zM1932.8 489.4H1939.8V496.0H1932.8zM2086.7 489.4H2107.7V496.0H2086.7zM1506.3 496.0H1520.2V502.6H1506.3zM1632.1 496.0H1681.1V502.6H1632.1zM1834.9 496.0H1841.9V502.6H1834.9zM1925.8 496.0H1939.8V502.6H1925.8zM1492.3 502.6H1513.3V509.2H1492.3zM1646.1 502.6H1667.1V509.2H1646.1zM1834.9 502.6H1848.9V509.2H1834.9zM1925.8 502.6H1932.8V509.2H1925.8zM1452.3 509.2H1499.3V515.8H1452.3zM1841.9 509.2H1855.9V515.8H1841.9zM1918.8 509.2H1925.8V515.8H1918.8zM1471.3 515.8H1478.3V522.4H1471.3zM1848.9 515.8H1862.9V522.4H1848.9zM1904.9 515.8H1918.8V522.4H1904.9zM1855.9 522.4H1911.9V529.1H1855.9zM1876.9 529.1H1890.9V535.7H1876.9zM1744.0 535.7H1786.0V542.3H1744.0zM1730.0 542.3H1744.0V548.9H1730.0zM1786.0 542.3H1800.0V548.9H1786.0zM1981.8 542.3H2023.7V548.9H1981.8zM1723.0 548.9H1730.0V555.5H1723.0zM1793.0 548.9H1807.0V555.5H1793.0zM1967.8 548.9H1988.8V555.5H1967.8zM2016.7 548.9H2037.7V555.5H2016.7zM1709.1 555.5H1723.0V562.2H1709.1zM1800.0 555.5H1813.9V562.2H1800.0zM1960.8 555.5H1974.8V562.2H1960.8zM2030.7 555.5H2044.7V562.2H2030.7zM2156.6 555.5H2175.6V562.2H2156.6zM1555.2 562.2H1590.2V568.8H1555.2zM1702.1 562.2H1716.0V568.8H1702.1zM1807.0 562.2H1820.9V568.8H1807.0zM1953.8 562.2H1967.8V568.8H1953.8zM2037.7 562.2H2058.7V568.8H2037.7zM2142.6 562.2H2175.6V568.8H2142.6zM1541.2 568.8H1604.2V575.4H1541.2zM1702.1 568.8H1709.1V575.4H1702.1zM1813.9 568.8H1820.9V575.4H1813.9zM1946.8 568.8H1960.8V575.4H1946.8zM2044.7 568.8H2065.7V575.4H2044.7zM2128.6 568.8H2156.6V575.4H2128.6zM1541.2 575.4H1569.2V582.0H1541.2zM1576.2 575.4H1611.2V582.0H1576.2zM1695.1 575.4H1709.1V582.0H1695.1zM1813.9 575.4H1820.9V582.0H1813.9zM1946.8 575.4H1953.8V582.0H1946.8zM2051.7 575.4H2072.7V582.0H2051.7zM2121.6 575.4H2149.6V582.0H2121.6zM1534.2 582.0H1555.2V588.6H1534.2zM1583.2 582.0H1611.2V588.6H1583.2zM1695.1 582.0H1709.1V588.6H1695.1zM1813.9 582.0H1827.9V588.6H1813.9zM1946.8 582.0H1953.8V588.6H1946.8zM2051.7 582.0H2072.7V588.6H2051.7zM2121.6 582.0H2142.6V588.6H2121.6zM1534.2 588.6H1555.2V595.2H1534.2zM1583.2 588.6H1611.2V595.2H1583.2zM1695.1 588.6H1709.1V595.2H1695.1zM1813.9 588.6H1827.9V595.2H1813.9zM1946.8 588.6H1953.8V595.2H1946.8zM2051.7 588.6H2072.7V595.2H2051.7zM2121.6 588.6H2142.6V595.2H2121.6zM1541.2 595.2H1569.2V601.9H1541.2zM1576.2 595.2H1611.2V601.9H1576.2zM1695.1 595.2H1709.1V601.9H1695.1zM1813.9 595.2H1820.9V601.9H1813.9zM1946.8 595.2H1953.8V601.9H1946.8zM2051.7 595.2H2072.7V601.9H2051.7zM2121.6 595.2H2142.6V601.9H2121.6zM1541.2 601.9H1604.2V608.5H1541.2zM1702.1 601.9H1709.1V608.5H1702.1zM1813.9 601.9H1820.9V608.5H1813.9zM1946.8 601.9H1960.8V608.5H1946.8zM2044.7 601.9H2065.7V608.5H2044.7zM2128.6 601.9H2149.6V608.5H2128.6zM1555.2 608.5H1590.2V615.1H1555.2zM1702.1 608.5H1716.0V615.1H1702.1zM1807.0 608.5H1820.9V615.1H1807.0zM1953.8 608.5H1967.8V615.1H1953.8zM2037.7 608.5H2058.7V615.1H2037.7zM2142.6 608.5H2175.6V615.1H2142.6zM1709.1 615.1H1723.0V621.7H1709.1zM1807.0 615.1H1813.9V621.7H1807.0zM1960.8 615.1H1974.8V621.7H1960.8zM2030.7 615.1H2044.7V621.7H2030.7zM2149.6 615.1H2175.6V621.7H2149.6zM1716.0 621.7H1730.0V628.3H1716.0zM1800.0 621.7H1807.0V628.3H1800.0zM1967.8 621.7H1981.8V628.3H1967.8zM2016.7 621.7H2037.7V628.3H2016.7zM1730.0 628.3H1744.0V634.9H1730.0zM1786.0 628.3H1800.0V634.9H1786.0zM1974.8 628.3H2023.7V634.9H1974.8zM1737.0 634.9H1758.0V641.6H1737.0zM1772.0 634.9H1793.0V641.6H1772.0zM1751.0 641.6H1779.0V648.2H1751.0zM1862.9 648.2H1904.9V654.8H1862.9zM1855.9 654.8H1869.9V661.4H1855.9zM1897.9 654.8H1911.9V661.4H1897.9zM1452.3 661.4H1485.3V668.0H1452.3zM1848.9 661.4H1862.9V668.0H1848.9zM1904.9 661.4H1918.8V668.0H1904.9zM1452.3 668.0H1499.3V674.6H1452.3zM1841.9 668.0H1855.9V674.6H1841.9zM1911.9 668.0H1925.8V674.6H1911.9zM1485.3 674.6H1506.3V681.3H1485.3zM1841.9 674.6H1848.9V681.3H1841.9zM1918.8 674.6H1932.8V681.3H1918.8zM1492.3 681.3H1513.3V687.9H1492.3zM1646.1 681.3H1667.1V687.9H1646.1zM1834.9 681.3H1848.9V687.9H1834.9zM1925.8 681.3H1932.8V687.9H1925.8zM1499.3 687.9H1520.2V694.5H1499.3zM1639.1 687.9H1674.1V694.5H1639.1zM1834.9 687.9H1841.9V694.5H1834.9zM1925.8 687.9H1932.8V694.5H1925.8zM1499.3 694.5H1520.2V701.1H1499.3zM1632.1 694.5H1674.1V701.1H1632.1zM1834.9 694.5H1841.9V701.1H1834.9zM1925.8 694.5H1932.8V701.1H1925.8zM1499.3 701.1H1520.2V707.7H1499.3zM1639.1 701.1H1674.1V707.7H1639.1zM1834.9 701.1H1841.9V707.7H1834.9zM1925.8 701.1H1932.8V707.7H1925.8zM1499.3 707.7H1513.3V714.3H1499.3zM1639.1 707.7H1667.1V714.3H1639.1zM1834.9 707.7H1841.9V714.3H1834.9zM1925.8 707.7H1932.8V714.3H1925.8zM1492.3 714.3H1513.3V721.0H1492.3zM1834.9 714.3H1848.9V721.0H1834.9zM1918.8 714.3H1932.8V721.0H1918.8zM1452.3 721.0H1506.3V727.6H1452.3zM1841.9 721.0H1848.9V727.6H1841.9zM1918.8 721.0H1925.8V727.6H1918.8zM1452.3 727.6H1499.3V734.2H1452.3zM1841.9 727.6H1855.9V734.2H1841.9zM1911.9 727.6H1925.8V734.2H1911.9zM1452.3 734.2H1485.3V740.8H1452.3zM1848.9 734.2H1862.9V740.8H1848.9zM1904.9 734.2H1918.8V740.8H1904.9zM1855.9 740.8H1869.9V747.4H1855.9zM1897.9 740.8H1911.9V747.4H1897.9zM1855.9 747.4H1911.9V754.0H1855.9zM1862.9 754.0H1904.9V760.7H1862.9zM1869.9 760.7H1897.9V767.3H1869.9zM1751.0 767.3H1779.0V773.9H1751.0zM1751.0 773.9H1779.0V780.5H1751.0zM1744.0 780.5H1786.0V787.1H1744.0zM1744.0 787.1H1786.0V793.7H1744.0zM1744.0 793.7H1786.0V800.4H1744.0zM1751.0 800.4H1779.0V807.0H1751.0zM1751.0 807.0H1779.0V813.6H1751.0zM1869.9 813.6H1897.9V820.2H1869.9zM1862.9 820.2H1904.9V826.8H1862.9zM1862.9 826.8H1904.9V833.4H1862.9zM1855.9 833.4H1876.9V840.1H1855.9zM1897.9 833.4H1911.9V840.1H1897.9zM1855.9 840.1H1869.9V846.7H1855.9zM1904.9 840.1H1918.8V846.7H1904.9zM1471.3 846.7H1478.3V865.3H1471.3zM1848.9 846.7H1862.9V865.3H1848.9zM1904.9 846.7H1918.8V865.3H1904.9z"/>
<path fill="#FFDB00" d="M1730.0 179.6H1744.0V198.2H1730.0zM1786.0 179.6H1800.0V198.2H1786.0zM1974.8 179.6H2023.7V198.2H1974.8zM1723.0 198.2H1737.0V204.8H1723.0zM1786.0 198.2H1800.0V204.8H1786.0zM1974.8 198.2H2023.7V204.8H1974.8zM1730.0 204.8H1744.0V211.5H1730.0zM1786.0 204.8H1800.0V211.5H1786.0zM1974.8 204.8H2023.7V211.5H1974.8zM1730.0 211.5H1744.0V218.1H1730.0zM1786.0 211.5H1800.0V218.1H1786.0zM1981.8 211.5H2023.7V218.1H1981.8zM1730.0 218.1H1751.0V224.7H1730.0zM1779.0 218.1H1793.0V224.7H1779.0zM1988.8 218.1H2016.7V224.7H1988.8zM1737.0 224.7H1758.0V231.3H1737.0zM1772.0 224.7H1793.0V231.3H1772.0zM1744.0 231.3H1786.0V237.9H1744.0zM1751.0 237.9H1779.0V244.5H1751.0zM1876.9 277.6H1890.9V284.2H1876.9zM1876.9 284.2H1890.9V290.9H1876.9zM1869.9 290.9H1897.9V297.5H1869.9zM1876.9 297.5H1890.9V304.1H1876.9zM1758.0 350.4H1772.0V357.0H1758.0zM1751.0 357.0H1779.0V363.6H1751.0zM1744.0 363.6H1786.0V370.3H1744.0zM1744.0 370.3H1786.0V376.9H1744.0zM1744.0 376.9H1786.0V383.5H1744.0zM1751.0 383.5H1779.0V390.1H1751.0zM1758.0 390.1H1772.0V396.7H1758.0zM1862.9 423.2H1904.9V429.8H1862.9zM1855.9 429.8H1876.9V436.4H1855.9zM1890.9 429.8H1911.9V436.4H1890.9zM1471.3 436.4H1478.3V443.0H1471.3zM1848.9 436.4H1862.9V443.0H1848.9zM1904.9 436.4H1918.8V443.0H1904.9zM1452.3 443.0H1499.3V449.7H1452.3zM1841.9 443.0H1855.9V449.7H1841.9zM1911.9 443.0H1925.8V449.7H1911.9zM1452.3 449.7H1471.3V456.3H1452.3zM1478.3 449.7H1506.3V456.3H1478.3zM1841.9 449.7H1848.9V456.3H1841.9zM1918.8 449.7H1925.8V456.3H1918.8zM1492.3 456.3H1513.3V462.9H1492.3zM1646.1 456.3H1667.1V462.9H1646.1zM1834.9 456.3H1848.9V462.9H1834.9zM1925.8 456.3H1932.8V462.9H1925.8zM1499.3 462.9H1520.2V469.5H1499.3zM1639.1 462.9H1674.1V469.5H1639.1zM1834.9 462.9H1841.9V469.5H1834.9zM1925.8 462.9H1932.8V469.5H1925.8zM1506.3 469.5H1520.2V476.1H1506.3zM1632.1 469.5H1681.1V476.1H1632.1zM1834.9 469.5H1841.9V476.1H1834.9zM1925.8 469.5H1939.8V476.1H1925.8zM1506.3 476.1H1520.2V482.7H1506.3zM1632.1 476.1H1681.1V482.7H1632.1zM1834.9 476.1H1841.9V482.7H1834.9zM1925.8 476.1H1939.8V482.7H1925.8zM1499.3 482.7H1520.2V489.4H1499.3zM1639.1 482.7H1674.1V489.4H1639.1zM1834.9 482.7H1841.9V489.4H1834.9zM1925.8 482.7H1932.8V489.4H1925.8zM1492.3 489.4H1513.3V496.0H1492.3zM1646.1 489.4H1667.1V496.0H1646.1zM1834.9 489.4H1848.9V496.0H1834.9zM1925.8 489.4H1932.8V496.0H1925.8zM1452.3 496.0H1506.3V502.6H1452.3zM1841.9 496.0H1848.9V502.6H1841.9zM1918.8 496.0H1925.8V502.6H1918.8zM1452.3 502.6H1492.3V509.2H1452.3zM1848.9 502.6H1855.9V509.2H1848.9zM1911.9 502.6H1925.8V509.2H1911.9zM1855.9 509.2H1869.9V515.8H1855.9zM1904.9 509.2H1918.8V515.8H1904.9zM1862.9 515.8H1904.9V522.4H1862.9zM1744.0 542.3H1786.0V548.9H1744.0zM1730.0 548.9H1751.0V555.5H1730.0zM1779.0 548.9H1793.0V555.5H1779.0zM1988.8 548.9H2016.7V555.5H1988.8zM1723.0 555.5H1737.0V562.2H1723.0zM1793.0 555.5H1800.0V562.2H1793.0zM1974.8 555.5H2030.7V562.2H1974.8zM1716.0 562.2H1730.0V568.8H1716.0zM1800.0 562.2H1807.0V568.8H1800.0zM1967.8 562.2H1981.8V568.8H1967.8zM2023.7 562.2H2037.7V568.8H2023.7zM1709.1 568.8H1723.0V575.4H1709.1zM1800.0 568.8H1813.9V575.4H1800.0zM1960.8 568.8H1974.8V575.4H1960.8zM2030.7 568.8H2044.7V575.4H2030.7zM2156.6 568.8H2175.6V575.4H2156.6zM1569.2 575.4H1576.2V582.0H1569.2zM1709.1 575.4H1723.0V582.0H1709.1zM1807.0 575.4H1813.9V582.0H1807.0zM1953.8 575.4H1967.8V582.0H1953.8zM2037.7 575.4H2051.7V582.0H2037.7zM2149.6 575.4H2175.6V582.0H2149.6zM1555.2 582.0H1583.2V588.6H1555.2zM1709.1 582.0H1716.0V588.6H1709.1zM1807.0 582.0H1813.9V588.6H1807.0zM1953.8 582.0H1967.8V588.6H1953.8zM2037.7 582.0H2051.7V588.6H2037.7zM2142.6 582.0H2175.6V588.6H2142.6zM1555.2 588.6H1583.2V595.2H1555.2zM1709.1 588.6H1716.0V595.2H1709.1zM1807.0 588.6H1813.9V595.2H1807.0zM1953.8 588.6H1967.8V595.2H1953.8zM2037.7 588.6H2051.7V595.2H2037.7zM2142.6 588.6H2175.6V595.2H2142.6zM1569.2 595.2H1576.2V601.9H1569.2zM1709.1 595.2H1723.0V601.9H1709.1zM1807.0 595.2H1813.9V601.9H1807.0zM1953.8 595.2H1967.8V601.9H1953.8zM2037.7 595.2H2051.7V601.9H2037.7zM2142.6 595.2H2175.6V601.9H2142.6zM1709.1 601.9H1723.0V608.5H1709.1zM1807.0 601.9H1813.9V608.5H1807.0zM1960.8 601.9H1974.8V608.5H1960.8zM2030.7 601.9H2044.7V608.5H2030.7zM2149.6 601.9H2175.6V608.5H2149.6zM1716.0 608.5H1730.0V615.1H1716.0zM1800.0 608.5H1807.0V615.1H1800.0zM1967.8 608.5H1981.8V615.1H1967.8zM2023.7 608.5H2037.7V615.1H2023.7zM1723.0 615.1H1737.0V621.7H1723.0zM1793.0 615.1H1807.0V621.7H1793.0zM1974.8 615.1H1995.8V621.7H1974.8zM2002.8 615.1H2030.7V621.7H2002.8zM1730.0 621.7H1744.0V628.3H1730.0zM1786.0 621.7H1800.0V628.3H1786.0zM1981.8 621.7H2016.7V628.3H1981.8zM1744.0 628.3H1786.0V634.9H1744.0zM1758.0 634.9H1772.0V641.6H1758.0zM1869.9 654.8H1897.9V661.4H1869.9zM1862.9 661.4H1904.9V668.0H1862.9zM1855.9 668.0H1869.9V674.6H1855.9zM1897.9 668.0H1911.9V674.6H1897.9zM1452.3 674.6H1485.3V681.3H1452.3zM1848.9 674.6H1862.9V681.3H1848.9zM1904.9 674.6H1918.8V681.3H1904.9zM1452.3 681.3H1492.3V687.9H1452.3zM1848.9 681.3H1855.9V687.9H1848.9zM1911.9 681.3H1925.8V687.9H1911.9zM1452.3 687.9H1499.3V694.5H1452.3zM1841.9 687.9H1855.9V694.5H1841.9zM1911.9 687.9H1925.8V694.5H1911.9zM1452.3 694.5H1499.3V701.1H1452.3zM1841.9 694.5H1855.9V701.1H1841.9zM1918.8 694.5H1925.8V701.1H1918.8zM1452.3 701.1H1499.3V707.7H1452.3zM1841.9 701.1H1855.9V707.7H1841.9zM1911.9 701.1H1925.8V707.7H1911.9zM1452.3 707.7H1499.3V714.3H1452.3zM1841.9 707.7H1855.9V714.3H1841.9zM1911.9 707.7H1925.8V714.3H1911.9zM1452.3 714.3H1492.3V721.0H1452.3zM1848.9 714.3H1855.9V721.0H1848.9zM1911.9 714.3H1918.8V721.0H1911.9zM1848.9 721.0H1862.9V727.6H1848.9zM1904.9 721.0H1918.8V727.6H1904.9zM1855.9 727.6H1869.9V734.2H1855.9zM1897.9 727.6H1911.9V734.2H1897.9zM1862.9 734.2H1904.9V740.8H1862.9zM1869.9 740.8H1897.9V747.4H1869.9zM1876.9 833.4H1897.9V840.1H1876.9zM1869.9 840.1H1904.9V846.7H1869.9zM1862.9 846.7H1904.9V865.3H1862.9z"/>
<path fill="#FFFF00" d="M1744.0 179.6H1786.0V198.2H1744.0zM1737.0 198.2H1786.0V204.8H1737.0zM1744.0 204.8H1786.0V211.5H1744.0zM1744.0 211.5H1786.0V218.1H1744.0zM1751.0 218.1H1779.0V224.7H1751.0zM1758.0 224.7H1772.0V231.3H1758.0zM1876.9 429.8H1890.9V436.4H1876.9zM1862.9 436.4H1904.9V443.0H1862.9zM1855.9 443.0H1869.9V449.7H1855.9zM1897.9 443.0H1911.9V449.7H1897.9zM1471.3 449.7H1478.3V456.3H1471.3zM1848.9 449.7H1862.9V456.3H1848.9zM1904.9 449.7H1918.8V456.3H1904.9zM1452.3 456.3H1492.3V462.9H1452.3zM1848.9 456.3H1855.9V462.9H1848.9zM1911.9 456.3H1925.8V462.9H1911.9zM1452.3 462.9H1499.3V469.5H1452.3zM1841.9 462.9H1855.9V469.5H1841.9zM1911.9 462.9H1925.8V469.5H1911.9zM1452.3 469.5H1506.3V476.1H1452.3zM1841.9 469.5H1848.9V476.1H1841.9zM1918.8 469.5H1925.8V476.1H1918.8zM1452.3 476.1H1506.3V482.7H1452.3zM1841.9 476.1H1848.9V482.7H1841.9zM1918.8 476.1H1925.8V482.7H1918.8zM1452.3 482.7H1499.3V489.4H1452.3zM1841.9 482.7H1855.9V489.4H1841.9zM1911.9 482.7H1925.8V489.4H1911.9zM1452.3 489.4H1492.3V496.0H1452.3zM1848.9 489.4H1855.9V496.0H1848.9zM1911.9 489.4H1925.8V496.0H1911.9zM1848.9 496.0H1862.9V502.6H1848.9zM1904.9 496.0H1918.8V502.6H1904.9zM1855.9 502.6H1876.9V509.2H1855.9zM1890.9 502.6H1911.9V509.2H1890.9zM1869.9 509.2H1904.9V515.8H1869.9zM1751.0 548.9H1779.0V555.5H1751.0zM1737.0 555.5H1758.0V562.2H1737.0zM1772.0 555.5H1793.0V562.2H1772.0zM1730.0 562.2H1744.0V568.8H1730.0zM1786.0 562.2H1800.0V568.8H1786.0zM1981.8 562.2H2023.7V568.8H1981.8zM1723.0 568.8H1737.0V575.4H1723.0zM1793.0 568.8H1800.0V575.4H1793.0zM1974.8 568.8H2030.7V575.4H1974.8zM1723.0 575.4H1730.0V582.0H1723.0zM1793.0 575.4H1807.0V582.0H1793.0zM1967.8 575.4H1988.8V582.0H1967.8zM2016.7 575.4H2037.7V582.0H2016.7zM1716.0 582.0H1730.0V588.6H1716.0zM1800.0 582.0H1807.0V588.6H1800.0zM1967.8 582.0H1981.8V588.6H1967.8zM2016.7 582.0H2037.7V588.6H2016.7zM1716.0 588.6H1730.0V595.2H1716.0zM1800.0 588.6H1807.0V595.2H1800.0zM1967.8 588.6H1981.8V595.2H1967.8zM2016.7 588.6H2037.7V595.2H2016.7zM1723.0 595.2H1730.0V601.9H1723.0zM1793.0 595.2H1807.0V601.9H1793.0zM1967.8 595.2H1988.8V601.9H1967.8zM2016.7 595.2H2037.7V601.9H2016.7zM1723.0 601.9H1737.0V608.5H1723.0zM1793.0 601.9H1807.0V608.5H1793.0zM1974.8 601.9H2030.7V608.5H1974.8zM1730.0 608.5H1744.0V615.1H1730.0zM1786.0 608.5H1800.0V615.1H1786.0zM1981.8 608.5H2023.7V615.1H1981.8zM1737.0 615.1H1758.0V621.7H1737.0zM1772.0 615.1H1793.0V621.7H1772.0zM1995.8 615.1H2002.8V621.7H1995.8zM1744.0 621.7H1786.0V628.3H1744.0zM1869.9 668.0H1897.9V674.6H1869.9zM1862.9 674.6H1904.9V681.3H1862.9zM1855.9 681.3H1876.9V687.9H1855.9zM1890.9 681.3H1911.9V687.9H1890.9zM1855.9 687.9H1869.9V694.5H1855.9zM1897.9 687.9H1911.9V694.5H1897.9zM1855.9 694.5H1869.9V701.1H1855.9zM1897.9 694.5H1918.8V701.1H1897.9zM1855.9 701.1H1869.9V707.7H1855.9zM1897.9 701.1H1911.9V707.7H1897.9zM1855.9 707.7H1869.9V714.3H1855.9zM1897.9 707.7H1911.9V714.3H1897.9zM1855.9 714.3H1911.9V721.0H1855.9zM1862.9 721.0H1904.9V727.6H1862.9zM1869.9 727.6H1897.9V734.2H1869.9z"/>
<path fill="#FFFF2A" d="M1869.9 443.0H1897.9V449.7H1869.9zM1862.9 449.7H1904.9V456.3H1862.9zM1855.9 456.3H1876.9V462.9H1855.9zM1890.9 456.3H1911.9V462.9H1890.9zM1855.9 462.9H1869.9V469.5H1855.9zM1897.9 462.9H1911.9V469.5H1897.9zM1848.9 469.5H1862.9V476.1H1848.9zM1904.9 469.5H1918.8V476.1H1904.9zM1848.9 476.1H1862.9V482.7H1848.9zM1904.9 476.1H1918.8V482.7H1904.9zM1855.9 482.7H1869.9V489.4H1855.9zM1897.9 482.7H1911.9V489.4H1897.9zM1855.9 489.4H1876.9V496.0H1855.9zM1890.9 489.4H1911.9V496.0H1890.9zM1862.9 496.0H1904.9V502.6H1862.9zM1876.9 502.6H1890.9V509.2H1876.9zM1758.0 555.5H1772.0V562.2H1758.0zM1744.0 562.2H1786.0V568.8H1744.0zM1737.0 568.8H1758.0V575.4H1737.0zM1772.0 568.8H1793.0V575.4H1772.0zM1730.0 575.4H1751.0V582.0H1730.0zM1779.0 575.4H1793.0V582.0H1779.0zM1988.8 575.4H2016.7V582.0H1988.8zM1730.0 582.0H1744.0V588.6H1730.0zM1786.0 582.0H1800.0V588.6H1786.0zM1981.8 582.0H2016.7V588.6H1981.8zM1730.0 588.6H1744.0V595.2H1730.0zM1786.0 588.6H1800.0V595.2H1786.0zM1981.8 588.6H2016.7V595.2H1981.8zM1730.0 595.2H1751.0V601.9H1730.0zM1779.0 595.2H1793.0V601.9H1779.0zM1988.8 595.2H2016.7V601.9H1988.8zM1737.0 601.9H1758.0V608.5H1737.0zM1772.0 601.9H1793.0V608.5H1772.0zM1744.0 608.5H1786.0V615.1H1744.0zM1758.0 615.1H1772.0V621.7H1758.0zM1876.9 681.3H1890.9V687.9H1876.9zM1869.9 687.9H1897.9V694.5H1869.9zM1869.9 694.5H1897.9V701.1H1869.9zM1869.9 701.1H1897.9V707.7H1869.9zM1869.9 707.7H1897.9V714.3H1869.9z"/>
<path fill="#FFFFC4" d="M1876.9 456.3H1890.9V462.9H1876.9zM1869.9 462.9H1897.9V469.5H1869.9zM1862.9 469.5H1904.9V476.1H1862.9zM1862.9 476.1H1904.9V482.7H1862.9zM1869.9 482.7H1897.9V489.4H1869.9zM1876.9 489.4H1890.9V496.0H1876.9zM1758.0 568.8H1772.0V575.4H1758.0zM1751.0 575.4H1779.0V582.0H1751.0zM1744.0 582.0H1786.0V588.6H1744.0zM1744.0 588.6H1786.0V595.2H1744.0zM1751.0 595.2H1779.0V601.9H1751.0zM1758.0 601.9H1772.0V608.5H1758.0z"/>
</g></g>
<rect x="1463.8999999999999" y="191.2" width="700.0999999999999" height="662.4999999999999" fill="none" stroke="#3a1a10" stroke-opacity="0.6" stroke-width="2.6"/>
<path d="M1467.9 177.4V190.6M1449.7 194.9H1463.3M1606.4 177.4V190.6M1449.7 325.9H1463.3M1744.8 177.4V190.6M1449.7 456.9H1463.3M1883.3 177.4V190.6M1449.7 588.0H1463.3M2021.7 177.4V190.6M1449.7 719.0H1463.3M2160.2 177.4V190.6M1449.7 850.0H1463.3" stroke="#111" stroke-width="3.4" fill="none"/>
<rect x="2198.3" y="790.96" width="35.0" height="62.94" fill="#FF0000"/>
<rect x="2198.3" y="728.52" width="35.0" height="62.94" fill="#FF2400"/>
<rect x="2198.3" y="666.08" width="35.0" height="62.94" fill="#FF4900"/>
<rect x="2198.3" y="603.64" width="35.0" height="62.94" fill="#FF6D00"/>
<rect x="2198.3" y="541.20" width="35.0" height="62.94" fill="#FF9200"/>
<rect x="2198.3" y="478.76" width="35.0" height="62.94" fill="#FFB600"/>
<rect x="2198.3" y="416.32" width="35.0" height="62.94" fill="#FFDB00"/>
<rect x="2198.3" y="353.88" width="35.0" height="62.94" fill="#FFFF00"/>
<rect x="2198.3" y="291.44" width="35.0" height="62.94" fill="#FFFF2A"/>
<rect x="2198.3" y="229.00" width="35.0" height="62.94" fill="#FFFFC4"/>
<rect x="2198.3" y="229.0" width="35.0" height="624.4" fill="none" stroke="#333" stroke-opacity="0.6" stroke-width="2.6"/>
<path d="M2232.0 821.6V294.1M2232.0 819.9H2265.4M2232.0 732.5H2265.4M2232.0 645.2H2265.4M2232.0 557.8H2265.4M2232.0 470.5H2265.4M2232.0 383.2H2265.4M2232.0 295.8H2265.4" stroke="#111" stroke-width="3.6" fill="none"/>
<text font-family='"Liberation Sans", sans-serif' font-size="57.63" transform="translate(2295.09 843.79) scale(0.9584 1.0000)">0.0</text>
<text font-family='"Liberation Sans", sans-serif' font-size="57.63" transform="translate(2295.09 756.45) scale(0.9603 1.0000)">0.5</text>
<text font-family='"Liberation Sans", sans-serif' font-size="57.63" transform="translate(2293.04 669.10) scale(0.9847 1.0000)">1.0</text>
<text font-family='"Liberation Sans", sans-serif' font-size="57.63" transform="translate(2293.04 581.75) scale(0.9866 1.0000)">1.5</text>
<text font-family='"Liberation Sans", sans-serif' font-size="57.63" transform="translate(2294.52 494.40) scale(0.9658 1.0000)">2.0</text>
<text font-family='"Liberation Sans", sans-serif' font-size="57.63" transform="translate(2294.51 407.05) scale(0.9676 1.0000)">2.5</text>
<text font-family='"Liberation Sans", sans-serif' font-size="57.63" transform="translate(2295.23 319.70) scale(0.9566 1.0000)">3.0</text>
<text font-family='"Liberation Sans", sans-serif' font-size="103.86" font-weight="bold" transform="translate(1323.42 1076.20) scale(0.9094 1.0000)">d</text>
<text font-family='"Liberation Sans", sans-serif' font-size="70.98" transform="translate(1568.22 1027.50) scale(0.9871 1.0000)">Extracted Local</text>
<text font-family='"Liberation Sans", sans-serif' font-size="71.42" transform="translate(1658.70 1122.50) scale(0.9987 1.0000)">Topology</text>
<g clip-path="url(#clipd)"><g filter="url(#bl2)">
<rect x="1454.5" y="1151.7" width="723.3000000000002" height="683.5999999999999" fill="#000"/>
<path fill="#FF5570" d="M1652.0 1151.7H1659.2V1170.4H1652.0zM2101.6 1151.7H2108.7V1170.4H2101.6zM1880.4 1170.4H1887.5V1177.2H1880.4zM1880.4 1177.2H1887.5V1183.9H1880.4zM1873.2 1183.9H1887.5V1190.6H1873.2zM1866.1 1190.6H1887.5V1197.4H1866.1zM1923.2 1190.6H1930.3V1197.4H1923.2zM1866.1 1197.4H1887.5V1204.1H1866.1zM1644.9 1204.1H1652.0V1210.8H1644.9zM1866.1 1204.1H1887.5V1210.8H1866.1zM1509.3 1210.8H1516.5V1217.5H1509.3zM1630.6 1210.8H1652.0V1217.5H1630.6zM1866.1 1210.8H1887.5V1217.5H1866.1zM1516.5 1217.5H1523.6V1224.3H1516.5zM1623.5 1217.5H1652.0V1224.3H1623.5zM1680.6 1217.5H1687.7V1224.3H1680.6zM1866.1 1217.5H1887.5V1224.3H1866.1zM1523.6 1224.3H1530.7V1231.0H1523.6zM1609.2 1224.3H1652.0V1231.0H1609.2zM1687.7 1224.3H1694.8V1231.0H1687.7zM1866.1 1224.3H1887.5V1231.0H1866.1zM1944.6 1224.3H1951.7V1231.0H1944.6zM2080.2 1224.3H2101.6V1231.0H2080.2zM1530.7 1231.0H1537.9V1237.7H1530.7zM1602.1 1231.0H1652.0V1237.7H1602.1zM1866.1 1231.0H1887.5V1237.7H1866.1zM2073.0 1231.0H2101.6V1237.7H2073.0zM2130.1 1231.0H2137.3V1237.7H2130.1zM1537.9 1237.7H1545.0V1244.5H1537.9zM1623.5 1237.7H1652.0V1244.5H1623.5zM1873.2 1237.7H1887.5V1244.5H1873.2zM2073.0 1237.7H2101.6V1244.5H2073.0zM1545.0 1244.5H1552.1V1251.2H1545.0zM1630.6 1244.5H1652.0V1251.2H1630.6zM1873.2 1244.5H1887.5V1251.2H1873.2zM2087.3 1244.5H2101.6V1251.2H2087.3zM2144.4 1244.5H2151.5V1251.2H2144.4zM1552.1 1251.2H1559.3V1257.9H1552.1zM1644.9 1251.2H1652.0V1257.9H1644.9zM1880.4 1251.2H1887.5V1257.9H1880.4zM2087.3 1251.2H2101.6V1257.9H2087.3zM1759.1 1264.7H1766.2V1271.4H1759.1zM1559.3 1271.4H1566.4V1278.1H1559.3zM1759.1 1271.4H1766.2V1278.1H1759.1zM1994.5 1271.4H2001.7V1278.1H1994.5zM1552.1 1278.1H1566.4V1284.9H1552.1zM1751.9 1278.1H1766.2V1284.9H1751.9zM1987.4 1278.1H2001.7V1284.9H1987.4zM1545.0 1284.9H1566.4V1291.6H1545.0zM1744.8 1284.9H1766.2V1291.6H1744.8zM1816.2 1284.9H1823.3V1291.6H1816.2zM1987.4 1284.9H2001.7V1291.6H1987.4zM1537.9 1291.6H1566.4V1298.3H1537.9zM1744.8 1291.6H1766.2V1298.3H1744.8zM1987.4 1291.6H2001.7V1298.3H1987.4zM2158.7 1291.6H2177.8V1298.3H2158.7zM1537.9 1298.3H1566.4V1305.0H1537.9zM1744.8 1298.3H1766.2V1305.0H1744.8zM1980.3 1298.3H2001.7V1305.0H1980.3zM2130.1 1298.3H2144.4V1305.0H2130.1zM2151.5 1298.3H2177.8V1305.0H2151.5zM1537.9 1305.0H1566.4V1311.8H1537.9zM1609.2 1305.0H1616.4V1311.8H1609.2zM1744.8 1305.0H1766.2V1311.8H1744.8zM1823.3 1305.0H1830.4V1311.8H1823.3zM1980.3 1305.0H2001.7V1311.8H1980.3zM2115.9 1305.0H2144.4V1311.8H2115.9zM2151.5 1305.0H2177.8V1311.8H2151.5zM1537.9 1311.8H1566.4V1318.5H1537.9zM1616.4 1311.8H1623.5V1318.5H1616.4zM1744.8 1311.8H1766.2V1318.5H1744.8zM1987.4 1311.8H2001.7V1318.5H1987.4zM2101.6 1311.8H2137.3V1318.5H2101.6zM2158.7 1311.8H2177.8V1318.5H2158.7zM1545.0 1318.5H1566.4V1325.2H1545.0zM1623.5 1318.5H1630.6V1325.2H1623.5zM1744.8 1318.5H1766.2V1325.2H1744.8zM1987.4 1318.5H2001.7V1325.2H1987.4zM2101.6 1318.5H2130.1V1325.2H2101.6zM1552.1 1325.2H1566.4V1332.0H1552.1zM1630.6 1325.2H1637.8V1332.0H1630.6zM1751.9 1325.2H1766.2V1332.0H1751.9zM1987.4 1325.2H2001.7V1332.0H1987.4zM2101.6 1325.2H2115.9V1332.0H2101.6zM1552.1 1332.0H1566.4V1338.7H1552.1zM1637.8 1332.0H1644.9V1338.7H1637.8zM1759.1 1332.0H1766.2V1338.7H1759.1zM1994.5 1332.0H2001.7V1338.7H1994.5zM2101.6 1332.0H2108.7V1338.7H2101.6zM1880.4 1345.4H1887.5V1352.2H1880.4zM1644.9 1352.2H1652.0V1358.9H1644.9zM1873.2 1352.2H1887.5V1358.9H1873.2zM1637.8 1358.9H1652.0V1365.6H1637.8zM1873.2 1358.9H1887.5V1365.6H1873.2zM1623.5 1365.6H1652.0V1372.3H1623.5zM1866.1 1365.6H1887.5V1372.3H1866.1zM1937.5 1365.6H1944.6V1372.3H1937.5zM1616.4 1372.3H1652.0V1379.1H1616.4zM1866.1 1372.3H1887.5V1379.1H1866.1zM2094.4 1372.3H2101.6V1379.1H2094.4zM1609.2 1379.1H1652.0V1385.8H1609.2zM1859.0 1379.1H1887.5V1385.8H1859.0zM1944.6 1379.1H1951.7V1385.8H1944.6zM2080.2 1379.1H2101.6V1385.8H2080.2zM1594.9 1385.8H1652.0V1392.5H1594.9zM1859.0 1385.8H1887.5V1392.5H1859.0zM1951.7 1385.8H1958.9V1392.5H1951.7zM2065.9 1385.8H2101.6V1392.5H2065.9zM1566.4 1392.5H1652.0V1399.3H1566.4zM1851.8 1392.5H1887.5V1399.3H1851.8zM1958.9 1392.5H1966.0V1399.3H1958.9zM2058.8 1392.5H2101.6V1399.3H2058.8zM1566.4 1399.3H1652.0V1406.0H1566.4zM1709.1 1399.3H1716.2V1406.0H1709.1zM1851.8 1399.3H1887.5V1406.0H1851.8zM2044.5 1399.3H2101.6V1406.0H2044.5zM1566.4 1406.0H1652.0V1412.7H1566.4zM1716.2 1406.0H1723.4V1412.7H1716.2zM1851.8 1406.0H1887.5V1412.7H1851.8zM2037.4 1406.0H2101.6V1412.7H2037.4zM1566.4 1412.7H1652.0V1419.5H1566.4zM1723.4 1412.7H1730.5V1419.5H1723.4zM1859.0 1412.7H1887.5V1419.5H1859.0zM2023.1 1412.7H2101.6V1419.5H2023.1zM1566.4 1419.5H1652.0V1426.2H1566.4zM1730.5 1419.5H1737.7V1426.2H1730.5zM1859.0 1419.5H1887.5V1426.2H1859.0zM2001.7 1419.5H2101.6V1426.2H2001.7zM1566.4 1426.2H1652.0V1432.9H1566.4zM1737.7 1426.2H1744.8V1432.9H1737.7zM1866.1 1426.2H1887.5V1432.9H1866.1zM2001.7 1426.2H2030.2V1432.9H2001.7zM2065.9 1426.2H2101.6V1432.9H2065.9zM1566.4 1432.9H1587.8V1439.7H1566.4zM1630.6 1432.9H1652.0V1439.7H1630.6zM1744.8 1432.9H1751.9V1439.7H1744.8zM1873.2 1432.9H1887.5V1439.7H1873.2zM2001.7 1432.9H2023.1V1439.7H2001.7zM2080.2 1432.9H2101.6V1439.7H2080.2zM1566.4 1439.7H1580.7V1446.4H1566.4zM1637.8 1439.7H1652.0V1446.4H1637.8zM1751.9 1439.7H1759.1V1446.4H1751.9zM1880.4 1439.7H1887.5V1446.4H1880.4zM2001.7 1439.7H2008.8V1446.4H2001.7zM2087.3 1439.7H2101.6V1446.4H2087.3zM1759.1 1453.1H1766.2V1459.8H1759.1zM1751.9 1459.8H1766.2V1466.6H1751.9zM1744.8 1466.6H1766.2V1473.3H1744.8zM1737.7 1473.3H1766.2V1480.0H1737.7zM1730.5 1480.0H1766.2V1486.8H1730.5zM1980.3 1480.0H2001.7V1486.8H1980.3zM1716.2 1486.8H1766.2V1493.5H1716.2zM1973.1 1486.8H2001.7V1493.5H1973.1zM1709.1 1493.5H1766.2V1500.2H1709.1zM1966.0 1493.5H2001.7V1500.2H1966.0zM2158.7 1493.5H2177.8V1500.2H2158.7zM1545.0 1500.2H1566.4V1507.0H1545.0zM1702.0 1500.2H1766.2V1507.0H1702.0zM1958.9 1500.2H2001.7V1507.0H1958.9zM2144.4 1500.2H2177.8V1507.0H2144.4zM1523.6 1507.0H1566.4V1513.7H1523.6zM1687.7 1507.0H1766.2V1513.7H1687.7zM1823.3 1507.0H1830.4V1513.7H1823.3zM1944.6 1507.0H2001.7V1513.7H1944.6zM2115.9 1507.0H2177.8V1513.7H2115.9zM1516.5 1513.7H1566.4V1520.4H1516.5zM1673.4 1513.7H1766.2V1520.4H1673.4zM1830.4 1513.7H1837.6V1520.4H1830.4zM1937.5 1513.7H2001.7V1520.4H1937.5zM2101.6 1513.7H2177.8V1520.4H2101.6zM1502.2 1520.4H1566.4V1527.2H1502.2zM1652.0 1520.4H1766.2V1527.2H1652.0zM1837.6 1520.4H1844.7V1527.2H1837.6zM1930.3 1520.4H2001.7V1527.2H1930.3zM2101.6 1520.4H2177.8V1527.2H2101.6zM1480.8 1527.2H1566.4V1533.9H1480.8zM1652.0 1527.2H1766.2V1533.9H1652.0zM1844.7 1527.2H1851.8V1533.9H1844.7zM1958.9 1527.2H2001.7V1533.9H1958.9zM2101.6 1527.2H2177.8V1533.9H2101.6zM1454.5 1533.9H1566.4V1540.6H1454.5zM1652.0 1533.9H1702.0V1540.6H1652.0zM1723.4 1533.9H1766.2V1540.6H1723.4zM1851.8 1533.9H1859.0V1540.6H1851.8zM1966.0 1533.9H2001.7V1540.6H1966.0zM2101.6 1533.9H2177.8V1540.6H2101.6zM1454.5 1540.6H1566.4V1547.3H1454.5zM1652.0 1540.6H1687.7V1547.3H1652.0zM1737.7 1540.6H1766.2V1547.3H1737.7zM1859.0 1540.6H1866.1V1547.3H1859.0zM1973.1 1540.6H2001.7V1547.3H1973.1zM2101.6 1540.6H2177.8V1547.3H2101.6zM1454.5 1547.3H1487.9V1554.1H1454.5zM1537.9 1547.3H1566.4V1554.1H1537.9zM1652.0 1547.3H1673.4V1554.1H1652.0zM1744.8 1547.3H1766.2V1554.1H1744.8zM1866.1 1547.3H1873.2V1554.1H1866.1zM1987.4 1547.3H2001.7V1554.1H1987.4zM2101.6 1547.3H2130.1V1554.1H2101.6zM2158.7 1547.3H2177.8V1554.1H2158.7zM1454.5 1554.1H1480.8V1560.8H1454.5zM1552.1 1554.1H1566.4V1560.8H1552.1zM1652.0 1554.1H1659.2V1560.8H1652.0zM1751.9 1554.1H1766.2V1560.8H1751.9zM1873.2 1554.1H1880.4V1560.8H1873.2zM1994.5 1554.1H2001.7V1560.8H1994.5zM2101.6 1554.1H2115.9V1560.8H2101.6zM1880.4 1567.5H1887.5V1574.3H1880.4zM1873.2 1574.3H1887.5V1581.0H1873.2zM1866.1 1581.0H1887.5V1587.7H1866.1zM1859.0 1587.7H1887.5V1594.5H1859.0zM1851.8 1594.5H1887.5V1601.2H1851.8zM1844.7 1601.2H1887.5V1607.9H1844.7zM1644.9 1607.9H1652.0V1614.7H1644.9zM1844.7 1607.9H1887.5V1614.7H1844.7zM1623.5 1614.7H1652.0V1621.4H1623.5zM1844.7 1614.7H1887.5V1621.4H1844.7zM1937.5 1614.7H1944.6V1621.4H1937.5zM1609.2 1621.4H1652.0V1628.1H1609.2zM1844.7 1621.4H1887.5V1628.1H1844.7zM1944.6 1621.4H1951.7V1628.1H1944.6zM2080.2 1621.4H2101.6V1628.1H2080.2zM1587.8 1628.1H1652.0V1634.8H1587.8zM1844.7 1628.1H1887.5V1634.8H1844.7zM1951.7 1628.1H1958.9V1634.8H1951.7zM2065.9 1628.1H2101.6V1634.8H2065.9zM1566.4 1634.8H1652.0V1641.6H1566.4zM1851.8 1634.8H1887.5V1641.6H1851.8zM1958.9 1634.8H1966.0V1641.6H1958.9zM2051.6 1634.8H2101.6V1641.6H2051.6zM1566.4 1641.6H1652.0V1648.3H1566.4zM1859.0 1641.6H1887.5V1648.3H1859.0zM1966.0 1641.6H1973.1V1648.3H1966.0zM2044.5 1641.6H2101.6V1648.3H2044.5zM1566.4 1648.3H1652.0V1655.0H1566.4zM1866.1 1648.3H1887.5V1655.0H1866.1zM1973.1 1648.3H1980.3V1655.0H1973.1zM2037.4 1648.3H2044.5V1655.0H2037.4zM2051.6 1648.3H2101.6V1655.0H2051.6zM1566.4 1655.0H1602.1V1661.8H1566.4zM1616.4 1655.0H1652.0V1661.8H1616.4zM1723.4 1655.0H1730.5V1661.8H1723.4zM1866.1 1655.0H1887.5V1661.8H1866.1zM1980.3 1655.0H1987.4V1661.8H1980.3zM2073.0 1655.0H2101.6V1661.8H2073.0zM1566.4 1661.8H1580.7V1668.5H1566.4zM1637.8 1661.8H1652.0V1668.5H1637.8zM1873.2 1661.8H1887.5V1668.5H1873.2zM1987.4 1661.8H1994.5V1668.5H1987.4zM2087.3 1661.8H2101.6V1668.5H2087.3zM1566.4 1668.5H1573.5V1675.2H1566.4zM1994.5 1668.5H2001.7V1675.2H1994.5zM1759.1 1675.2H1766.2V1682.0H1759.1zM1787.6 1675.2H1794.7V1682.0H1787.6zM1751.9 1682.0H1766.2V1688.7H1751.9zM1994.5 1682.0H2001.7V1688.7H1994.5zM1751.9 1688.7H1766.2V1695.4H1751.9zM1987.4 1688.7H2001.7V1695.4H1987.4zM1744.8 1695.4H1766.2V1702.1H1744.8zM1794.7 1695.4H1801.9V1702.1H1794.7zM1980.3 1695.4H2001.7V1702.1H1980.3zM1737.7 1702.1H1766.2V1708.9H1737.7zM1980.3 1702.1H2001.7V1708.9H1980.3zM1737.7 1708.9H1766.2V1715.6H1737.7zM1980.3 1708.9H2001.7V1715.6H1980.3zM1737.7 1715.6H1766.2V1722.3H1737.7zM1973.1 1715.6H2001.7V1722.3H1973.1zM2044.5 1715.6H2051.6V1722.3H2044.5zM1737.7 1722.3H1766.2V1729.1H1737.7zM1980.3 1722.3H2001.7V1729.1H1980.3zM2051.6 1722.3H2058.8V1729.1H2051.6zM2158.7 1722.3H2177.8V1729.1H2158.7zM1545.0 1729.1H1566.4V1735.8H1545.0zM1737.7 1729.1H1766.2V1735.8H1737.7zM1980.3 1729.1H2001.7V1735.8H1980.3zM2058.8 1729.1H2065.9V1735.8H2058.8zM2144.4 1729.1H2177.8V1735.8H2144.4zM1537.9 1735.8H1566.4V1742.5H1537.9zM1594.9 1735.8H1602.1V1742.5H1594.9zM1744.8 1735.8H1766.2V1742.5H1744.8zM1980.3 1735.8H2001.7V1742.5H1980.3zM2065.9 1735.8H2073.0V1742.5H2065.9zM2137.3 1735.8H2177.8V1742.5H2137.3zM1545.0 1742.5H1566.4V1749.3H1545.0zM1744.8 1742.5H1766.2V1749.3H1744.8zM1987.4 1742.5H2001.7V1749.3H1987.4zM2073.0 1742.5H2080.2V1749.3H2073.0zM2158.7 1742.5H2177.8V1749.3H2158.7zM1545.0 1749.3H1566.4V1756.0H1545.0zM1609.2 1749.3H1616.4V1756.0H1609.2zM1751.9 1749.3H1766.2V1756.0H1751.9zM1823.3 1749.3H1830.4V1756.0H1823.3zM1987.4 1749.3H2001.7V1756.0H1987.4zM2080.2 1749.3H2087.3V1756.0H2080.2zM1559.3 1756.0H1566.4V1762.7H1559.3zM1759.1 1756.0H1766.2V1762.7H1759.1zM1994.5 1756.0H2001.7V1762.7H1994.5zM2087.3 1756.0H2094.4V1762.7H2087.3zM1644.9 1769.5H1652.0V1776.2H1644.9zM1880.4 1769.5H1887.5V1776.2H1880.4zM1637.8 1776.2H1652.0V1782.9H1637.8zM1680.6 1776.2H1687.7V1782.9H1680.6zM1880.4 1776.2H1887.5V1782.9H1880.4zM2094.4 1776.2H2101.6V1782.9H2094.4zM1630.6 1782.9H1652.0V1789.6H1630.6zM1873.2 1782.9H1887.5V1789.6H1873.2zM2087.3 1782.9H2101.6V1789.6H2087.3zM1630.6 1789.6H1652.0V1796.4H1630.6zM1687.7 1789.6H1694.8V1796.4H1687.7zM1873.2 1789.6H1887.5V1796.4H1873.2zM1944.6 1789.6H1951.7V1796.4H1944.6zM2080.2 1789.6H2101.6V1796.4H2080.2zM1623.5 1796.4H1652.0V1803.1H1623.5zM1866.1 1796.4H1887.5V1803.1H1866.1zM2073.0 1796.4H2101.6V1803.1H2073.0zM1594.9 1803.1H1602.1V1809.8H1594.9zM1616.4 1803.1H1652.0V1809.8H1616.4zM1866.1 1803.1H1887.5V1809.8H1866.1zM2073.0 1803.1H2101.6V1809.8H2073.0zM1580.7 1809.8H1652.0V1816.6H1580.7zM1866.1 1809.8H1887.5V1816.6H1866.1zM2073.0 1809.8H2101.6V1816.6H2073.0zM2144.4 1809.8H2151.5V1816.6H2144.4zM1566.4 1816.6H1602.1V1835.3H1566.4zM1616.4 1816.6H1652.0V1835.3H1616.4zM1866.1 1816.6H1887.5V1835.3H1866.1zM2073.0 1816.6H2101.6V1835.3H2073.0zM2151.5 1816.6H2158.7V1835.3H2151.5z"/>
<path fill="#00D042" d="M1473.6 1151.7H1559.3V1170.4H1473.6zM1659.2 1151.7H1759.1V1170.4H1659.2zM1923.2 1151.7H2001.7V1170.4H1923.2zM2108.7 1151.7H2177.8V1170.4H2108.7zM1454.5 1170.4H1473.6V1177.2H1454.5zM1851.8 1170.4H1880.4V1177.2H1851.8zM1473.6 1177.2H1480.8V1183.9H1473.6zM1851.8 1177.2H1880.4V1183.9H1851.8zM1480.8 1183.9H1487.9V1190.6H1480.8zM1851.8 1183.9H1873.2V1190.6H1851.8zM1923.2 1183.9H1930.3V1190.6H1923.2zM1487.9 1190.6H1495.0V1197.4H1487.9zM1844.7 1190.6H1866.1V1197.4H1844.7zM1495.0 1197.4H1502.2V1204.1H1495.0zM1844.7 1197.4H1866.1V1204.1H1844.7zM1502.2 1204.1H1509.3V1210.8H1502.2zM1659.2 1204.1H1666.3V1210.8H1659.2zM1837.6 1204.1H1866.1V1210.8H1837.6zM1673.4 1210.8H1680.6V1217.5H1673.4zM1837.6 1210.8H1866.1V1217.5H1837.6zM1937.5 1210.8H1944.6V1217.5H1937.5zM1830.4 1217.5H1866.1V1224.3H1830.4zM2101.6 1217.5H2108.7V1224.3H2101.6zM1830.4 1224.3H1866.1V1231.0H1830.4zM2123.0 1224.3H2130.1V1231.0H2123.0zM1823.3 1231.0H1866.1V1237.7H1823.3zM1594.9 1237.7H1623.5V1244.5H1594.9zM1823.3 1237.7H1873.2V1244.5H1823.3zM1951.7 1237.7H1958.9V1244.5H1951.7zM2065.9 1237.7H2073.0V1244.5H2065.9zM1587.8 1244.5H1630.6V1251.2H1587.8zM1823.3 1244.5H1873.2V1251.2H1823.3zM2065.9 1244.5H2087.3V1251.2H2065.9zM1580.7 1251.2H1644.9V1257.9H1580.7zM1702.0 1251.2H1709.1V1257.9H1702.0zM1816.2 1251.2H1880.4V1257.9H1816.2zM2058.8 1251.2H2087.3V1257.9H2058.8zM1559.3 1257.9H1566.4V1264.7H1559.3zM1573.5 1257.9H1652.0V1264.7H1573.5zM1702.0 1257.9H1709.1V1264.7H1702.0zM1816.2 1257.9H1880.4V1264.7H1816.2zM2058.8 1257.9H2094.4V1264.7H2058.8zM2151.5 1257.9H2158.7V1264.7H2151.5zM1566.4 1264.7H1573.5V1271.4H1566.4zM1709.1 1264.7H1759.1V1271.4H1709.1zM1958.9 1264.7H2001.7V1271.4H1958.9zM2151.5 1264.7H2177.8V1271.4H2151.5zM1573.5 1271.4H1580.7V1278.1H1573.5zM1709.1 1271.4H1759.1V1278.1H1709.1zM1958.9 1271.4H1994.5V1278.1H1958.9zM2151.5 1271.4H2177.8V1278.1H2151.5zM1580.7 1278.1H1587.8V1284.9H1580.7zM1702.0 1278.1H1751.9V1284.9H1702.0zM1816.2 1278.1H1823.3V1284.9H1816.2zM1958.9 1278.1H1987.4V1284.9H1958.9zM2058.8 1278.1H2065.9V1284.9H2058.8zM2151.5 1278.1H2177.8V1284.9H2151.5zM1587.8 1284.9H1594.9V1291.6H1587.8zM1702.0 1284.9H1744.8V1291.6H1702.0zM1958.9 1284.9H1987.4V1291.6H1958.9zM2144.4 1284.9H2177.8V1291.6H2144.4zM1594.9 1291.6H1602.1V1298.3H1594.9zM1694.8 1291.6H1744.8V1298.3H1694.8zM1951.7 1291.6H1987.4V1298.3H1951.7zM2137.3 1291.6H2158.7V1298.3H2137.3zM1530.7 1298.3H1537.9V1305.0H1530.7zM1602.1 1298.3H1609.2V1305.0H1602.1zM1694.8 1298.3H1744.8V1305.0H1694.8zM1823.3 1298.3H1830.4V1305.0H1823.3zM1951.7 1298.3H1980.3V1305.0H1951.7zM2073.0 1298.3H2080.2V1305.0H2073.0zM2144.4 1298.3H2151.5V1305.0H2144.4zM1523.6 1305.0H1537.9V1311.8H1523.6zM1687.7 1305.0H1744.8V1311.8H1687.7zM1944.6 1305.0H1980.3V1311.8H1944.6zM2144.4 1305.0H2151.5V1311.8H2144.4zM1523.6 1311.8H1537.9V1318.5H1523.6zM1680.6 1311.8H1744.8V1318.5H1680.6zM1944.6 1311.8H1987.4V1318.5H1944.6zM2137.3 1311.8H2158.7V1318.5H2137.3zM1516.5 1318.5H1545.0V1325.2H1516.5zM1680.6 1318.5H1744.8V1325.2H1680.6zM1830.4 1318.5H1837.6V1325.2H1830.4zM1944.6 1318.5H1987.4V1325.2H1944.6zM2130.1 1318.5H2177.8V1325.2H2130.1zM1509.3 1325.2H1552.1V1332.0H1509.3zM1673.4 1325.2H1751.9V1332.0H1673.4zM1937.5 1325.2H1987.4V1332.0H1937.5zM2115.9 1325.2H2177.8V1332.0H2115.9zM1509.3 1332.0H1552.1V1338.7H1509.3zM1666.3 1332.0H1759.1V1338.7H1666.3zM1937.5 1332.0H1994.5V1338.7H1937.5zM2108.7 1332.0H2177.8V1338.7H2108.7zM1509.3 1338.7H1559.3V1345.4H1509.3zM1644.9 1338.7H1652.0V1345.4H1644.9zM1659.2 1338.7H1759.1V1345.4H1659.2zM1937.5 1338.7H2001.7V1345.4H1937.5zM2101.6 1338.7H2177.8V1345.4H2101.6zM1502.2 1345.4H1509.3V1352.2H1502.2zM1652.0 1345.4H1659.2V1352.2H1652.0zM1837.6 1345.4H1880.4V1352.2H1837.6zM1930.3 1345.4H1937.5V1352.2H1930.3zM1659.2 1352.2H1666.3V1358.9H1659.2zM1837.6 1352.2H1873.2V1358.9H1837.6zM1509.3 1358.9H1516.5V1365.6H1509.3zM1666.3 1358.9H1673.4V1365.6H1666.3zM1837.6 1358.9H1873.2V1365.6H1837.6zM1673.4 1365.6H1680.6V1372.3H1673.4zM1837.6 1365.6H1866.1V1372.3H1837.6zM1680.6 1372.3H1687.7V1379.1H1680.6zM1830.4 1372.3H1866.1V1379.1H1830.4zM1687.7 1379.1H1694.8V1385.8H1687.7zM1830.4 1379.1H1859.0V1385.8H1830.4zM1537.9 1385.8H1545.0V1392.5H1537.9zM1694.8 1385.8H1702.0V1392.5H1694.8zM1823.3 1385.8H1859.0V1392.5H1823.3zM2137.3 1385.8H2144.4V1392.5H2137.3zM1702.0 1392.5H1709.1V1399.3H1702.0zM1816.2 1392.5H1851.8V1399.3H1816.2zM2151.5 1392.5H2158.7V1399.3H2151.5zM1809.0 1399.3H1851.8V1406.0H1809.0zM1966.0 1399.3H1973.1V1406.0H1966.0zM1809.0 1406.0H1851.8V1412.7H1809.0zM1973.1 1406.0H1980.3V1412.7H1973.1zM1801.9 1412.7H1859.0V1419.5H1801.9zM1794.7 1419.5H1859.0V1426.2H1794.7zM1787.6 1426.2H1866.1V1432.9H1787.6zM2030.2 1426.2H2065.9V1432.9H2030.2zM1587.8 1432.9H1630.6V1439.7H1587.8zM1780.5 1432.9H1873.2V1439.7H1780.5zM2023.1 1432.9H2080.2V1439.7H2023.1zM1580.7 1439.7H1637.8V1446.4H1580.7zM1773.3 1439.7H1880.4V1446.4H1773.3zM2008.8 1439.7H2087.3V1446.4H2008.8zM1566.4 1446.4H1652.0V1453.1H1566.4zM1759.1 1446.4H1766.2V1453.1H1759.1zM1773.3 1446.4H1887.5V1453.1H1773.3zM2001.7 1446.4H2101.6V1453.1H2001.7zM1766.2 1453.1H1773.3V1459.8H1766.2zM1773.3 1459.8H1780.5V1466.6H1773.3zM1780.5 1466.6H1787.6V1473.3H1780.5zM1787.6 1473.3H1794.7V1480.0H1787.6zM1794.7 1480.0H1801.9V1486.8H1794.7zM1801.9 1486.8H1809.0V1493.5H1801.9zM2037.4 1486.8H2044.5V1493.5H2037.4zM1809.0 1493.5H1816.2V1500.2H1809.0zM2051.6 1493.5H2058.8V1500.2H2051.6zM1816.2 1500.2H1823.3V1507.0H1816.2zM2065.9 1500.2H2073.0V1507.0H2065.9zM1630.6 1513.7H1637.8V1520.4H1630.6zM1923.2 1527.2H1958.9V1533.9H1923.2zM1702.0 1533.9H1723.4V1540.6H1702.0zM1916.1 1533.9H1966.0V1540.6H1916.1zM1687.7 1540.6H1737.7V1547.3H1687.7zM1908.9 1540.6H1973.1V1547.3H1908.9zM1487.9 1547.3H1537.9V1554.1H1487.9zM1673.4 1547.3H1744.8V1554.1H1673.4zM1901.8 1547.3H1987.4V1554.1H1901.8zM2130.1 1547.3H2158.7V1554.1H2130.1zM1480.8 1554.1H1552.1V1560.8H1480.8zM1659.2 1554.1H1751.9V1560.8H1659.2zM1894.6 1554.1H1994.5V1560.8H1894.6zM2115.9 1554.1H2177.8V1560.8H2115.9zM1454.5 1560.8H1566.4V1567.5H1454.5zM1652.0 1560.8H1759.1V1567.5H1652.0zM1880.4 1560.8H1887.5V1567.5H1880.4zM1894.6 1560.8H2001.7V1567.5H1894.6zM2101.6 1560.8H2177.8V1567.5H2101.6zM1887.5 1567.5H1894.6V1574.3H1887.5zM1894.6 1574.3H1901.8V1581.0H1894.6zM1901.8 1581.0H1908.9V1587.7H1901.8zM1908.9 1587.7H1916.1V1594.5H1908.9zM1916.1 1594.5H1923.2V1601.2H1916.1zM1923.2 1601.2H1930.3V1607.9H1923.2zM1502.2 1607.9H1509.3V1614.7H1502.2zM1659.2 1607.9H1666.3V1614.7H1659.2zM1837.6 1607.9H1844.7V1614.7H1837.6zM1930.3 1607.9H1937.5V1614.7H1930.3zM1516.5 1614.7H1523.6V1621.4H1516.5zM1830.4 1614.7H1844.7V1621.4H1830.4zM1823.3 1621.4H1844.7V1628.1H1823.3zM1545.0 1628.1H1552.1V1634.8H1545.0zM1823.3 1628.1H1844.7V1634.8H1823.3zM2144.4 1628.1H2151.5V1634.8H2144.4zM1816.2 1634.8H1851.8V1641.6H1816.2zM2158.7 1634.8H2177.8V1641.6H2158.7zM1809.0 1641.6H1859.0V1648.3H1809.0zM1801.9 1648.3H1866.1V1655.0H1801.9zM2044.5 1648.3H2051.6V1655.0H2044.5zM1602.1 1655.0H1616.4V1661.8H1602.1zM1801.9 1655.0H1866.1V1661.8H1801.9zM2023.1 1655.0H2073.0V1661.8H2023.1zM1580.7 1661.8H1637.8V1668.5H1580.7zM1794.7 1661.8H1873.2V1668.5H1794.7zM2016.0 1661.8H2087.3V1668.5H2016.0zM1573.5 1668.5H1644.9V1675.2H1573.5zM1730.5 1668.5H1737.7V1675.2H1730.5zM1794.7 1668.5H1880.4V1675.2H1794.7zM2008.8 1668.5H2094.4V1675.2H2008.8zM1737.7 1675.2H1759.1V1682.0H1737.7zM2001.7 1675.2H2008.8V1682.0H2001.7zM1737.7 1682.0H1751.9V1688.7H1737.7zM2008.8 1682.0H2016.0V1688.7H2008.8zM1730.5 1688.7H1751.9V1695.4H1730.5zM1794.7 1688.7H1801.9V1695.4H1794.7zM2016.0 1688.7H2023.1V1695.4H2016.0zM1730.5 1695.4H1744.8V1702.1H1730.5zM2023.1 1695.4H2030.2V1702.1H2023.1zM1723.4 1702.1H1737.7V1708.9H1723.4zM1801.9 1702.1H1809.0V1708.9H1801.9zM2030.2 1702.1H2037.4V1708.9H2030.2zM1716.2 1708.9H1737.7V1715.6H1716.2zM1973.1 1708.9H1980.3V1715.6H1973.1zM2037.4 1708.9H2044.5V1715.6H2037.4zM1716.2 1715.6H1737.7V1722.3H1716.2zM1809.0 1715.6H1816.2V1722.3H1809.0zM1966.0 1715.6H1973.1V1722.3H1966.0zM1566.4 1722.3H1573.5V1729.1H1566.4zM1709.1 1722.3H1737.7V1729.1H1709.1zM1958.9 1722.3H1980.3V1729.1H1958.9zM1587.8 1729.1H1594.9V1735.8H1587.8zM1702.0 1729.1H1737.7V1735.8H1702.0zM1816.2 1729.1H1823.3V1735.8H1816.2zM1958.9 1729.1H1980.3V1735.8H1958.9zM1694.8 1735.8H1744.8V1742.5H1694.8zM1951.7 1735.8H1980.3V1742.5H1951.7zM1530.7 1742.5H1545.0V1749.3H1530.7zM1694.8 1742.5H1744.8V1749.3H1694.8zM1823.3 1742.5H1830.4V1749.3H1823.3zM1951.7 1742.5H1987.4V1749.3H1951.7zM2130.1 1742.5H2158.7V1749.3H2130.1zM1530.7 1749.3H1545.0V1756.0H1530.7zM1687.7 1749.3H1751.9V1756.0H1687.7zM1951.7 1749.3H1987.4V1756.0H1951.7zM2123.0 1749.3H2177.8V1756.0H2123.0zM1523.6 1756.0H1559.3V1762.7H1523.6zM1687.7 1756.0H1759.1V1762.7H1687.7zM1944.6 1756.0H1994.5V1762.7H1944.6zM2115.9 1756.0H2177.8V1762.7H2115.9zM1523.6 1762.7H1566.4V1769.5H1523.6zM1616.4 1762.7H1623.5V1769.5H1616.4zM1687.7 1762.7H1759.1V1769.5H1687.7zM1944.6 1762.7H2001.7V1769.5H1944.6zM2094.4 1762.7H2101.6V1769.5H2094.4zM2108.7 1762.7H2177.8V1769.5H2108.7zM1616.4 1769.5H1644.9V1776.2H1616.4zM1680.6 1769.5H1687.7V1776.2H1680.6zM1830.4 1769.5H1880.4V1776.2H1830.4zM2101.6 1769.5H2108.7V1776.2H2101.6zM1616.4 1776.2H1637.8V1782.9H1616.4zM1830.4 1776.2H1880.4V1782.9H1830.4zM2108.7 1776.2H2115.9V1782.9H2108.7zM1523.6 1782.9H1530.7V1789.6H1523.6zM1616.4 1782.9H1630.6V1789.6H1616.4zM1830.4 1782.9H1873.2V1789.6H1830.4zM1944.6 1782.9H1951.7V1789.6H1944.6zM2115.9 1782.9H2123.0V1789.6H2115.9zM1609.2 1789.6H1630.6V1796.4H1609.2zM1830.4 1789.6H1873.2V1796.4H1830.4zM2123.0 1789.6H2130.1V1796.4H2123.0zM1602.1 1796.4H1623.5V1803.1H1602.1zM1823.3 1796.4H1866.1V1803.1H1823.3zM2130.1 1796.4H2137.3V1803.1H2130.1zM1537.9 1803.1H1545.0V1809.8H1537.9zM1602.1 1803.1H1616.4V1809.8H1602.1zM1823.3 1803.1H1866.1V1809.8H1823.3zM1951.7 1803.1H1958.9V1809.8H1951.7zM2065.9 1803.1H2073.0V1809.8H2065.9zM2137.3 1803.1H2144.4V1809.8H2137.3zM1702.0 1809.8H1709.1V1816.6H1702.0zM1816.2 1809.8H1866.1V1816.6H1816.2zM2058.8 1809.8H2073.0V1816.6H2058.8zM1602.1 1816.6H1616.4V1835.3H1602.1zM1816.2 1816.6H1866.1V1835.3H1816.2zM1958.9 1816.6H1966.0V1835.3H1958.9zM2058.8 1816.6H2073.0V1835.3H2058.8z"/>
<path fill="#0096E6" d="M1887.5 1151.7H1923.2V1170.4H1887.5zM1566.4 1170.4H1652.0V1177.2H1566.4zM1766.2 1170.4H1851.8V1177.2H1766.2zM2001.7 1170.4H2094.4V1177.2H2001.7zM1580.7 1177.2H1637.8V1183.9H1580.7zM1773.3 1177.2H1844.7V1183.9H1773.3zM2008.8 1177.2H2087.3V1183.9H2008.8zM1587.8 1183.9H1630.6V1190.6H1587.8zM1773.3 1183.9H1844.7V1190.6H1773.3zM2023.1 1183.9H2080.2V1190.6H2023.1zM1602.1 1190.6H1616.4V1197.4H1602.1zM1780.5 1190.6H1844.7V1197.4H1780.5zM2023.1 1190.6H2073.0V1197.4H2023.1zM1780.5 1197.4H1837.6V1204.1H1780.5zM2037.4 1197.4H2065.9V1204.1H2037.4zM1787.6 1204.1H1837.6V1210.8H1787.6zM2037.4 1204.1H2058.8V1210.8H2037.4zM1787.6 1210.8H1830.4V1217.5H1787.6zM1787.6 1217.5H1823.3V1224.3H1787.6zM2044.5 1217.5H2058.8V1224.3H2044.5zM1780.5 1224.3H1823.3V1231.0H1780.5zM2037.4 1224.3H2058.8V1231.0H2037.4zM1780.5 1231.0H1823.3V1237.7H1780.5zM2030.2 1231.0H2065.9V1237.7H2030.2zM1780.5 1237.7H1816.2V1244.5H1780.5zM2023.1 1237.7H2058.8V1244.5H2023.1zM1773.3 1244.5H1816.2V1251.2H1773.3zM2016.0 1244.5H2058.8V1251.2H2016.0zM1766.2 1251.2H1816.2V1257.9H1766.2zM2008.8 1251.2H2058.8V1257.9H2008.8zM1766.2 1257.9H1816.2V1264.7H1766.2zM2001.7 1257.9H2051.6V1264.7H2001.7zM1473.6 1264.7H1559.3V1271.4H1473.6zM1652.0 1264.7H1702.0V1271.4H1652.0zM1887.5 1264.7H1958.9V1271.4H1887.5zM2108.7 1264.7H2151.5V1271.4H2108.7zM1473.6 1271.4H1552.1V1278.1H1473.6zM1659.2 1271.4H1702.0V1278.1H1659.2zM1887.5 1271.4H1958.9V1278.1H1887.5zM2115.9 1271.4H2144.4V1278.1H2115.9zM1480.8 1278.1H1545.0V1284.9H1480.8zM1666.3 1278.1H1702.0V1284.9H1666.3zM1894.6 1278.1H1951.7V1284.9H1894.6zM2115.9 1278.1H2144.4V1284.9H2115.9zM1487.9 1284.9H1537.9V1291.6H1487.9zM1673.4 1284.9H1694.8V1291.6H1673.4zM1894.6 1284.9H1951.7V1291.6H1894.6zM2123.0 1284.9H2137.3V1291.6H2123.0zM1487.9 1291.6H1530.7V1298.3H1487.9zM1673.4 1291.6H1694.8V1298.3H1673.4zM1901.8 1291.6H1951.7V1298.3H1901.8zM1495.0 1298.3H1523.6V1305.0H1495.0zM1673.4 1298.3H1687.7V1305.0H1673.4zM1901.8 1298.3H1944.6V1305.0H1901.8zM1495.0 1305.0H1523.6V1311.8H1495.0zM1673.4 1305.0H1680.6V1311.8H1673.4zM1901.8 1305.0H1944.6V1311.8H1901.8zM1487.9 1311.8H1516.5V1318.5H1487.9zM1901.8 1311.8H1937.5V1318.5H1901.8zM1487.9 1318.5H1509.3V1325.2H1487.9zM1894.6 1318.5H1937.5V1325.2H1894.6zM1480.8 1325.2H1509.3V1332.0H1480.8zM1894.6 1325.2H1937.5V1332.0H1894.6zM1473.6 1332.0H1502.2V1338.7H1473.6zM1887.5 1332.0H1930.3V1338.7H1887.5zM1473.6 1338.7H1502.2V1345.4H1473.6zM1887.5 1338.7H1930.3V1345.4H1887.5zM1573.5 1345.4H1644.9V1352.2H1573.5zM1766.2 1345.4H1837.6V1352.2H1766.2zM2008.8 1345.4H2094.4V1352.2H2008.8zM1580.7 1352.2H1637.8V1358.9H1580.7zM1773.3 1352.2H1837.6V1358.9H1773.3zM2016.0 1352.2H2087.3V1358.9H2016.0zM1587.8 1358.9H1630.6V1365.6H1587.8zM1773.3 1358.9H1830.4V1365.6H1773.3zM2023.1 1358.9H2080.2V1365.6H2023.1zM1780.5 1365.6H1830.4V1372.3H1780.5zM2030.2 1365.6H2065.9V1372.3H2030.2zM1787.6 1372.3H1823.3V1379.1H1787.6zM1787.6 1379.1H1823.3V1385.8H1787.6zM1794.7 1385.8H1816.2V1392.5H1794.7zM1794.7 1392.5H1809.0V1399.3H1794.7zM1794.7 1399.3H1801.9V1406.0H1794.7zM1794.7 1406.0H1801.9V1412.7H1794.7zM1787.6 1412.7H1794.7V1419.5H1787.6zM1473.6 1453.1H1552.1V1459.8H1473.6zM1659.2 1453.1H1751.9V1459.8H1659.2zM1887.5 1453.1H1994.5V1459.8H1887.5zM2115.9 1453.1H2177.8V1459.8H2115.9zM1487.9 1459.8H1545.0V1466.6H1487.9zM1673.4 1459.8H1744.8V1466.6H1673.4zM1894.6 1459.8H1987.4V1466.6H1894.6zM2130.1 1459.8H2158.7V1466.6H2130.1zM1502.2 1466.6H1523.6V1473.3H1502.2zM1680.6 1466.6H1737.7V1473.3H1680.6zM1901.8 1466.6H1980.3V1473.3H1901.8zM1694.8 1473.3H1723.4V1480.0H1694.8zM1916.1 1473.3H1973.1V1480.0H1916.1zM1923.2 1480.0H1958.9V1486.8H1923.2zM1930.3 1486.8H1951.7V1493.5H1930.3zM1580.7 1567.5H1637.8V1574.3H1580.7zM1773.3 1567.5H1873.2V1574.3H1773.3zM2008.8 1567.5H2087.3V1574.3H2008.8zM1594.9 1574.3H1623.5V1581.0H1594.9zM1780.5 1574.3H1866.1V1581.0H1780.5zM2023.1 1574.3H2073.0V1581.0H2023.1zM1787.6 1581.0H1859.0V1587.7H1787.6zM2037.4 1581.0H2058.8V1587.7H2037.4zM1787.6 1587.7H1851.8V1594.5H1787.6zM1794.7 1594.5H1844.7V1601.2H1794.7zM1801.9 1601.2H1837.6V1607.9H1801.9zM1809.0 1607.9H1830.4V1614.7H1809.0zM1809.0 1614.7H1823.3V1621.4H1809.0zM1809.0 1621.4H1823.3V1628.1H1809.0zM1801.9 1628.1H1816.2V1634.8H1801.9zM1794.7 1634.8H1809.0V1641.6H1794.7zM1794.7 1641.6H1801.9V1648.3H1794.7zM1787.6 1648.3H1794.7V1655.0H1787.6zM1780.5 1655.0H1794.7V1661.8H1780.5zM1773.3 1661.8H1794.7V1668.5H1773.3zM1766.2 1668.5H1787.6V1675.2H1766.2zM1473.6 1675.2H1559.3V1682.0H1473.6zM1652.0 1675.2H1730.5V1682.0H1652.0zM1887.5 1675.2H1994.5V1682.0H1887.5zM2101.6 1675.2H2177.8V1682.0H2101.6zM1480.8 1682.0H1552.1V1688.7H1480.8zM1659.2 1682.0H1730.5V1688.7H1659.2zM1894.6 1682.0H1987.4V1688.7H1894.6zM2115.9 1682.0H2177.8V1688.7H2115.9zM1480.8 1688.7H1545.0V1695.4H1480.8zM1666.3 1688.7H1723.4V1695.4H1666.3zM1894.6 1688.7H1980.3V1695.4H1894.6zM2123.0 1688.7H2177.8V1695.4H2123.0zM1495.0 1695.4H1537.9V1702.1H1495.0zM1673.4 1695.4H1723.4V1702.1H1673.4zM1901.8 1695.4H1980.3V1702.1H1901.8zM2137.3 1695.4H2151.5V1702.1H2137.3zM1495.0 1702.1H1530.7V1708.9H1495.0zM1680.6 1702.1H1716.2V1708.9H1680.6zM1901.8 1702.1H1973.1V1708.9H1901.8zM1509.3 1708.9H1523.6V1715.6H1509.3zM1680.6 1708.9H1709.1V1715.6H1680.6zM1908.9 1708.9H1966.0V1715.6H1908.9zM1509.3 1715.6H1516.5V1722.3H1509.3zM1680.6 1715.6H1709.1V1722.3H1680.6zM1908.9 1715.6H1958.9V1722.3H1908.9zM1509.3 1722.3H1516.5V1729.1H1509.3zM1680.6 1722.3H1702.0V1729.1H1680.6zM1908.9 1722.3H1958.9V1729.1H1908.9zM1502.2 1729.1H1530.7V1735.8H1502.2zM1680.6 1729.1H1694.8V1735.8H1680.6zM1901.8 1729.1H1951.7V1735.8H1901.8zM1495.0 1735.8H1530.7V1742.5H1495.0zM1673.4 1735.8H1694.8V1742.5H1673.4zM1901.8 1735.8H1951.7V1742.5H1901.8zM1487.9 1742.5H1523.6V1749.3H1487.9zM1673.4 1742.5H1687.7V1749.3H1673.4zM1894.6 1742.5H1944.6V1749.3H1894.6zM1480.8 1749.3H1523.6V1756.0H1480.8zM1666.3 1749.3H1687.7V1756.0H1666.3zM1894.6 1749.3H1944.6V1756.0H1894.6zM1473.6 1756.0H1523.6V1762.7H1473.6zM1659.2 1756.0H1680.6V1762.7H1659.2zM1887.5 1756.0H1944.6V1762.7H1887.5zM1454.5 1762.7H1516.5V1769.5H1454.5zM1652.0 1762.7H1680.6V1769.5H1652.0zM1887.5 1762.7H1944.6V1769.5H1887.5zM1566.4 1769.5H1616.4V1776.2H1566.4zM1766.2 1769.5H1830.4V1776.2H1766.2zM2008.8 1769.5H2094.4V1776.2H2008.8zM1573.5 1776.2H1609.2V1782.9H1573.5zM1766.2 1776.2H1823.3V1782.9H1766.2zM2008.8 1776.2H2087.3V1782.9H2008.8zM1587.8 1782.9H1609.2V1789.6H1587.8zM1773.3 1782.9H1823.3V1789.6H1773.3zM2016.0 1782.9H2080.2V1789.6H2016.0zM1594.9 1789.6H1602.1V1796.4H1594.9zM1773.3 1789.6H1823.3V1796.4H1773.3zM2023.1 1789.6H2073.0V1796.4H2023.1zM1780.5 1796.4H1823.3V1803.1H1780.5zM2023.1 1796.4H2065.9V1803.1H2023.1zM1780.5 1803.1H1816.2V1809.8H1780.5zM2030.2 1803.1H2058.8V1809.8H2030.2zM1780.5 1809.8H1816.2V1816.6H1780.5zM2030.2 1809.8H2058.8V1816.6H2030.2zM1780.5 1816.6H1809.0V1835.3H1780.5zM2023.1 1816.6H2051.6V1835.3H2023.1z"/>
<path fill="#00E1E6" d="M2094.4 1170.4H2101.6V1177.2H2094.4zM1566.4 1177.2H1580.7V1183.9H1566.4zM1637.8 1177.2H1652.0V1183.9H1637.8zM1766.2 1177.2H1773.3V1183.9H1766.2zM2001.7 1177.2H2008.8V1183.9H2001.7zM2087.3 1177.2H2101.6V1183.9H2087.3zM1566.4 1183.9H1587.8V1190.6H1566.4zM1630.6 1183.9H1652.0V1190.6H1630.6zM1766.2 1183.9H1773.3V1190.6H1766.2zM2001.7 1183.9H2023.1V1190.6H2001.7zM2080.2 1183.9H2101.6V1190.6H2080.2zM1566.4 1190.6H1602.1V1197.4H1566.4zM1616.4 1190.6H1652.0V1197.4H1616.4zM1766.2 1190.6H1780.5V1197.4H1766.2zM2001.7 1190.6H2023.1V1197.4H2001.7zM2073.0 1190.6H2101.6V1197.4H2073.0zM1566.4 1197.4H1644.9V1204.1H1566.4zM1766.2 1197.4H1780.5V1204.1H1766.2zM2001.7 1197.4H2037.4V1204.1H2001.7zM2065.9 1197.4H2101.6V1204.1H2065.9zM1566.4 1204.1H1630.6V1210.8H1566.4zM1766.2 1204.1H1787.6V1210.8H1766.2zM2001.7 1204.1H2037.4V1210.8H2001.7zM2058.8 1204.1H2101.6V1210.8H2058.8zM1566.4 1210.8H1630.6V1217.5H1566.4zM1766.2 1210.8H1787.6V1217.5H1766.2zM2001.7 1210.8H2101.6V1217.5H2001.7zM1566.4 1217.5H1609.2V1224.3H1566.4zM1616.4 1217.5H1623.5V1224.3H1616.4zM1766.2 1217.5H1787.6V1224.3H1766.2zM1823.3 1217.5H1830.4V1224.3H1823.3zM2001.7 1217.5H2044.5V1224.3H2001.7zM2058.8 1217.5H2080.2V1224.3H2058.8zM2094.4 1217.5H2101.6V1224.3H2094.4zM1566.4 1224.3H1602.1V1231.0H1566.4zM1766.2 1224.3H1780.5V1231.0H1766.2zM2001.7 1224.3H2037.4V1231.0H2001.7zM2058.8 1224.3H2073.0V1231.0H2058.8zM1566.4 1231.0H1594.9V1237.7H1566.4zM1766.2 1231.0H1780.5V1237.7H1766.2zM2001.7 1231.0H2030.2V1237.7H2001.7zM2065.9 1231.0H2073.0V1237.7H2065.9zM1566.4 1237.7H1594.9V1244.5H1566.4zM1766.2 1237.7H1780.5V1244.5H1766.2zM2001.7 1237.7H2023.1V1244.5H2001.7zM2058.8 1237.7H2065.9V1244.5H2058.8zM1566.4 1244.5H1587.8V1251.2H1566.4zM1766.2 1244.5H1773.3V1251.2H1766.2zM2001.7 1244.5H2016.0V1251.2H2001.7zM2001.7 1251.2H2008.8V1257.9H2001.7zM1454.5 1264.7H1473.6V1271.4H1454.5zM1559.3 1264.7H1566.4V1271.4H1559.3zM2101.6 1264.7H2108.7V1271.4H2101.6zM1454.5 1271.4H1473.6V1278.1H1454.5zM1552.1 1271.4H1559.3V1278.1H1552.1zM1652.0 1271.4H1659.2V1278.1H1652.0zM2101.6 1271.4H2115.9V1278.1H2101.6zM2144.4 1271.4H2151.5V1278.1H2144.4zM1454.5 1278.1H1480.8V1284.9H1454.5zM1652.0 1278.1H1666.3V1284.9H1652.0zM1887.5 1278.1H1894.6V1284.9H1887.5zM1951.7 1278.1H1958.9V1284.9H1951.7zM2101.6 1278.1H2115.9V1284.9H2101.6zM1454.5 1284.9H1487.9V1291.6H1454.5zM1652.0 1284.9H1673.4V1291.6H1652.0zM1887.5 1284.9H1894.6V1291.6H1887.5zM2101.6 1284.9H2123.0V1291.6H2101.6zM1454.5 1291.6H1487.9V1298.3H1454.5zM1530.7 1291.6H1537.9V1298.3H1530.7zM1652.0 1291.6H1673.4V1298.3H1652.0zM1887.5 1291.6H1901.8V1298.3H1887.5zM2101.6 1291.6H2130.1V1298.3H2101.6zM1454.5 1298.3H1495.0V1305.0H1454.5zM1523.6 1298.3H1530.7V1305.0H1523.6zM1652.0 1298.3H1673.4V1305.0H1652.0zM1887.5 1298.3H1901.8V1305.0H1887.5zM2101.6 1298.3H2115.9V1305.0H2101.6zM2123.0 1298.3H2130.1V1305.0H2123.0zM1454.5 1305.0H1495.0V1311.8H1454.5zM1652.0 1305.0H1673.4V1311.8H1652.0zM1680.6 1305.0H1687.7V1311.8H1680.6zM1887.5 1305.0H1901.8V1311.8H1887.5zM1454.5 1311.8H1487.9V1318.5H1454.5zM1652.0 1311.8H1680.6V1318.5H1652.0zM1887.5 1311.8H1901.8V1318.5H1887.5zM1454.5 1318.5H1487.9V1325.2H1454.5zM1652.0 1318.5H1673.4V1325.2H1652.0zM1887.5 1318.5H1894.6V1325.2H1887.5zM1454.5 1325.2H1480.8V1332.0H1454.5zM1652.0 1325.2H1666.3V1332.0H1652.0zM1887.5 1325.2H1894.6V1332.0H1887.5zM1454.5 1332.0H1473.6V1338.7H1454.5zM1502.2 1332.0H1509.3V1338.7H1502.2zM1930.3 1332.0H1937.5V1338.7H1930.3zM1566.4 1345.4H1573.5V1352.2H1566.4zM1644.9 1345.4H1652.0V1352.2H1644.9zM2001.7 1345.4H2008.8V1352.2H2001.7zM2094.4 1345.4H2101.6V1352.2H2094.4zM1566.4 1352.2H1580.7V1358.9H1566.4zM1637.8 1352.2H1644.9V1358.9H1637.8zM1766.2 1352.2H1773.3V1358.9H1766.2zM2001.7 1352.2H2016.0V1358.9H2001.7zM2087.3 1352.2H2101.6V1358.9H2087.3zM1566.4 1358.9H1587.8V1365.6H1566.4zM1630.6 1358.9H1637.8V1365.6H1630.6zM1766.2 1358.9H1773.3V1365.6H1766.2zM2001.7 1358.9H2023.1V1365.6H2001.7zM2080.2 1358.9H2101.6V1365.6H2080.2zM1566.4 1365.6H1616.4V1372.3H1566.4zM1766.2 1365.6H1780.5V1372.3H1766.2zM2001.7 1365.6H2030.2V1372.3H2001.7zM2065.9 1365.6H2094.4V1372.3H2065.9zM1566.4 1372.3H1609.2V1379.1H1566.4zM1766.2 1372.3H1787.6V1379.1H1766.2zM1823.3 1372.3H1830.4V1379.1H1823.3zM2001.7 1372.3H2080.2V1379.1H2001.7zM2087.3 1372.3H2094.4V1379.1H2087.3zM1566.4 1379.1H1594.9V1385.8H1566.4zM1602.1 1379.1H1609.2V1385.8H1602.1zM1766.2 1379.1H1787.6V1385.8H1766.2zM2001.7 1379.1H2065.9V1385.8H2001.7zM2073.0 1379.1H2080.2V1385.8H2073.0zM1587.8 1385.8H1594.9V1392.5H1587.8zM1766.2 1385.8H1794.7V1392.5H1766.2zM2001.7 1385.8H2058.8V1392.5H2001.7zM1766.2 1392.5H1794.7V1399.3H1766.2zM1809.0 1392.5H1816.2V1399.3H1809.0zM2001.7 1392.5H2044.5V1399.3H2001.7zM2051.6 1392.5H2058.8V1399.3H2051.6zM1766.2 1399.3H1794.7V1406.0H1766.2zM1801.9 1399.3H1809.0V1406.0H1801.9zM2001.7 1399.3H2037.4V1406.0H2001.7zM1766.2 1406.0H1794.7V1412.7H1766.2zM2001.7 1406.0H2023.1V1412.7H2001.7zM1766.2 1412.7H1787.6V1419.5H1766.2zM1766.2 1419.5H1787.6V1426.2H1766.2zM1766.2 1426.2H1780.5V1432.9H1766.2zM1766.2 1432.9H1773.3V1439.7H1766.2zM1454.5 1453.1H1473.6V1459.8H1454.5zM1552.1 1453.1H1566.4V1459.8H1552.1zM1652.0 1453.1H1659.2V1459.8H1652.0zM1751.9 1453.1H1759.1V1459.8H1751.9zM1994.5 1453.1H2001.7V1459.8H1994.5zM2101.6 1453.1H2115.9V1459.8H2101.6zM1454.5 1459.8H1487.9V1466.6H1454.5zM1545.0 1459.8H1566.4V1466.6H1545.0zM1652.0 1459.8H1673.4V1466.6H1652.0zM1744.8 1459.8H1751.9V1466.6H1744.8zM1887.5 1459.8H1894.6V1466.6H1887.5zM1987.4 1459.8H2001.7V1466.6H1987.4zM2101.6 1459.8H2130.1V1466.6H2101.6zM2158.7 1459.8H2177.8V1466.6H2158.7zM1454.5 1466.6H1502.2V1473.3H1454.5zM1523.6 1466.6H1566.4V1473.3H1523.6zM1652.0 1466.6H1680.6V1473.3H1652.0zM1737.7 1466.6H1744.8V1473.3H1737.7zM1887.5 1466.6H1901.8V1473.3H1887.5zM1980.3 1466.6H2001.7V1473.3H1980.3zM2101.6 1466.6H2177.8V1473.3H2101.6zM1454.5 1473.3H1566.4V1480.0H1454.5zM1652.0 1473.3H1694.8V1480.0H1652.0zM1723.4 1473.3H1737.7V1480.0H1723.4zM1887.5 1473.3H1916.1V1480.0H1887.5zM1973.1 1473.3H1980.3V1480.0H1973.1zM2101.6 1473.3H2177.8V1480.0H2101.6zM1454.5 1480.0H1566.4V1486.8H1454.5zM1652.0 1480.0H1716.2V1486.8H1652.0zM1723.4 1480.0H1730.5V1486.8H1723.4zM1887.5 1480.0H1923.2V1486.8H1887.5zM1958.9 1480.0H1973.1V1486.8H1958.9zM2101.6 1480.0H2177.8V1486.8H2101.6zM1454.5 1486.8H1566.4V1493.5H1454.5zM1652.0 1486.8H1709.1V1493.5H1652.0zM1887.5 1486.8H1930.3V1493.5H1887.5zM1951.7 1486.8H1966.0V1493.5H1951.7zM2101.6 1486.8H2158.7V1493.5H2101.6zM1454.5 1493.5H1545.0V1500.2H1454.5zM1652.0 1493.5H1702.0V1500.2H1652.0zM1887.5 1493.5H1966.0V1500.2H1887.5zM2101.6 1493.5H2144.4V1500.2H2101.6zM1454.5 1500.2H1523.6V1507.0H1454.5zM1537.9 1500.2H1545.0V1507.0H1537.9zM1652.0 1500.2H1687.7V1507.0H1652.0zM1694.8 1500.2H1702.0V1507.0H1694.8zM1887.5 1500.2H1944.6V1507.0H1887.5zM1951.7 1500.2H1958.9V1507.0H1951.7zM2101.6 1500.2H2115.9V1507.0H2101.6zM2137.3 1500.2H2144.4V1507.0H2137.3zM1454.5 1507.0H1516.5V1513.7H1454.5zM1652.0 1507.0H1673.4V1513.7H1652.0zM1887.5 1507.0H1937.5V1513.7H1887.5zM1454.5 1513.7H1502.2V1520.4H1454.5zM1509.3 1513.7H1516.5V1520.4H1509.3zM1666.3 1513.7H1673.4V1520.4H1666.3zM1887.5 1513.7H1930.3V1520.4H1887.5zM1454.5 1520.4H1480.8V1527.2H1454.5zM1495.0 1520.4H1502.2V1527.2H1495.0zM1887.5 1520.4H1923.2V1527.2H1887.5zM1473.6 1527.2H1480.8V1533.9H1473.6zM1887.5 1527.2H1916.1V1533.9H1887.5zM1887.5 1533.9H1908.9V1540.6H1887.5zM1887.5 1540.6H1901.8V1547.3H1887.5zM1887.5 1547.3H1894.6V1554.1H1887.5zM1566.4 1567.5H1580.7V1574.3H1566.4zM1637.8 1567.5H1652.0V1574.3H1637.8zM1766.2 1567.5H1773.3V1574.3H1766.2zM1873.2 1567.5H1880.4V1574.3H1873.2zM2001.7 1567.5H2008.8V1574.3H2001.7zM2087.3 1567.5H2101.6V1574.3H2087.3zM1566.4 1574.3H1594.9V1581.0H1566.4zM1623.5 1574.3H1652.0V1581.0H1623.5zM1766.2 1574.3H1780.5V1581.0H1766.2zM1866.1 1574.3H1873.2V1581.0H1866.1zM2001.7 1574.3H2023.1V1581.0H2001.7zM2073.0 1574.3H2101.6V1581.0H2073.0zM1566.4 1581.0H1652.0V1587.7H1566.4zM1766.2 1581.0H1787.6V1587.7H1766.2zM1859.0 1581.0H1866.1V1587.7H1859.0zM2001.7 1581.0H2037.4V1587.7H2001.7zM2058.8 1581.0H2101.6V1587.7H2058.8zM1566.4 1587.7H1652.0V1594.5H1566.4zM1766.2 1587.7H1787.6V1594.5H1766.2zM1851.8 1587.7H1859.0V1594.5H1851.8zM2001.7 1587.7H2101.6V1594.5H2001.7zM1566.4 1594.5H1652.0V1601.2H1566.4zM1766.2 1594.5H1794.7V1601.2H1766.2zM1844.7 1594.5H1851.8V1601.2H1844.7zM2001.7 1594.5H2101.6V1601.2H2001.7zM1566.4 1601.2H1644.9V1607.9H1566.4zM1766.2 1601.2H1801.9V1607.9H1766.2zM1837.6 1601.2H1844.7V1607.9H1837.6zM2001.7 1601.2H2101.6V1607.9H2001.7zM1566.4 1607.9H1623.5V1614.7H1566.4zM1766.2 1607.9H1809.0V1614.7H1766.2zM1830.4 1607.9H1837.6V1614.7H1830.4zM2001.7 1607.9H2101.6V1614.7H2001.7zM1566.4 1614.7H1609.2V1621.4H1566.4zM1616.4 1614.7H1623.5V1621.4H1616.4zM1766.2 1614.7H1809.0V1621.4H1766.2zM1823.3 1614.7H1830.4V1621.4H1823.3zM2001.7 1614.7H2080.2V1621.4H2001.7zM1566.4 1621.4H1587.8V1628.1H1566.4zM1602.1 1621.4H1609.2V1628.1H1602.1zM1766.2 1621.4H1809.0V1628.1H1766.2zM2001.7 1621.4H2065.9V1628.1H2001.7zM2073.0 1621.4H2080.2V1628.1H2073.0zM1766.2 1628.1H1801.9V1634.8H1766.2zM2001.7 1628.1H2051.6V1634.8H2001.7zM2058.8 1628.1H2065.9V1634.8H2058.8zM1766.2 1634.8H1794.7V1641.6H1766.2zM2001.7 1634.8H2044.5V1641.6H2001.7zM1766.2 1641.6H1794.7V1648.3H1766.2zM1801.9 1641.6H1809.0V1648.3H1801.9zM2001.7 1641.6H2044.5V1648.3H2001.7zM1766.2 1648.3H1787.6V1655.0H1766.2zM1794.7 1648.3H1801.9V1655.0H1794.7zM2001.7 1648.3H2023.1V1655.0H2001.7zM2030.2 1648.3H2037.4V1655.0H2030.2zM1766.2 1655.0H1780.5V1661.8H1766.2zM2001.7 1655.0H2016.0V1661.8H2001.7zM1766.2 1661.8H1773.3V1668.5H1766.2zM2001.7 1661.8H2008.8V1668.5H2001.7zM1787.6 1668.5H1794.7V1675.2H1787.6zM1454.5 1675.2H1473.6V1682.0H1454.5zM1559.3 1675.2H1566.4V1682.0H1559.3zM1994.5 1675.2H2001.7V1682.0H1994.5zM1454.5 1682.0H1480.8V1688.7H1454.5zM1552.1 1682.0H1566.4V1688.7H1552.1zM1652.0 1682.0H1659.2V1688.7H1652.0zM1887.5 1682.0H1894.6V1688.7H1887.5zM1987.4 1682.0H1994.5V1688.7H1987.4zM2101.6 1682.0H2115.9V1688.7H2101.6zM1454.5 1688.7H1480.8V1695.4H1454.5zM1545.0 1688.7H1566.4V1695.4H1545.0zM1652.0 1688.7H1666.3V1695.4H1652.0zM1723.4 1688.7H1730.5V1695.4H1723.4zM1887.5 1688.7H1894.6V1695.4H1887.5zM1980.3 1688.7H1987.4V1695.4H1980.3zM2101.6 1688.7H2123.0V1695.4H2101.6zM1454.5 1695.4H1495.0V1702.1H1454.5zM1537.9 1695.4H1566.4V1702.1H1537.9zM1652.0 1695.4H1673.4V1702.1H1652.0zM1887.5 1695.4H1901.8V1702.1H1887.5zM2101.6 1695.4H2137.3V1702.1H2101.6zM2151.5 1695.4H2177.8V1702.1H2151.5zM1454.5 1702.1H1495.0V1708.9H1454.5zM1530.7 1702.1H1566.4V1708.9H1530.7zM1652.0 1702.1H1680.6V1708.9H1652.0zM1716.2 1702.1H1723.4V1708.9H1716.2zM1887.5 1702.1H1901.8V1708.9H1887.5zM2101.6 1702.1H2177.8V1708.9H2101.6zM1454.5 1708.9H1509.3V1715.6H1454.5zM1523.6 1708.9H1566.4V1715.6H1523.6zM1652.0 1708.9H1680.6V1715.6H1652.0zM1709.1 1708.9H1716.2V1715.6H1709.1zM1887.5 1708.9H1908.9V1715.6H1887.5zM2101.6 1708.9H2177.8V1715.6H2101.6zM1454.5 1715.6H1509.3V1722.3H1454.5zM1516.5 1715.6H1566.4V1722.3H1516.5zM1652.0 1715.6H1680.6V1722.3H1652.0zM1887.5 1715.6H1908.9V1722.3H1887.5zM1958.9 1715.6H1966.0V1722.3H1958.9zM2101.6 1715.6H2177.8V1722.3H2101.6zM1454.5 1722.3H1509.3V1729.1H1454.5zM1516.5 1722.3H1545.0V1729.1H1516.5zM1559.3 1722.3H1566.4V1729.1H1559.3zM1652.0 1722.3H1680.6V1729.1H1652.0zM1887.5 1722.3H1908.9V1729.1H1887.5zM2101.6 1722.3H2144.4V1729.1H2101.6zM2151.5 1722.3H2158.7V1729.1H2151.5zM1454.5 1729.1H1502.2V1735.8H1454.5zM1530.7 1729.1H1537.9V1735.8H1530.7zM1652.0 1729.1H1680.6V1735.8H1652.0zM1694.8 1729.1H1702.0V1735.8H1694.8zM1887.5 1729.1H1901.8V1735.8H1887.5zM2101.6 1729.1H2137.3V1735.8H2101.6zM1454.5 1735.8H1495.0V1742.5H1454.5zM1652.0 1735.8H1673.4V1742.5H1652.0zM1887.5 1735.8H1901.8V1742.5H1887.5zM2101.6 1735.8H2130.1V1742.5H2101.6zM1454.5 1742.5H1487.9V1749.3H1454.5zM1523.6 1742.5H1530.7V1749.3H1523.6zM1652.0 1742.5H1673.4V1749.3H1652.0zM1887.5 1742.5H1894.6V1749.3H1887.5zM2101.6 1742.5H2130.1V1749.3H2101.6zM1454.5 1749.3H1480.8V1756.0H1454.5zM1652.0 1749.3H1666.3V1756.0H1652.0zM1887.5 1749.3H1894.6V1756.0H1887.5zM2101.6 1749.3H2123.0V1756.0H2101.6zM1454.5 1756.0H1473.6V1762.7H1454.5zM1652.0 1756.0H1659.2V1762.7H1652.0zM2001.7 1769.5H2008.8V1776.2H2001.7zM2094.4 1769.5H2101.6V1776.2H2094.4zM1566.4 1776.2H1573.5V1782.9H1566.4zM1609.2 1776.2H1616.4V1782.9H1609.2zM1823.3 1776.2H1830.4V1782.9H1823.3zM2001.7 1776.2H2008.8V1782.9H2001.7zM2087.3 1776.2H2094.4V1782.9H2087.3zM1566.4 1782.9H1587.8V1789.6H1566.4zM1766.2 1782.9H1773.3V1789.6H1766.2zM2001.7 1782.9H2016.0V1789.6H2001.7zM1566.4 1789.6H1594.9V1796.4H1566.4zM1766.2 1789.6H1773.3V1796.4H1766.2zM2001.7 1789.6H2023.1V1796.4H2001.7zM1566.4 1796.4H1602.1V1803.1H1566.4zM1766.2 1796.4H1780.5V1803.1H1766.2zM2001.7 1796.4H2023.1V1803.1H2001.7zM2065.9 1796.4H2073.0V1803.1H2065.9zM1566.4 1803.1H1580.7V1809.8H1566.4zM1587.8 1803.1H1594.9V1809.8H1587.8zM1766.2 1803.1H1780.5V1809.8H1766.2zM2001.7 1803.1H2030.2V1809.8H2001.7zM2058.8 1803.1H2065.9V1809.8H2058.8zM1766.2 1809.8H1780.5V1816.6H1766.2zM2001.7 1809.8H2030.2V1816.6H2001.7zM1766.2 1816.6H1780.5V1835.3H1766.2zM1809.0 1816.6H1816.2V1835.3H1809.0zM2001.7 1816.6H2023.1V1835.3H2001.7z"/>
<path fill="#F000C8" d="M1454.5 1151.7H1473.6V1170.4H1454.5zM1851.8 1151.7H1887.5V1170.4H1851.8zM1473.6 1170.4H1566.4V1177.2H1473.6zM1652.0 1170.4H1766.2V1177.2H1652.0zM1923.2 1170.4H2001.7V1177.2H1923.2zM2101.6 1170.4H2177.8V1177.2H2101.6zM1480.8 1177.2H1566.4V1183.9H1480.8zM1652.0 1177.2H1766.2V1183.9H1652.0zM1844.7 1177.2H1851.8V1183.9H1844.7zM1923.2 1177.2H2001.7V1183.9H1923.2zM2101.6 1177.2H2177.8V1183.9H2101.6zM1487.9 1183.9H1566.4V1190.6H1487.9zM1652.0 1183.9H1766.2V1190.6H1652.0zM1844.7 1183.9H1851.8V1190.6H1844.7zM1930.3 1183.9H2001.7V1190.6H1930.3zM2101.6 1183.9H2177.8V1190.6H2101.6zM1495.0 1190.6H1566.4V1197.4H1495.0zM1652.0 1190.6H1766.2V1197.4H1652.0zM1930.3 1190.6H2001.7V1197.4H1930.3zM2101.6 1190.6H2177.8V1197.4H2101.6zM1502.2 1197.4H1566.4V1204.1H1502.2zM1644.9 1197.4H1766.2V1204.1H1644.9zM1837.6 1197.4H1844.7V1204.1H1837.6zM1930.3 1197.4H2001.7V1204.1H1930.3zM2101.6 1197.4H2177.8V1204.1H2101.6zM1509.3 1204.1H1566.4V1210.8H1509.3zM1630.6 1204.1H1644.9V1210.8H1630.6zM1666.3 1204.1H1766.2V1210.8H1666.3zM1937.5 1204.1H2001.7V1210.8H1937.5zM2101.6 1204.1H2177.8V1210.8H2101.6zM1516.5 1210.8H1566.4V1217.5H1516.5zM1680.6 1210.8H1766.2V1217.5H1680.6zM1830.4 1210.8H1837.6V1217.5H1830.4zM1944.6 1210.8H2001.7V1217.5H1944.6zM2101.6 1210.8H2177.8V1217.5H2101.6zM1523.6 1217.5H1566.4V1224.3H1523.6zM1609.2 1217.5H1616.4V1224.3H1609.2zM1687.7 1217.5H1766.2V1224.3H1687.7zM1944.6 1217.5H2001.7V1224.3H1944.6zM2080.2 1217.5H2094.4V1224.3H2080.2zM2108.7 1217.5H2177.8V1224.3H2108.7zM1530.7 1224.3H1566.4V1231.0H1530.7zM1602.1 1224.3H1609.2V1231.0H1602.1zM1694.8 1224.3H1766.2V1231.0H1694.8zM1823.3 1224.3H1830.4V1231.0H1823.3zM1951.7 1224.3H2001.7V1231.0H1951.7zM2073.0 1224.3H2080.2V1231.0H2073.0zM2130.1 1224.3H2177.8V1231.0H2130.1zM1537.9 1231.0H1566.4V1237.7H1537.9zM1594.9 1231.0H1602.1V1237.7H1594.9zM1694.8 1231.0H1766.2V1237.7H1694.8zM1951.7 1231.0H2001.7V1237.7H1951.7zM2137.3 1231.0H2177.8V1237.7H2137.3zM1545.0 1237.7H1566.4V1244.5H1545.0zM1702.0 1237.7H1766.2V1244.5H1702.0zM1816.2 1237.7H1823.3V1244.5H1816.2zM1958.9 1237.7H2001.7V1244.5H1958.9zM2144.4 1237.7H2177.8V1244.5H2144.4zM1552.1 1244.5H1566.4V1251.2H1552.1zM1702.0 1244.5H1766.2V1251.2H1702.0zM1816.2 1244.5H1823.3V1251.2H1816.2zM1958.9 1244.5H2001.7V1251.2H1958.9zM2058.8 1244.5H2065.9V1251.2H2058.8zM2151.5 1244.5H2177.8V1251.2H2151.5zM1559.3 1251.2H1580.7V1257.9H1559.3zM1709.1 1251.2H1766.2V1257.9H1709.1zM1958.9 1251.2H2001.7V1257.9H1958.9zM2151.5 1251.2H2177.8V1257.9H2151.5zM1566.4 1257.9H1573.5V1264.7H1566.4zM1709.1 1257.9H1766.2V1264.7H1709.1zM1958.9 1257.9H2001.7V1264.7H1958.9zM2051.6 1257.9H2058.8V1264.7H2051.6zM2158.7 1257.9H2177.8V1264.7H2158.7zM1573.5 1264.7H1652.0V1271.4H1573.5zM1702.0 1264.7H1709.1V1271.4H1702.0zM1816.2 1264.7H1887.5V1271.4H1816.2zM2058.8 1264.7H2101.6V1271.4H2058.8zM1580.7 1271.4H1652.0V1278.1H1580.7zM1702.0 1271.4H1709.1V1278.1H1702.0zM1816.2 1271.4H1887.5V1278.1H1816.2zM2058.8 1271.4H2101.6V1278.1H2058.8zM1545.0 1278.1H1552.1V1284.9H1545.0zM1587.8 1278.1H1652.0V1284.9H1587.8zM1823.3 1278.1H1887.5V1284.9H1823.3zM2065.9 1278.1H2101.6V1284.9H2065.9zM2144.4 1278.1H2151.5V1284.9H2144.4zM1537.9 1284.9H1545.0V1291.6H1537.9zM1594.9 1284.9H1652.0V1291.6H1594.9zM1694.8 1284.9H1702.0V1291.6H1694.8zM1823.3 1284.9H1887.5V1291.6H1823.3zM1951.7 1284.9H1958.9V1291.6H1951.7zM2065.9 1284.9H2101.6V1291.6H2065.9zM2137.3 1284.9H2144.4V1291.6H2137.3zM1602.1 1291.6H1652.0V1298.3H1602.1zM1823.3 1291.6H1887.5V1298.3H1823.3zM2073.0 1291.6H2101.6V1298.3H2073.0zM2130.1 1291.6H2137.3V1298.3H2130.1zM1609.2 1298.3H1652.0V1305.0H1609.2zM1687.7 1298.3H1694.8V1305.0H1687.7zM1830.4 1298.3H1887.5V1305.0H1830.4zM1944.6 1298.3H1951.7V1305.0H1944.6zM2080.2 1298.3H2101.6V1305.0H2080.2zM2115.9 1298.3H2123.0V1305.0H2115.9zM1616.4 1305.0H1652.0V1311.8H1616.4zM1830.4 1305.0H1887.5V1311.8H1830.4zM2087.3 1305.0H2115.9V1311.8H2087.3zM1516.5 1311.8H1523.6V1318.5H1516.5zM1623.5 1311.8H1652.0V1318.5H1623.5zM1830.4 1311.8H1887.5V1318.5H1830.4zM1937.5 1311.8H1944.6V1318.5H1937.5zM1509.3 1318.5H1516.5V1325.2H1509.3zM1630.6 1318.5H1652.0V1325.2H1630.6zM1673.4 1318.5H1680.6V1325.2H1673.4zM1837.6 1318.5H1887.5V1325.2H1837.6zM1937.5 1318.5H1944.6V1325.2H1937.5zM1637.8 1325.2H1652.0V1332.0H1637.8zM1666.3 1325.2H1673.4V1332.0H1666.3zM1837.6 1325.2H1887.5V1332.0H1837.6zM1644.9 1332.0H1666.3V1338.7H1644.9zM1837.6 1332.0H1887.5V1338.7H1837.6zM1454.5 1338.7H1473.6V1345.4H1454.5zM1502.2 1338.7H1509.3V1345.4H1502.2zM1652.0 1338.7H1659.2V1345.4H1652.0zM1837.6 1338.7H1887.5V1345.4H1837.6zM1930.3 1338.7H1937.5V1345.4H1930.3zM1509.3 1345.4H1566.4V1352.2H1509.3zM1659.2 1345.4H1766.2V1352.2H1659.2zM1937.5 1345.4H2001.7V1352.2H1937.5zM2101.6 1345.4H2177.8V1352.2H2101.6zM1509.3 1352.2H1566.4V1358.9H1509.3zM1666.3 1352.2H1766.2V1358.9H1666.3zM1937.5 1352.2H2001.7V1358.9H1937.5zM2101.6 1352.2H2177.8V1358.9H2101.6zM1516.5 1358.9H1566.4V1365.6H1516.5zM1673.4 1358.9H1766.2V1365.6H1673.4zM1830.4 1358.9H1837.6V1365.6H1830.4zM1937.5 1358.9H2001.7V1365.6H1937.5zM2101.6 1358.9H2177.8V1365.6H2101.6zM1516.5 1365.6H1566.4V1372.3H1516.5zM1616.4 1365.6H1623.5V1372.3H1616.4zM1680.6 1365.6H1766.2V1372.3H1680.6zM1830.4 1365.6H1837.6V1372.3H1830.4zM1944.6 1365.6H2001.7V1372.3H1944.6zM2094.4 1365.6H2177.8V1372.3H2094.4zM1523.6 1372.3H1566.4V1379.1H1523.6zM1609.2 1372.3H1616.4V1379.1H1609.2zM1687.7 1372.3H1766.2V1379.1H1687.7zM1944.6 1372.3H2001.7V1379.1H1944.6zM2080.2 1372.3H2087.3V1379.1H2080.2zM2115.9 1372.3H2177.8V1379.1H2115.9zM1530.7 1379.1H1566.4V1385.8H1530.7zM1594.9 1379.1H1602.1V1385.8H1594.9zM1694.8 1379.1H1766.2V1385.8H1694.8zM1823.3 1379.1H1830.4V1385.8H1823.3zM1951.7 1379.1H2001.7V1385.8H1951.7zM2065.9 1379.1H2073.0V1385.8H2065.9zM2130.1 1379.1H2177.8V1385.8H2130.1zM1545.0 1385.8H1587.8V1392.5H1545.0zM1702.0 1385.8H1766.2V1392.5H1702.0zM1816.2 1385.8H1823.3V1392.5H1816.2zM1958.9 1385.8H2001.7V1392.5H1958.9zM2058.8 1385.8H2065.9V1392.5H2058.8zM2144.4 1385.8H2177.8V1392.5H2144.4zM1709.1 1392.5H1766.2V1399.3H1709.1zM1966.0 1392.5H2001.7V1399.3H1966.0zM2044.5 1392.5H2051.6V1399.3H2044.5zM2158.7 1392.5H2177.8V1399.3H2158.7zM1716.2 1399.3H1766.2V1406.0H1716.2zM1973.1 1399.3H2001.7V1406.0H1973.1zM2037.4 1399.3H2044.5V1406.0H2037.4zM1723.4 1406.0H1766.2V1412.7H1723.4zM1801.9 1406.0H1809.0V1412.7H1801.9zM1980.3 1406.0H2001.7V1412.7H1980.3zM2023.1 1406.0H2037.4V1412.7H2023.1zM1730.5 1412.7H1766.2V1419.5H1730.5zM1794.7 1412.7H1801.9V1419.5H1794.7zM1987.4 1412.7H2023.1V1419.5H1987.4zM1737.7 1419.5H1766.2V1426.2H1737.7zM1787.6 1419.5H1794.7V1426.2H1787.6zM1744.8 1426.2H1766.2V1432.9H1744.8zM1780.5 1426.2H1787.6V1432.9H1780.5zM1751.9 1432.9H1766.2V1439.7H1751.9zM1773.3 1432.9H1780.5V1439.7H1773.3zM1759.1 1439.7H1773.3V1446.4H1759.1zM1766.2 1446.4H1773.3V1453.1H1766.2zM1566.4 1453.1H1652.0V1459.8H1566.4zM1773.3 1453.1H1887.5V1459.8H1773.3zM2001.7 1453.1H2101.6V1459.8H2001.7zM1566.4 1459.8H1652.0V1466.6H1566.4zM1780.5 1459.8H1887.5V1466.6H1780.5zM2001.7 1459.8H2101.6V1466.6H2001.7zM1566.4 1466.6H1652.0V1473.3H1566.4zM1787.6 1466.6H1887.5V1473.3H1787.6zM2001.7 1466.6H2101.6V1473.3H2001.7zM1566.4 1473.3H1652.0V1480.0H1566.4zM1794.7 1473.3H1887.5V1480.0H1794.7zM1980.3 1473.3H2001.7V1480.0H1980.3zM2008.8 1473.3H2101.6V1480.0H2008.8zM1566.4 1480.0H1652.0V1486.8H1566.4zM1716.2 1480.0H1723.4V1486.8H1716.2zM1801.9 1480.0H1887.5V1486.8H1801.9zM1973.1 1480.0H1980.3V1486.8H1973.1zM2030.2 1480.0H2101.6V1486.8H2030.2zM1566.4 1486.8H1652.0V1493.5H1566.4zM1709.1 1486.8H1716.2V1493.5H1709.1zM1809.0 1486.8H1887.5V1493.5H1809.0zM1966.0 1486.8H1973.1V1493.5H1966.0zM2044.5 1486.8H2101.6V1493.5H2044.5zM2158.7 1486.8H2177.8V1493.5H2158.7zM1545.0 1493.5H1652.0V1500.2H1545.0zM1702.0 1493.5H1709.1V1500.2H1702.0zM1816.2 1493.5H1887.5V1500.2H1816.2zM2058.8 1493.5H2101.6V1500.2H2058.8zM2144.4 1493.5H2158.7V1500.2H2144.4zM1523.6 1500.2H1537.9V1507.0H1523.6zM1594.9 1500.2H1652.0V1507.0H1594.9zM1687.7 1500.2H1694.8V1507.0H1687.7zM1823.3 1500.2H1887.5V1507.0H1823.3zM1944.6 1500.2H1951.7V1507.0H1944.6zM2073.0 1500.2H2101.6V1507.0H2073.0zM2115.9 1500.2H2137.3V1507.0H2115.9zM1516.5 1507.0H1523.6V1513.7H1516.5zM1616.4 1507.0H1652.0V1513.7H1616.4zM1673.4 1507.0H1687.7V1513.7H1673.4zM1830.4 1507.0H1887.5V1513.7H1830.4zM1937.5 1507.0H1944.6V1513.7H1937.5zM2087.3 1507.0H2115.9V1513.7H2087.3zM1502.2 1513.7H1509.3V1520.4H1502.2zM1637.8 1513.7H1666.3V1520.4H1637.8zM1837.6 1513.7H1887.5V1520.4H1837.6zM1930.3 1513.7H1937.5V1520.4H1930.3zM1480.8 1520.4H1495.0V1527.2H1480.8zM1844.7 1520.4H1887.5V1527.2H1844.7zM1923.2 1520.4H1930.3V1527.2H1923.2zM1454.5 1527.2H1473.6V1533.9H1454.5zM1851.8 1527.2H1887.5V1533.9H1851.8zM1916.1 1527.2H1923.2V1533.9H1916.1zM1859.0 1533.9H1887.5V1540.6H1859.0zM1908.9 1533.9H1916.1V1540.6H1908.9zM1866.1 1540.6H1887.5V1547.3H1866.1zM1901.8 1540.6H1908.9V1547.3H1901.8zM1873.2 1547.3H1887.5V1554.1H1873.2zM1894.6 1547.3H1901.8V1554.1H1894.6zM1880.4 1554.1H1894.6V1560.8H1880.4zM1887.5 1560.8H1894.6V1567.5H1887.5zM1454.5 1567.5H1566.4V1574.3H1454.5zM1652.0 1567.5H1766.2V1574.3H1652.0zM1894.6 1567.5H2001.7V1574.3H1894.6zM2101.6 1567.5H2177.8V1574.3H2101.6zM1454.5 1574.3H1566.4V1581.0H1454.5zM1652.0 1574.3H1766.2V1581.0H1652.0zM1901.8 1574.3H2001.7V1581.0H1901.8zM2101.6 1574.3H2177.8V1581.0H2101.6zM1454.5 1581.0H1566.4V1587.7H1454.5zM1652.0 1581.0H1766.2V1587.7H1652.0zM1908.9 1581.0H2001.7V1587.7H1908.9zM2101.6 1581.0H2177.8V1587.7H2101.6zM1454.5 1587.7H1566.4V1594.5H1454.5zM1652.0 1587.7H1766.2V1594.5H1652.0zM1916.1 1587.7H2001.7V1594.5H1916.1zM2101.6 1587.7H2177.8V1594.5H2101.6zM1454.5 1594.5H1566.4V1601.2H1454.5zM1652.0 1594.5H1766.2V1601.2H1652.0zM1923.2 1594.5H2001.7V1601.2H1923.2zM2101.6 1594.5H2177.8V1601.2H2101.6zM1495.0 1601.2H1566.4V1607.9H1495.0zM1644.9 1601.2H1766.2V1607.9H1644.9zM1930.3 1601.2H2001.7V1607.9H1930.3zM2101.6 1601.2H2177.8V1607.9H2101.6zM1509.3 1607.9H1566.4V1614.7H1509.3zM1623.5 1607.9H1644.9V1614.7H1623.5zM1666.3 1607.9H1766.2V1614.7H1666.3zM1937.5 1607.9H2001.7V1614.7H1937.5zM2101.6 1607.9H2177.8V1614.7H2101.6zM1523.6 1614.7H1566.4V1621.4H1523.6zM1609.2 1614.7H1616.4V1621.4H1609.2zM1680.6 1614.7H1766.2V1621.4H1680.6zM1944.6 1614.7H2001.7V1621.4H1944.6zM2080.2 1614.7H2177.8V1621.4H2080.2zM1530.7 1621.4H1566.4V1628.1H1530.7zM1587.8 1621.4H1602.1V1628.1H1587.8zM1694.8 1621.4H1766.2V1628.1H1694.8zM1951.7 1621.4H2001.7V1628.1H1951.7zM2065.9 1621.4H2073.0V1628.1H2065.9zM2130.1 1621.4H2177.8V1628.1H2130.1zM1552.1 1628.1H1587.8V1634.8H1552.1zM1702.0 1628.1H1766.2V1634.8H1702.0zM1816.2 1628.1H1823.3V1634.8H1816.2zM1958.9 1628.1H2001.7V1634.8H1958.9zM2051.6 1628.1H2058.8V1634.8H2051.6zM2151.5 1628.1H2177.8V1634.8H2151.5zM1709.1 1634.8H1766.2V1641.6H1709.1zM1809.0 1634.8H1816.2V1641.6H1809.0zM1966.0 1634.8H2001.7V1641.6H1966.0zM2044.5 1634.8H2051.6V1641.6H2044.5zM1716.2 1641.6H1766.2V1648.3H1716.2zM1973.1 1641.6H2001.7V1648.3H1973.1zM1723.4 1648.3H1766.2V1655.0H1723.4zM1980.3 1648.3H2001.7V1655.0H1980.3zM2023.1 1648.3H2030.2V1655.0H2023.1zM1730.5 1655.0H1766.2V1661.8H1730.5zM1794.7 1655.0H1801.9V1661.8H1794.7zM1987.4 1655.0H2001.7V1661.8H1987.4zM2016.0 1655.0H2023.1V1661.8H2016.0zM1730.5 1661.8H1766.2V1668.5H1730.5zM1994.5 1661.8H2001.7V1668.5H1994.5zM2008.8 1661.8H2016.0V1668.5H2008.8zM1737.7 1668.5H1766.2V1675.2H1737.7zM2001.7 1668.5H2008.8V1675.2H2001.7zM1566.4 1675.2H1652.0V1682.0H1566.4zM1730.5 1675.2H1737.7V1682.0H1730.5zM1794.7 1675.2H1887.5V1682.0H1794.7zM2008.8 1675.2H2101.6V1682.0H2008.8zM1566.4 1682.0H1652.0V1688.7H1566.4zM1730.5 1682.0H1737.7V1688.7H1730.5zM1794.7 1682.0H1887.5V1688.7H1794.7zM2016.0 1682.0H2101.6V1688.7H2016.0zM1566.4 1688.7H1652.0V1695.4H1566.4zM1801.9 1688.7H1887.5V1695.4H1801.9zM2023.1 1688.7H2101.6V1695.4H2023.1zM1566.4 1695.4H1652.0V1702.1H1566.4zM1723.4 1695.4H1730.5V1702.1H1723.4zM1801.9 1695.4H1887.5V1702.1H1801.9zM2030.2 1695.4H2101.6V1702.1H2030.2zM1566.4 1702.1H1652.0V1708.9H1566.4zM1809.0 1702.1H1887.5V1708.9H1809.0zM1973.1 1702.1H1980.3V1708.9H1973.1zM2037.4 1702.1H2101.6V1708.9H2037.4zM1566.4 1708.9H1652.0V1715.6H1566.4zM1809.0 1708.9H1887.5V1715.6H1809.0zM1966.0 1708.9H1973.1V1715.6H1966.0zM2044.5 1708.9H2101.6V1715.6H2044.5zM1566.4 1715.6H1652.0V1722.3H1566.4zM1709.1 1715.6H1716.2V1722.3H1709.1zM1816.2 1715.6H1887.5V1722.3H1816.2zM2051.6 1715.6H2101.6V1722.3H2051.6zM1545.0 1722.3H1559.3V1729.1H1545.0zM1573.5 1722.3H1652.0V1729.1H1573.5zM1702.0 1722.3H1709.1V1729.1H1702.0zM1816.2 1722.3H1887.5V1729.1H1816.2zM2058.8 1722.3H2101.6V1729.1H2058.8zM2144.4 1722.3H2151.5V1729.1H2144.4zM1537.9 1729.1H1545.0V1735.8H1537.9zM1594.9 1729.1H1652.0V1735.8H1594.9zM1823.3 1729.1H1887.5V1735.8H1823.3zM1951.7 1729.1H1958.9V1735.8H1951.7zM2065.9 1729.1H2101.6V1735.8H2065.9zM2137.3 1729.1H2144.4V1735.8H2137.3zM1530.7 1735.8H1537.9V1742.5H1530.7zM1602.1 1735.8H1652.0V1742.5H1602.1zM1823.3 1735.8H1887.5V1742.5H1823.3zM2073.0 1735.8H2101.6V1742.5H2073.0zM2130.1 1735.8H2137.3V1742.5H2130.1zM1609.2 1742.5H1652.0V1749.3H1609.2zM1687.7 1742.5H1694.8V1749.3H1687.7zM1830.4 1742.5H1887.5V1749.3H1830.4zM1944.6 1742.5H1951.7V1749.3H1944.6zM2080.2 1742.5H2101.6V1749.3H2080.2zM1523.6 1749.3H1530.7V1756.0H1523.6zM1616.4 1749.3H1652.0V1756.0H1616.4zM1830.4 1749.3H1887.5V1756.0H1830.4zM1944.6 1749.3H1951.7V1756.0H1944.6zM2087.3 1749.3H2101.6V1756.0H2087.3zM1616.4 1756.0H1652.0V1762.7H1616.4zM1680.6 1756.0H1687.7V1762.7H1680.6zM1830.4 1756.0H1887.5V1762.7H1830.4zM2094.4 1756.0H2115.9V1762.7H2094.4zM1516.5 1762.7H1523.6V1769.5H1516.5zM1623.5 1762.7H1652.0V1769.5H1623.5zM1680.6 1762.7H1687.7V1769.5H1680.6zM1830.4 1762.7H1887.5V1769.5H1830.4zM2101.6 1762.7H2108.7V1769.5H2101.6zM1523.6 1769.5H1566.4V1776.2H1523.6zM1687.7 1769.5H1766.2V1776.2H1687.7zM1944.6 1769.5H2001.7V1776.2H1944.6zM2108.7 1769.5H2177.8V1776.2H2108.7zM1523.6 1776.2H1566.4V1782.9H1523.6zM1687.7 1776.2H1766.2V1782.9H1687.7zM1944.6 1776.2H2001.7V1782.9H1944.6zM2115.9 1776.2H2177.8V1782.9H2115.9zM1530.7 1782.9H1566.4V1789.6H1530.7zM1609.2 1782.9H1616.4V1789.6H1609.2zM1687.7 1782.9H1766.2V1789.6H1687.7zM1823.3 1782.9H1830.4V1789.6H1823.3zM1951.7 1782.9H2001.7V1789.6H1951.7zM2080.2 1782.9H2087.3V1789.6H2080.2zM2123.0 1782.9H2177.8V1789.6H2123.0zM1530.7 1789.6H1566.4V1796.4H1530.7zM1602.1 1789.6H1609.2V1796.4H1602.1zM1694.8 1789.6H1766.2V1796.4H1694.8zM1823.3 1789.6H1830.4V1796.4H1823.3zM1951.7 1789.6H2001.7V1796.4H1951.7zM2073.0 1789.6H2080.2V1796.4H2073.0zM2130.1 1789.6H2177.8V1796.4H2130.1zM1537.9 1796.4H1566.4V1803.1H1537.9zM1694.8 1796.4H1766.2V1803.1H1694.8zM1951.7 1796.4H2001.7V1803.1H1951.7zM2137.3 1796.4H2177.8V1803.1H2137.3zM1545.0 1803.1H1566.4V1809.8H1545.0zM1580.7 1803.1H1587.8V1809.8H1580.7zM1702.0 1803.1H1766.2V1809.8H1702.0zM1816.2 1803.1H1823.3V1809.8H1816.2zM1958.9 1803.1H2001.7V1809.8H1958.9zM2144.4 1803.1H2177.8V1809.8H2144.4zM1552.1 1809.8H1580.7V1816.6H1552.1zM1709.1 1809.8H1766.2V1816.6H1709.1zM1958.9 1809.8H2001.7V1816.6H1958.9zM2151.5 1809.8H2177.8V1816.6H2151.5zM1709.1 1816.6H1766.2V1835.3H1709.1zM1966.0 1816.6H2001.7V1835.3H1966.0zM2051.6 1816.6H2058.8V1835.3H2051.6zM2158.7 1816.6H2177.8V1835.3H2158.7z"/>
</g></g>
<rect x="1466.1" y="1163.3" width="700.1000000000001" height="660.3999999999999" fill="none" stroke="#222" stroke-opacity="0.6" stroke-width="2.6"/>
<path d="M1469.5 1149.5V1162.7M1451.9 1166.9H1465.5M1608.1 1149.5V1162.7M1451.9 1297.8H1465.5M1746.7 1149.5V1162.7M1451.9 1428.8H1465.5M1885.4 1149.5V1162.7M1451.9 1559.7H1465.5M2024.0 1149.5V1162.7M1451.9 1690.7H1465.5M2162.6 1149.5V1162.7M1451.9 1821.6H1465.5" stroke="#111" stroke-width="3.4" fill="none"/>
<rect x="2201.5" y="1717.55" width="32.5" height="104.55" fill="#000000"/>
<rect x="2201.5" y="1613.50" width="32.5" height="104.55" fill="#FF5570"/>
<rect x="2201.5" y="1509.45" width="32.5" height="104.55" fill="#00D042"/>
<rect x="2201.5" y="1405.40" width="32.5" height="104.55" fill="#0096E6"/>
<rect x="2201.5" y="1301.35" width="32.5" height="104.55" fill="#00E1E6"/>
<rect x="2201.5" y="1197.30" width="32.5" height="104.55" fill="#F000C8"/>
<rect x="2201.5" y="1197.3" width="32.5" height="624.3" fill="none" stroke="#222" stroke-opacity="0.6" stroke-width="2.6"/>
<path d="M2232.6 1771.3V1247.6M2232.6 1769.6H2267.8M2232.6 1665.5H2267.8M2232.6 1561.5H2267.8M2232.6 1457.4H2267.8M2232.6 1353.4H2267.8M2232.6 1249.3H2267.8" stroke="#111" stroke-width="3.6" fill="none"/>
<text font-family='"Liberation Sans", sans-serif' font-size="57.63" transform="translate(2298.09 1793.17) scale(0.9600 1.0000)">1</text>
<text font-family='"Liberation Sans", sans-serif' font-size="57.63" transform="translate(2298.85 1689.12) scale(0.9600 1.0000)">2</text>
<text font-family='"Liberation Sans", sans-serif' font-size="57.63" transform="translate(2298.98 1585.07) scale(0.9600 1.0000)">3</text>
<text font-family='"Liberation Sans", sans-serif' font-size="57.63" transform="translate(2298.98 1481.02) scale(0.9600 1.0000)">4</text>
<text font-family='"Liberation Sans", sans-serif' font-size="57.63" transform="translate(2298.85 1376.97) scale(0.9600 1.0000)">5</text>
<text font-family='"Liberation Sans", sans-serif' font-size="57.63" transform="translate(2298.64 1272.92) scale(0.9600 1.0000)">6</text>
</svg>
</body></html>
